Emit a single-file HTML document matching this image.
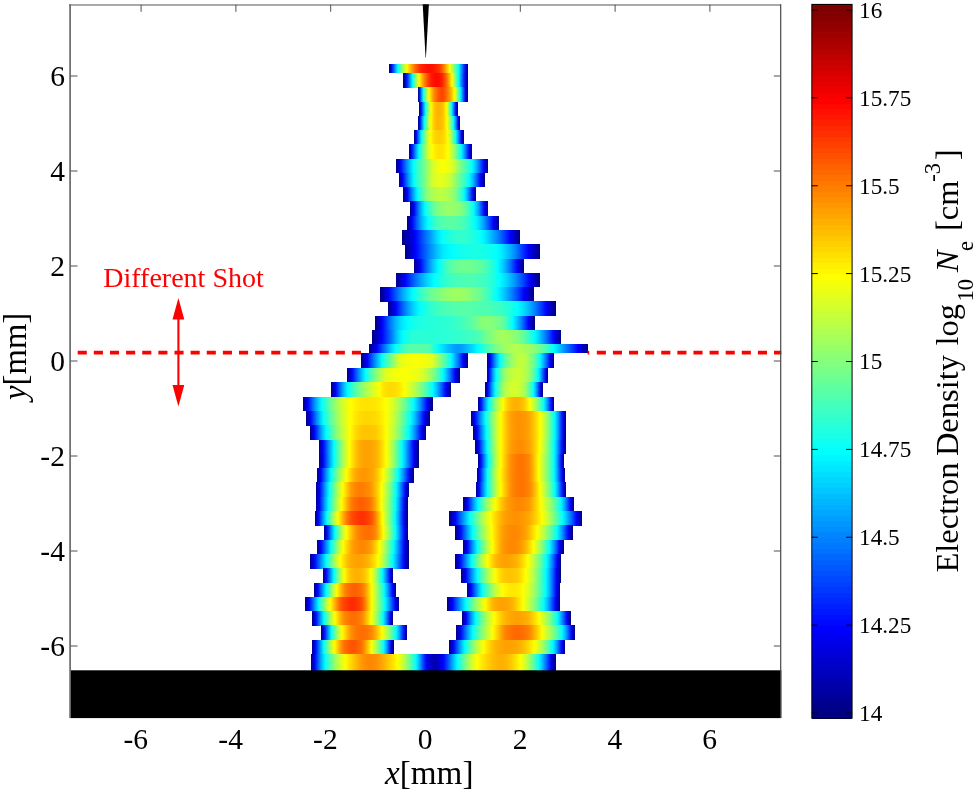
<!DOCTYPE html><html><head><meta charset="utf-8"><title>Electron Density</title><style>html,body{margin:0;padding:0;background:#fff}svg{display:block}text{font-family:"Liberation Serif","Times New Roman",serif;fill:#000}</style></head><body>
<svg width="976" height="792" viewBox="0 0 976 792">
<defs><linearGradient id="g1"><stop offset="0.0000" stop-color="#000080"/><stop offset="0.0256" stop-color="#0000e6"/><stop offset="0.0513" stop-color="#0047ff"/><stop offset="0.0769" stop-color="#009eff"/><stop offset="0.1026" stop-color="#00ecff"/><stop offset="0.1093" stop-color="#00ffff"/><stop offset="0.1282" stop-color="#32ffcd"/><stop offset="0.1538" stop-color="#71ff8e"/><stop offset="0.1795" stop-color="#aaff55"/><stop offset="0.2051" stop-color="#ddff22"/><stop offset="0.2236" stop-color="#ffff00"/><stop offset="0.2308" stop-color="#fff400"/><stop offset="0.2564" stop-color="#ffcd00"/><stop offset="0.2821" stop-color="#ffa800"/><stop offset="0.3077" stop-color="#ff8500"/><stop offset="0.3278" stop-color="#ff6e00"/><stop offset="0.3333" stop-color="#ff6800"/><stop offset="0.3590" stop-color="#ff4c00"/><stop offset="0.3846" stop-color="#ff3400"/><stop offset="0.4103" stop-color="#ff2400"/><stop offset="0.4168" stop-color="#ff2100"/><stop offset="0.4359" stop-color="#ff1b00"/><stop offset="0.4615" stop-color="#ff1400"/><stop offset="0.4872" stop-color="#ff0f00"/><stop offset="0.5128" stop-color="#ff0d00"/><stop offset="0.5184" stop-color="#ff0d00"/><stop offset="0.5385" stop-color="#ff0e00"/><stop offset="0.5641" stop-color="#ff1400"/><stop offset="0.5897" stop-color="#ff1e00"/><stop offset="0.6154" stop-color="#ff2900"/><stop offset="0.6201" stop-color="#ff2b00"/><stop offset="0.6410" stop-color="#ff3b00"/><stop offset="0.6667" stop-color="#ff5800"/><stop offset="0.6836" stop-color="#ff6e00"/><stop offset="0.6923" stop-color="#ff7a00"/><stop offset="0.7179" stop-color="#ffa600"/><stop offset="0.7436" stop-color="#ffd500"/><stop offset="0.7662" stop-color="#ffff00"/><stop offset="0.7692" stop-color="#f9ff06"/><stop offset="0.7949" stop-color="#c5ff3a"/><stop offset="0.8205" stop-color="#8eff71"/><stop offset="0.8462" stop-color="#55ffaa"/><stop offset="0.8718" stop-color="#17ffe8"/><stop offset="0.8806" stop-color="#00ffff"/><stop offset="0.8974" stop-color="#00d1ff"/><stop offset="0.9231" stop-color="#0086ff"/><stop offset="0.9487" stop-color="#0034ff"/><stop offset="0.9744" stop-color="#0000dc"/><stop offset="1.0000" stop-color="#000080"/></linearGradient><linearGradient id="g2"><stop offset="0.0000" stop-color="#000080"/><stop offset="0.0313" stop-color="#0000d6"/><stop offset="0.0625" stop-color="#002bff"/><stop offset="0.0937" stop-color="#007fff"/><stop offset="0.1250" stop-color="#00d1ff"/><stop offset="0.1424" stop-color="#00ffff"/><stop offset="0.1563" stop-color="#25ffda"/><stop offset="0.1875" stop-color="#7bff84"/><stop offset="0.2187" stop-color="#cbff34"/><stop offset="0.2430" stop-color="#ffff00"/><stop offset="0.2500" stop-color="#fff400"/><stop offset="0.2812" stop-color="#ffc300"/><stop offset="0.3125" stop-color="#ff9500"/><stop offset="0.3438" stop-color="#ff6d00"/><stop offset="0.3669" stop-color="#ff5400"/><stop offset="0.3750" stop-color="#ff4c00"/><stop offset="0.4062" stop-color="#ff2e00"/><stop offset="0.4375" stop-color="#ff1a00"/><stop offset="0.4443" stop-color="#ff1700"/><stop offset="0.4688" stop-color="#ff1000"/><stop offset="0.5000" stop-color="#ff0900"/><stop offset="0.5217" stop-color="#ff0800"/><stop offset="0.5312" stop-color="#ff0800"/><stop offset="0.5625" stop-color="#ff1000"/><stop offset="0.5938" stop-color="#ff1e00"/><stop offset="0.5991" stop-color="#ff2100"/><stop offset="0.6250" stop-color="#ff3600"/><stop offset="0.6562" stop-color="#ff5d00"/><stop offset="0.6687" stop-color="#ff6e00"/><stop offset="0.6875" stop-color="#ff8900"/><stop offset="0.7188" stop-color="#ffc000"/><stop offset="0.7500" stop-color="#fff800"/><stop offset="0.7539" stop-color="#ffff00"/><stop offset="0.7812" stop-color="#c0ff3f"/><stop offset="0.8125" stop-color="#70ff8f"/><stop offset="0.8437" stop-color="#1cffe3"/><stop offset="0.8545" stop-color="#00ffff"/><stop offset="0.8750" stop-color="#00caff"/><stop offset="0.9063" stop-color="#0079ff"/><stop offset="0.9375" stop-color="#0027ff"/><stop offset="0.9687" stop-color="#0000d3"/><stop offset="1.0000" stop-color="#000080"/></linearGradient><linearGradient id="g3"><stop offset="0.0000" stop-color="#000080"/><stop offset="0.0400" stop-color="#001fff"/><stop offset="0.0800" stop-color="#00aaff"/><stop offset="0.1087" stop-color="#00ffff"/><stop offset="0.1200" stop-color="#1effe1"/><stop offset="0.1600" stop-color="#81ff7e"/><stop offset="0.2000" stop-color="#d4ff2b"/><stop offset="0.2254" stop-color="#ffff00"/><stop offset="0.2400" stop-color="#ffec00"/><stop offset="0.2800" stop-color="#ffbb00"/><stop offset="0.3200" stop-color="#ff9000"/><stop offset="0.3461" stop-color="#ff7d00"/><stop offset="0.3600" stop-color="#ff7500"/><stop offset="0.4000" stop-color="#ff5e00"/><stop offset="0.4400" stop-color="#ff4d00"/><stop offset="0.4800" stop-color="#ff4500"/><stop offset="0.4869" stop-color="#ff4500"/><stop offset="0.5200" stop-color="#ff4b00"/><stop offset="0.5600" stop-color="#ff6000"/><stop offset="0.6000" stop-color="#ff7c00"/><stop offset="0.6278" stop-color="#ff9100"/><stop offset="0.6400" stop-color="#ff9b00"/><stop offset="0.6800" stop-color="#ffc000"/><stop offset="0.7200" stop-color="#ffeb00"/><stop offset="0.7364" stop-color="#ffff00"/><stop offset="0.7600" stop-color="#d7ff28"/><stop offset="0.8000" stop-color="#81ff7e"/><stop offset="0.8400" stop-color="#20ffdf"/><stop offset="0.8531" stop-color="#00ffff"/><stop offset="0.8800" stop-color="#00beff"/><stop offset="0.9200" stop-color="#0059ff"/><stop offset="0.9600" stop-color="#0000ee"/><stop offset="1.0000" stop-color="#000080"/></linearGradient><linearGradient id="g4"><stop offset="0.0000" stop-color="#000080"/><stop offset="0.0526" stop-color="#000bff"/><stop offset="0.1053" stop-color="#0089ff"/><stop offset="0.1579" stop-color="#00f9ff"/><stop offset="0.1610" stop-color="#00ffff"/><stop offset="0.2105" stop-color="#62ff9d"/><stop offset="0.2632" stop-color="#c1ff3e"/><stop offset="0.3117" stop-color="#ffff00"/><stop offset="0.3158" stop-color="#fffc00"/><stop offset="0.3684" stop-color="#ffd400"/><stop offset="0.4211" stop-color="#ffbc00"/><stop offset="0.4262" stop-color="#ffbb00"/><stop offset="0.4737" stop-color="#ffb200"/><stop offset="0.5091" stop-color="#ffb000"/><stop offset="0.5263" stop-color="#ffb100"/><stop offset="0.5789" stop-color="#ffb900"/><stop offset="0.5909" stop-color="#ffbb00"/><stop offset="0.6316" stop-color="#ffca00"/><stop offset="0.6842" stop-color="#ffee00"/><stop offset="0.7039" stop-color="#ffff00"/><stop offset="0.7368" stop-color="#d3ff2c"/><stop offset="0.7895" stop-color="#6cff93"/><stop offset="0.8390" stop-color="#00ffff"/><stop offset="0.8421" stop-color="#00f8ff"/><stop offset="0.8947" stop-color="#0085ff"/><stop offset="0.9474" stop-color="#0007ff"/><stop offset="1.0000" stop-color="#000080"/></linearGradient><linearGradient id="g5"><stop offset="0.0000" stop-color="#000080"/><stop offset="0.0476" stop-color="#000aff"/><stop offset="0.0952" stop-color="#0086ff"/><stop offset="0.1429" stop-color="#00f1ff"/><stop offset="0.1500" stop-color="#00ffff"/><stop offset="0.1905" stop-color="#4effb1"/><stop offset="0.2381" stop-color="#a2ff5d"/><stop offset="0.2857" stop-color="#e6ff19"/><stop offset="0.3095" stop-color="#ffff00"/><stop offset="0.3333" stop-color="#ffeb00"/><stop offset="0.3810" stop-color="#ffcb00"/><stop offset="0.4131" stop-color="#ffbf00"/><stop offset="0.4286" stop-color="#ffbc00"/><stop offset="0.4762" stop-color="#ffb500"/><stop offset="0.4881" stop-color="#ffb500"/><stop offset="0.5238" stop-color="#ffb800"/><stop offset="0.5701" stop-color="#ffbf00"/><stop offset="0.5714" stop-color="#ffbf00"/><stop offset="0.6190" stop-color="#ffd200"/><stop offset="0.6667" stop-color="#fff200"/><stop offset="0.6833" stop-color="#ffff00"/><stop offset="0.7143" stop-color="#deff21"/><stop offset="0.7619" stop-color="#99ff66"/><stop offset="0.8095" stop-color="#44ffbb"/><stop offset="0.8452" stop-color="#00ffff"/><stop offset="0.8571" stop-color="#00e7ff"/><stop offset="0.9048" stop-color="#007eff"/><stop offset="0.9524" stop-color="#0006ff"/><stop offset="1.0000" stop-color="#000080"/></linearGradient><linearGradient id="g6"><stop offset="0.0000" stop-color="#000080"/><stop offset="0.0400" stop-color="#0000f8"/><stop offset="0.0800" stop-color="#0067ff"/><stop offset="0.1200" stop-color="#00c7ff"/><stop offset="0.1478" stop-color="#00ffff"/><stop offset="0.1600" stop-color="#16ffe9"/><stop offset="0.2000" stop-color="#5cffa3"/><stop offset="0.2400" stop-color="#9bff64"/><stop offset="0.2800" stop-color="#d0ff2f"/><stop offset="0.3200" stop-color="#f8ff07"/><stop offset="0.3300" stop-color="#ffff00"/><stop offset="0.3600" stop-color="#ffee00"/><stop offset="0.4000" stop-color="#ffdb00"/><stop offset="0.4321" stop-color="#ffd300"/><stop offset="0.4400" stop-color="#ffd200"/><stop offset="0.4800" stop-color="#ffce00"/><stop offset="0.5061" stop-color="#ffcd00"/><stop offset="0.5200" stop-color="#ffcd00"/><stop offset="0.5600" stop-color="#ffd100"/><stop offset="0.5775" stop-color="#ffd300"/><stop offset="0.6000" stop-color="#ffd800"/><stop offset="0.6400" stop-color="#ffe900"/><stop offset="0.6761" stop-color="#ffff00"/><stop offset="0.6800" stop-color="#fcff03"/><stop offset="0.7200" stop-color="#d1ff2e"/><stop offset="0.7600" stop-color="#94ff6b"/><stop offset="0.8000" stop-color="#4cffb3"/><stop offset="0.8400" stop-color="#00ffff"/><stop offset="0.8401" stop-color="#00ffff"/><stop offset="0.8800" stop-color="#00aeff"/><stop offset="0.9200" stop-color="#0052ff"/><stop offset="0.9600" stop-color="#0000ec"/><stop offset="1.0000" stop-color="#000080"/></linearGradient><linearGradient id="g7"><stop offset="0.0000" stop-color="#000080"/><stop offset="0.0312" stop-color="#0000d7"/><stop offset="0.0625" stop-color="#002bff"/><stop offset="0.0937" stop-color="#0078ff"/><stop offset="0.1250" stop-color="#00bcff"/><stop offset="0.1562" stop-color="#00f7ff"/><stop offset="0.1611" stop-color="#00ffff"/><stop offset="0.1875" stop-color="#2bffd4"/><stop offset="0.2188" stop-color="#5cffa3"/><stop offset="0.2500" stop-color="#8aff75"/><stop offset="0.2813" stop-color="#b3ff4c"/><stop offset="0.3125" stop-color="#d5ff2a"/><stop offset="0.3438" stop-color="#f1ff0e"/><stop offset="0.3665" stop-color="#ffff00"/><stop offset="0.3750" stop-color="#fffb00"/><stop offset="0.4062" stop-color="#ffef00"/><stop offset="0.4375" stop-color="#ffe700"/><stop offset="0.4398" stop-color="#ffe700"/><stop offset="0.4687" stop-color="#ffe400"/><stop offset="0.4929" stop-color="#ffe300"/><stop offset="0.5000" stop-color="#ffe400"/><stop offset="0.5313" stop-color="#ffe600"/><stop offset="0.5413" stop-color="#ffe700"/><stop offset="0.5625" stop-color="#ffec00"/><stop offset="0.5938" stop-color="#fff800"/><stop offset="0.6082" stop-color="#ffff00"/><stop offset="0.6250" stop-color="#f5ff0a"/><stop offset="0.6563" stop-color="#dcff23"/><stop offset="0.6875" stop-color="#bcff43"/><stop offset="0.7187" stop-color="#98ff67"/><stop offset="0.7500" stop-color="#6eff91"/><stop offset="0.7812" stop-color="#42ffbd"/><stop offset="0.8125" stop-color="#13ffec"/><stop offset="0.8246" stop-color="#00ffff"/><stop offset="0.8438" stop-color="#00e0ff"/><stop offset="0.8750" stop-color="#00a6ff"/><stop offset="0.9063" stop-color="#0065ff"/><stop offset="0.9375" stop-color="#001eff"/><stop offset="0.9688" stop-color="#0000d0"/><stop offset="1.0000" stop-color="#000080"/></linearGradient><linearGradient id="g8"><stop offset="0.0000" stop-color="#000080"/><stop offset="0.0217" stop-color="#0000b7"/><stop offset="0.0435" stop-color="#0000ec"/><stop offset="0.0652" stop-color="#0020ff"/><stop offset="0.0870" stop-color="#004fff"/><stop offset="0.1087" stop-color="#007bff"/><stop offset="0.1304" stop-color="#00a3ff"/><stop offset="0.1522" stop-color="#00c8ff"/><stop offset="0.1739" stop-color="#00e9ff"/><stop offset="0.1902" stop-color="#00ffff"/><stop offset="0.1957" stop-color="#07fff8"/><stop offset="0.2174" stop-color="#20ffdf"/><stop offset="0.2391" stop-color="#36ffc9"/><stop offset="0.2609" stop-color="#4affb5"/><stop offset="0.2826" stop-color="#5dffa2"/><stop offset="0.3043" stop-color="#70ff8f"/><stop offset="0.3207" stop-color="#80ff80"/><stop offset="0.3261" stop-color="#85ff7a"/><stop offset="0.3478" stop-color="#9dff62"/><stop offset="0.3696" stop-color="#b6ff49"/><stop offset="0.3913" stop-color="#ccff33"/><stop offset="0.4130" stop-color="#dbff24"/><stop offset="0.4348" stop-color="#e5ff1a"/><stop offset="0.4565" stop-color="#eeff11"/><stop offset="0.4783" stop-color="#f5ff0a"/><stop offset="0.5000" stop-color="#f9ff06"/><stop offset="0.5109" stop-color="#faff05"/><stop offset="0.5217" stop-color="#f9ff06"/><stop offset="0.5435" stop-color="#f6ff09"/><stop offset="0.5652" stop-color="#efff10"/><stop offset="0.5870" stop-color="#e6ff19"/><stop offset="0.6087" stop-color="#dbff24"/><stop offset="0.6304" stop-color="#cbff34"/><stop offset="0.6522" stop-color="#b3ff4c"/><stop offset="0.6739" stop-color="#98ff67"/><stop offset="0.6957" stop-color="#80ff80"/><stop offset="0.7174" stop-color="#6bff94"/><stop offset="0.7391" stop-color="#58ffa7"/><stop offset="0.7609" stop-color="#45ffba"/><stop offset="0.7826" stop-color="#31ffce"/><stop offset="0.8043" stop-color="#1affe5"/><stop offset="0.8261" stop-color="#00ffff"/><stop offset="0.8478" stop-color="#00dfff"/><stop offset="0.8696" stop-color="#00baff"/><stop offset="0.8913" stop-color="#0090ff"/><stop offset="0.9130" stop-color="#0062ff"/><stop offset="0.9348" stop-color="#002fff"/><stop offset="0.9565" stop-color="#0000f7"/><stop offset="0.9783" stop-color="#0000bd"/><stop offset="1.0000" stop-color="#000080"/></linearGradient><linearGradient id="g9"><stop offset="0.0000" stop-color="#000080"/><stop offset="0.0233" stop-color="#0000bf"/><stop offset="0.0465" stop-color="#0000fb"/><stop offset="0.0698" stop-color="#0034ff"/><stop offset="0.0930" stop-color="#0068ff"/><stop offset="0.1163" stop-color="#0097ff"/><stop offset="0.1395" stop-color="#00c2ff"/><stop offset="0.1628" stop-color="#00e7ff"/><stop offset="0.1802" stop-color="#00ffff"/><stop offset="0.1860" stop-color="#07fff8"/><stop offset="0.2093" stop-color="#22ffdd"/><stop offset="0.2326" stop-color="#38ffc7"/><stop offset="0.2558" stop-color="#4cffb3"/><stop offset="0.2791" stop-color="#60ff9f"/><stop offset="0.3023" stop-color="#74ff8b"/><stop offset="0.3140" stop-color="#80ff80"/><stop offset="0.3256" stop-color="#8cff73"/><stop offset="0.3488" stop-color="#a7ff58"/><stop offset="0.3721" stop-color="#c0ff3f"/><stop offset="0.3895" stop-color="#ccff33"/><stop offset="0.3953" stop-color="#cfff30"/><stop offset="0.4186" stop-color="#d8ff27"/><stop offset="0.4419" stop-color="#e0ff1f"/><stop offset="0.4651" stop-color="#e4ff1b"/><stop offset="0.4826" stop-color="#e5ff1a"/><stop offset="0.4884" stop-color="#e5ff1a"/><stop offset="0.5116" stop-color="#e3ff1c"/><stop offset="0.5349" stop-color="#deff21"/><stop offset="0.5581" stop-color="#d7ff28"/><stop offset="0.5814" stop-color="#ceff31"/><stop offset="0.5872" stop-color="#ccff33"/><stop offset="0.6047" stop-color="#c3ff3c"/><stop offset="0.6279" stop-color="#b1ff4e"/><stop offset="0.6512" stop-color="#9bff64"/><stop offset="0.6744" stop-color="#85ff7a"/><stop offset="0.6802" stop-color="#80ff80"/><stop offset="0.6977" stop-color="#71ff8e"/><stop offset="0.7209" stop-color="#5effa1"/><stop offset="0.7442" stop-color="#4bffb4"/><stop offset="0.7674" stop-color="#37ffc8"/><stop offset="0.7907" stop-color="#21ffde"/><stop offset="0.8140" stop-color="#07fff8"/><stop offset="0.8198" stop-color="#00ffff"/><stop offset="0.8372" stop-color="#00e7ff"/><stop offset="0.8605" stop-color="#00c3ff"/><stop offset="0.8837" stop-color="#0098ff"/><stop offset="0.9070" stop-color="#0069ff"/><stop offset="0.9302" stop-color="#0035ff"/><stop offset="0.9535" stop-color="#0000fb"/><stop offset="0.9767" stop-color="#0000bf"/><stop offset="1.0000" stop-color="#000080"/></linearGradient><linearGradient id="g10"><stop offset="0.0000" stop-color="#000080"/><stop offset="0.0278" stop-color="#0000c3"/><stop offset="0.0556" stop-color="#0003ff"/><stop offset="0.0833" stop-color="#003fff"/><stop offset="0.1111" stop-color="#0076ff"/><stop offset="0.1389" stop-color="#00a8ff"/><stop offset="0.1667" stop-color="#00d5ff"/><stop offset="0.1944" stop-color="#00fbff"/><stop offset="0.1975" stop-color="#00ffff"/><stop offset="0.2222" stop-color="#1effe1"/><stop offset="0.2500" stop-color="#3fffc0"/><stop offset="0.2778" stop-color="#5dffa2"/><stop offset="0.3056" stop-color="#78ff87"/><stop offset="0.3333" stop-color="#8dff72"/><stop offset="0.3611" stop-color="#9dff62"/><stop offset="0.3715" stop-color="#a0ff5f"/><stop offset="0.3889" stop-color="#a6ff59"/><stop offset="0.4167" stop-color="#aeff51"/><stop offset="0.4444" stop-color="#b5ff4a"/><stop offset="0.4722" stop-color="#baff45"/><stop offset="0.5000" stop-color="#bcff43"/><stop offset="0.5138" stop-color="#bdff42"/><stop offset="0.5278" stop-color="#bcff43"/><stop offset="0.5556" stop-color="#baff45"/><stop offset="0.5833" stop-color="#b5ff4a"/><stop offset="0.6111" stop-color="#aeff51"/><stop offset="0.6389" stop-color="#a7ff58"/><stop offset="0.6593" stop-color="#a0ff5f"/><stop offset="0.6667" stop-color="#9eff61"/><stop offset="0.6944" stop-color="#90ff6f"/><stop offset="0.7222" stop-color="#7dff82"/><stop offset="0.7500" stop-color="#65ff9a"/><stop offset="0.7778" stop-color="#48ffb7"/><stop offset="0.8056" stop-color="#28ffd7"/><stop offset="0.8333" stop-color="#05fffa"/><stop offset="0.8370" stop-color="#00ffff"/><stop offset="0.8611" stop-color="#00dbff"/><stop offset="0.8889" stop-color="#00a6ff"/><stop offset="0.9167" stop-color="#0067ff"/><stop offset="0.9444" stop-color="#0020ff"/><stop offset="0.9722" stop-color="#0000d2"/><stop offset="1.0000" stop-color="#000080"/></linearGradient><linearGradient id="g11"><stop offset="0.0000" stop-color="#000080"/><stop offset="0.0256" stop-color="#0000c0"/><stop offset="0.0513" stop-color="#0000fe"/><stop offset="0.0769" stop-color="#0039ff"/><stop offset="0.1026" stop-color="#006eff"/><stop offset="0.1282" stop-color="#009eff"/><stop offset="0.1538" stop-color="#00c8ff"/><stop offset="0.1795" stop-color="#00ecff"/><stop offset="0.1962" stop-color="#00ffff"/><stop offset="0.2051" stop-color="#0afff5"/><stop offset="0.2308" stop-color="#24ffdb"/><stop offset="0.2564" stop-color="#3cffc3"/><stop offset="0.2821" stop-color="#52ffad"/><stop offset="0.3077" stop-color="#64ff9b"/><stop offset="0.3333" stop-color="#74ff8b"/><stop offset="0.3590" stop-color="#7fff80"/><stop offset="0.3703" stop-color="#82ff7d"/><stop offset="0.3846" stop-color="#86ff79"/><stop offset="0.4103" stop-color="#8cff73"/><stop offset="0.4359" stop-color="#91ff6e"/><stop offset="0.4615" stop-color="#95ff6a"/><stop offset="0.4872" stop-color="#98ff67"/><stop offset="0.5128" stop-color="#99ff66"/><stop offset="0.5385" stop-color="#98ff67"/><stop offset="0.5641" stop-color="#95ff6a"/><stop offset="0.5897" stop-color="#90ff6f"/><stop offset="0.6154" stop-color="#8bff74"/><stop offset="0.6410" stop-color="#84ff7b"/><stop offset="0.6478" stop-color="#82ff7d"/><stop offset="0.6667" stop-color="#7bff84"/><stop offset="0.6923" stop-color="#6eff91"/><stop offset="0.7179" stop-color="#5dffa2"/><stop offset="0.7436" stop-color="#47ffb8"/><stop offset="0.7692" stop-color="#2fffd0"/><stop offset="0.7949" stop-color="#14ffeb"/><stop offset="0.8128" stop-color="#00ffff"/><stop offset="0.8205" stop-color="#00f6ff"/><stop offset="0.8462" stop-color="#00d3ff"/><stop offset="0.8718" stop-color="#00a8ff"/><stop offset="0.8974" stop-color="#0077ff"/><stop offset="0.9231" stop-color="#0041ff"/><stop offset="0.9487" stop-color="#0005ff"/><stop offset="0.9744" stop-color="#0000c3"/><stop offset="1.0000" stop-color="#000080"/></linearGradient><linearGradient id="g12"><stop offset="0.0000" stop-color="#000080"/><stop offset="0.0217" stop-color="#0000b2"/><stop offset="0.0435" stop-color="#0000e2"/><stop offset="0.0652" stop-color="#0010ff"/><stop offset="0.0870" stop-color="#003bff"/><stop offset="0.1087" stop-color="#0063ff"/><stop offset="0.1304" stop-color="#0087ff"/><stop offset="0.1522" stop-color="#00a8ff"/><stop offset="0.1739" stop-color="#00c6ff"/><stop offset="0.1957" stop-color="#00e0ff"/><stop offset="0.2174" stop-color="#00f6ff"/><stop offset="0.2273" stop-color="#00ffff"/><stop offset="0.2391" stop-color="#0afff5"/><stop offset="0.2609" stop-color="#1bffe4"/><stop offset="0.2826" stop-color="#2bffd4"/><stop offset="0.3043" stop-color="#38ffc7"/><stop offset="0.3261" stop-color="#43ffbc"/><stop offset="0.3478" stop-color="#4bffb4"/><stop offset="0.3582" stop-color="#4effb1"/><stop offset="0.3696" stop-color="#50ffaf"/><stop offset="0.3913" stop-color="#54ffab"/><stop offset="0.4130" stop-color="#58ffa7"/><stop offset="0.4348" stop-color="#5affa5"/><stop offset="0.4565" stop-color="#5cffa3"/><stop offset="0.4654" stop-color="#5cffa3"/><stop offset="0.4783" stop-color="#5cffa3"/><stop offset="0.5000" stop-color="#5affa5"/><stop offset="0.5217" stop-color="#58ffa7"/><stop offset="0.5435" stop-color="#55ffaa"/><stop offset="0.5652" stop-color="#52ffad"/><stop offset="0.5870" stop-color="#4effb1"/><stop offset="0.5871" stop-color="#4effb1"/><stop offset="0.6087" stop-color="#49ffb6"/><stop offset="0.6304" stop-color="#41ffbe"/><stop offset="0.6522" stop-color="#36ffc9"/><stop offset="0.6739" stop-color="#2affd5"/><stop offset="0.6957" stop-color="#1cffe3"/><stop offset="0.7174" stop-color="#0dfff2"/><stop offset="0.7359" stop-color="#00ffff"/><stop offset="0.7391" stop-color="#00fdff"/><stop offset="0.7609" stop-color="#00ebff"/><stop offset="0.7826" stop-color="#00d6ff"/><stop offset="0.8043" stop-color="#00beff"/><stop offset="0.8261" stop-color="#00a4ff"/><stop offset="0.8478" stop-color="#0087ff"/><stop offset="0.8696" stop-color="#0068ff"/><stop offset="0.8913" stop-color="#0047ff"/><stop offset="0.9130" stop-color="#0023ff"/><stop offset="0.9348" stop-color="#0000fc"/><stop offset="0.9565" stop-color="#0000d5"/><stop offset="0.9783" stop-color="#0000ab"/><stop offset="1.0000" stop-color="#000080"/></linearGradient><linearGradient id="g13"><stop offset="0.0000" stop-color="#000080"/><stop offset="0.0169" stop-color="#000092"/><stop offset="0.0339" stop-color="#0000a5"/><stop offset="0.0508" stop-color="#0000b8"/><stop offset="0.0678" stop-color="#0000cb"/><stop offset="0.0847" stop-color="#0000df"/><stop offset="0.1017" stop-color="#0000f2"/><stop offset="0.1124" stop-color="#0000ff"/><stop offset="0.1186" stop-color="#0007ff"/><stop offset="0.1356" stop-color="#001cff"/><stop offset="0.1525" stop-color="#0031ff"/><stop offset="0.1695" stop-color="#0047ff"/><stop offset="0.1864" stop-color="#005cff"/><stop offset="0.2034" stop-color="#0070ff"/><stop offset="0.2172" stop-color="#0080ff"/><stop offset="0.2203" stop-color="#0083ff"/><stop offset="0.2373" stop-color="#0096ff"/><stop offset="0.2542" stop-color="#00a9ff"/><stop offset="0.2712" stop-color="#00bdff"/><stop offset="0.2881" stop-color="#00d0ff"/><stop offset="0.3051" stop-color="#00e1ff"/><stop offset="0.3220" stop-color="#00f1ff"/><stop offset="0.3390" stop-color="#00ffff"/><stop offset="0.3559" stop-color="#0bfff4"/><stop offset="0.3660" stop-color="#0ffff0"/><stop offset="0.3729" stop-color="#12ffed"/><stop offset="0.3898" stop-color="#19ffe6"/><stop offset="0.4068" stop-color="#1fffe0"/><stop offset="0.4237" stop-color="#25ffda"/><stop offset="0.4407" stop-color="#2affd5"/><stop offset="0.4576" stop-color="#2effd1"/><stop offset="0.4746" stop-color="#31ffce"/><stop offset="0.4915" stop-color="#33ffcc"/><stop offset="0.5013" stop-color="#33ffcc"/><stop offset="0.5085" stop-color="#33ffcc"/><stop offset="0.5254" stop-color="#32ffcd"/><stop offset="0.5424" stop-color="#2fffd0"/><stop offset="0.5593" stop-color="#2cffd3"/><stop offset="0.5763" stop-color="#27ffd8"/><stop offset="0.5932" stop-color="#22ffdd"/><stop offset="0.6102" stop-color="#1cffe3"/><stop offset="0.6271" stop-color="#16ffe9"/><stop offset="0.6441" stop-color="#10ffef"/><stop offset="0.6450" stop-color="#0ffff0"/><stop offset="0.6610" stop-color="#08fff7"/><stop offset="0.6780" stop-color="#00fdff"/><stop offset="0.6949" stop-color="#00f2ff"/><stop offset="0.7119" stop-color="#00e4ff"/><stop offset="0.7288" stop-color="#00d5ff"/><stop offset="0.7458" stop-color="#00c5ff"/><stop offset="0.7627" stop-color="#00b4ff"/><stop offset="0.7797" stop-color="#00a3ff"/><stop offset="0.7966" stop-color="#0092ff"/><stop offset="0.8136" stop-color="#0080ff"/><stop offset="0.8140" stop-color="#0080ff"/><stop offset="0.8305" stop-color="#006eff"/><stop offset="0.8475" stop-color="#005aff"/><stop offset="0.8644" stop-color="#0045ff"/><stop offset="0.8814" stop-color="#002eff"/><stop offset="0.8983" stop-color="#0018ff"/><stop offset="0.9153" stop-color="#0000ff"/><stop offset="0.9155" stop-color="#0000ff"/><stop offset="0.9322" stop-color="#0000e7"/><stop offset="0.9492" stop-color="#0000cf"/><stop offset="0.9661" stop-color="#0000b5"/><stop offset="0.9831" stop-color="#00009b"/><stop offset="1.0000" stop-color="#000080"/></linearGradient><linearGradient id="g14"><stop offset="0.0000" stop-color="#000080"/><stop offset="0.0147" stop-color="#000098"/><stop offset="0.0294" stop-color="#0000b0"/><stop offset="0.0441" stop-color="#0000c8"/><stop offset="0.0588" stop-color="#0000de"/><stop offset="0.0735" stop-color="#0000f4"/><stop offset="0.0882" stop-color="#000bff"/><stop offset="0.0990" stop-color="#001aff"/><stop offset="0.1029" stop-color="#001fff"/><stop offset="0.1176" stop-color="#0033ff"/><stop offset="0.1324" stop-color="#0046ff"/><stop offset="0.1471" stop-color="#0059ff"/><stop offset="0.1618" stop-color="#006bff"/><stop offset="0.1765" stop-color="#007dff"/><stop offset="0.1912" stop-color="#008dff"/><stop offset="0.2024" stop-color="#0099ff"/><stop offset="0.2059" stop-color="#009dff"/><stop offset="0.2206" stop-color="#00adff"/><stop offset="0.2353" stop-color="#00bdff"/><stop offset="0.2500" stop-color="#00ccff"/><stop offset="0.2647" stop-color="#00daff"/><stop offset="0.2794" stop-color="#00e6ff"/><stop offset="0.2941" stop-color="#00eeff"/><stop offset="0.2984" stop-color="#00f0ff"/><stop offset="0.3088" stop-color="#00f3ff"/><stop offset="0.3235" stop-color="#00f8ff"/><stop offset="0.3382" stop-color="#00fcff"/><stop offset="0.3529" stop-color="#01fffe"/><stop offset="0.3676" stop-color="#05fffa"/><stop offset="0.3824" stop-color="#09fff6"/><stop offset="0.3971" stop-color="#0cfff3"/><stop offset="0.4118" stop-color="#0ffff0"/><stop offset="0.4265" stop-color="#12ffed"/><stop offset="0.4412" stop-color="#14ffeb"/><stop offset="0.4559" stop-color="#16ffe9"/><stop offset="0.4706" stop-color="#17ffe8"/><stop offset="0.4853" stop-color="#18ffe7"/><stop offset="0.5000" stop-color="#19ffe6"/><stop offset="0.5147" stop-color="#19ffe6"/><stop offset="0.5177" stop-color="#1affe5"/><stop offset="0.5294" stop-color="#19ffe6"/><stop offset="0.5441" stop-color="#19ffe6"/><stop offset="0.5588" stop-color="#18ffe7"/><stop offset="0.5735" stop-color="#16ffe9"/><stop offset="0.5882" stop-color="#14ffeb"/><stop offset="0.6029" stop-color="#12ffed"/><stop offset="0.6176" stop-color="#10ffef"/><stop offset="0.6324" stop-color="#0dfff2"/><stop offset="0.6471" stop-color="#0afff5"/><stop offset="0.6618" stop-color="#06fff9"/><stop offset="0.6677" stop-color="#05fffa"/><stop offset="0.6765" stop-color="#02fffd"/><stop offset="0.6912" stop-color="#00fbff"/><stop offset="0.7059" stop-color="#00f2ff"/><stop offset="0.7206" stop-color="#00e7ff"/><stop offset="0.7353" stop-color="#00dbff"/><stop offset="0.7500" stop-color="#00cdff"/><stop offset="0.7647" stop-color="#00c0ff"/><stop offset="0.7784" stop-color="#00b2ff"/><stop offset="0.7794" stop-color="#00b2ff"/><stop offset="0.7941" stop-color="#00a2ff"/><stop offset="0.8088" stop-color="#0091ff"/><stop offset="0.8235" stop-color="#007dff"/><stop offset="0.8382" stop-color="#0069ff"/><stop offset="0.8529" stop-color="#0053ff"/><stop offset="0.8676" stop-color="#003eff"/><stop offset="0.8824" stop-color="#0028ff"/><stop offset="0.8929" stop-color="#001aff"/><stop offset="0.8971" stop-color="#0014ff"/><stop offset="0.9118" stop-color="#0000fe"/><stop offset="0.9265" stop-color="#0000ea"/><stop offset="0.9412" stop-color="#0000d5"/><stop offset="0.9559" stop-color="#0000c0"/><stop offset="0.9706" stop-color="#0000aa"/><stop offset="0.9853" stop-color="#000095"/><stop offset="1.0000" stop-color="#000080"/></linearGradient><linearGradient id="g15"><stop offset="0.0000" stop-color="#000080"/><stop offset="0.0182" stop-color="#0000a8"/><stop offset="0.0364" stop-color="#0000cf"/><stop offset="0.0545" stop-color="#0000f5"/><stop offset="0.0727" stop-color="#001aff"/><stop offset="0.0909" stop-color="#003cff"/><stop offset="0.1091" stop-color="#005dff"/><stop offset="0.1273" stop-color="#007bff"/><stop offset="0.1455" stop-color="#0098ff"/><stop offset="0.1636" stop-color="#00b2ff"/><stop offset="0.1818" stop-color="#00cbff"/><stop offset="0.2000" stop-color="#00e1ff"/><stop offset="0.2182" stop-color="#00f5ff"/><stop offset="0.2281" stop-color="#00ffff"/><stop offset="0.2364" stop-color="#08fff7"/><stop offset="0.2545" stop-color="#19ffe6"/><stop offset="0.2727" stop-color="#2affd5"/><stop offset="0.2909" stop-color="#39ffc6"/><stop offset="0.3091" stop-color="#47ffb8"/><stop offset="0.3273" stop-color="#52ffad"/><stop offset="0.3455" stop-color="#5affa5"/><stop offset="0.3605" stop-color="#5fffa0"/><stop offset="0.3636" stop-color="#60ff9f"/><stop offset="0.3818" stop-color="#65ff9a"/><stop offset="0.4000" stop-color="#68ff97"/><stop offset="0.4182" stop-color="#6cff93"/><stop offset="0.4364" stop-color="#6eff91"/><stop offset="0.4545" stop-color="#70ff8f"/><stop offset="0.4688" stop-color="#70ff8f"/><stop offset="0.4727" stop-color="#70ff8f"/><stop offset="0.4909" stop-color="#70ff8f"/><stop offset="0.5091" stop-color="#6eff91"/><stop offset="0.5273" stop-color="#6cff93"/><stop offset="0.5455" stop-color="#6aff95"/><stop offset="0.5636" stop-color="#66ff99"/><stop offset="0.5818" stop-color="#63ff9c"/><stop offset="0.5999" stop-color="#5fffa0"/><stop offset="0.6000" stop-color="#5fffa0"/><stop offset="0.6182" stop-color="#5bffa4"/><stop offset="0.6364" stop-color="#54ffab"/><stop offset="0.6545" stop-color="#4bffb4"/><stop offset="0.6727" stop-color="#41ffbe"/><stop offset="0.6909" stop-color="#35ffca"/><stop offset="0.7091" stop-color="#29ffd6"/><stop offset="0.7273" stop-color="#1bffe4"/><stop offset="0.7455" stop-color="#0cfff3"/><stop offset="0.7602" stop-color="#00ffff"/><stop offset="0.7636" stop-color="#00fcff"/><stop offset="0.7818" stop-color="#00ebff"/><stop offset="0.8000" stop-color="#00d8ff"/><stop offset="0.8182" stop-color="#00c2ff"/><stop offset="0.8364" stop-color="#00aaff"/><stop offset="0.8545" stop-color="#0090ff"/><stop offset="0.8727" stop-color="#0074ff"/><stop offset="0.8909" stop-color="#0056ff"/><stop offset="0.9091" stop-color="#0037ff"/><stop offset="0.9273" stop-color="#0015ff"/><stop offset="0.9455" stop-color="#0000f1"/><stop offset="0.9636" stop-color="#0000cd"/><stop offset="0.9818" stop-color="#0000a7"/><stop offset="1.0000" stop-color="#000080"/></linearGradient><linearGradient id="g16"><stop offset="0.0000" stop-color="#000080"/><stop offset="0.0139" stop-color="#00009b"/><stop offset="0.0278" stop-color="#0000b6"/><stop offset="0.0417" stop-color="#0000d1"/><stop offset="0.0556" stop-color="#0000ea"/><stop offset="0.0694" stop-color="#0004ff"/><stop offset="0.0833" stop-color="#001cff"/><stop offset="0.0972" stop-color="#0033ff"/><stop offset="0.1111" stop-color="#0049ff"/><stop offset="0.1250" stop-color="#005eff"/><stop offset="0.1389" stop-color="#0072ff"/><stop offset="0.1528" stop-color="#0085ff"/><stop offset="0.1667" stop-color="#0098ff"/><stop offset="0.1806" stop-color="#00a9ff"/><stop offset="0.1944" stop-color="#00b9ff"/><stop offset="0.2083" stop-color="#00c8ff"/><stop offset="0.2222" stop-color="#00d7ff"/><stop offset="0.2361" stop-color="#00e4ff"/><stop offset="0.2500" stop-color="#00f0ff"/><stop offset="0.2639" stop-color="#00faff"/><stop offset="0.2703" stop-color="#00ffff"/><stop offset="0.2778" stop-color="#05fffa"/><stop offset="0.2917" stop-color="#0ffff0"/><stop offset="0.3056" stop-color="#18ffe7"/><stop offset="0.3194" stop-color="#20ffdf"/><stop offset="0.3333" stop-color="#28ffd7"/><stop offset="0.3472" stop-color="#2fffd0"/><stop offset="0.3611" stop-color="#35ffca"/><stop offset="0.3750" stop-color="#3bffc4"/><stop offset="0.3889" stop-color="#3fffc0"/><stop offset="0.4003" stop-color="#41ffbe"/><stop offset="0.4028" stop-color="#41ffbe"/><stop offset="0.4167" stop-color="#44ffbb"/><stop offset="0.4306" stop-color="#46ffb9"/><stop offset="0.4444" stop-color="#48ffb7"/><stop offset="0.4583" stop-color="#4affb5"/><stop offset="0.4722" stop-color="#4bffb4"/><stop offset="0.4861" stop-color="#4cffb3"/><stop offset="0.5000" stop-color="#4cffb3"/><stop offset="0.5066" stop-color="#4dffb2"/><stop offset="0.5139" stop-color="#4cffb3"/><stop offset="0.5278" stop-color="#4cffb3"/><stop offset="0.5417" stop-color="#4bffb4"/><stop offset="0.5556" stop-color="#49ffb6"/><stop offset="0.5694" stop-color="#47ffb8"/><stop offset="0.5833" stop-color="#45ffba"/><stop offset="0.5972" stop-color="#42ffbd"/><stop offset="0.6035" stop-color="#41ffbe"/><stop offset="0.6111" stop-color="#3fffc0"/><stop offset="0.6250" stop-color="#3bffc4"/><stop offset="0.6389" stop-color="#35ffca"/><stop offset="0.6528" stop-color="#2effd1"/><stop offset="0.6667" stop-color="#26ffd9"/><stop offset="0.6806" stop-color="#1effe1"/><stop offset="0.6944" stop-color="#14ffeb"/><stop offset="0.7083" stop-color="#0afff5"/><stop offset="0.7220" stop-color="#00ffff"/><stop offset="0.7222" stop-color="#00ffff"/><stop offset="0.7361" stop-color="#00f4ff"/><stop offset="0.7500" stop-color="#00e8ff"/><stop offset="0.7639" stop-color="#00dcff"/><stop offset="0.7778" stop-color="#00ceff"/><stop offset="0.7917" stop-color="#00c0ff"/><stop offset="0.8056" stop-color="#00b0ff"/><stop offset="0.8194" stop-color="#00a0ff"/><stop offset="0.8333" stop-color="#008fff"/><stop offset="0.8472" stop-color="#007dff"/><stop offset="0.8611" stop-color="#006aff"/><stop offset="0.8750" stop-color="#0056ff"/><stop offset="0.8889" stop-color="#0042ff"/><stop offset="0.9028" stop-color="#002cff"/><stop offset="0.9167" stop-color="#0016ff"/><stop offset="0.9306" stop-color="#0000fe"/><stop offset="0.9444" stop-color="#0000e6"/><stop offset="0.9583" stop-color="#0000ce"/><stop offset="0.9722" stop-color="#0000b4"/><stop offset="0.9861" stop-color="#00009a"/><stop offset="1.0000" stop-color="#000080"/></linearGradient><linearGradient id="g17"><stop offset="0.0000" stop-color="#000080"/><stop offset="0.0130" stop-color="#00009e"/><stop offset="0.0260" stop-color="#0000bc"/><stop offset="0.0390" stop-color="#0000d9"/><stop offset="0.0519" stop-color="#0000f5"/><stop offset="0.0649" stop-color="#0011ff"/><stop offset="0.0779" stop-color="#002cff"/><stop offset="0.0909" stop-color="#0045ff"/><stop offset="0.1039" stop-color="#005dff"/><stop offset="0.1169" stop-color="#0075ff"/><stop offset="0.1299" stop-color="#008bff"/><stop offset="0.1429" stop-color="#00a0ff"/><stop offset="0.1558" stop-color="#00b4ff"/><stop offset="0.1688" stop-color="#00c7ff"/><stop offset="0.1818" stop-color="#00d9ff"/><stop offset="0.1948" stop-color="#00eaff"/><stop offset="0.2078" stop-color="#00f9ff"/><stop offset="0.2130" stop-color="#00ffff"/><stop offset="0.2208" stop-color="#08fff7"/><stop offset="0.2338" stop-color="#16ffe9"/><stop offset="0.2468" stop-color="#23ffdc"/><stop offset="0.2597" stop-color="#30ffcf"/><stop offset="0.2727" stop-color="#3cffc3"/><stop offset="0.2857" stop-color="#47ffb8"/><stop offset="0.2987" stop-color="#51ffae"/><stop offset="0.3117" stop-color="#5bffa4"/><stop offset="0.3247" stop-color="#63ff9c"/><stop offset="0.3377" stop-color="#6aff95"/><stop offset="0.3494" stop-color="#70ff8f"/><stop offset="0.3506" stop-color="#71ff8e"/><stop offset="0.3636" stop-color="#77ff88"/><stop offset="0.3766" stop-color="#7cff83"/><stop offset="0.3896" stop-color="#82ff7d"/><stop offset="0.4026" stop-color="#87ff78"/><stop offset="0.4156" stop-color="#8dff72"/><stop offset="0.4286" stop-color="#91ff6e"/><stop offset="0.4416" stop-color="#95ff6a"/><stop offset="0.4545" stop-color="#99ff66"/><stop offset="0.4675" stop-color="#9bff64"/><stop offset="0.4805" stop-color="#9dff62"/><stop offset="0.4935" stop-color="#9eff61"/><stop offset="0.4987" stop-color="#9eff61"/><stop offset="0.5065" stop-color="#9eff61"/><stop offset="0.5195" stop-color="#9dff62"/><stop offset="0.5325" stop-color="#9aff65"/><stop offset="0.5455" stop-color="#97ff68"/><stop offset="0.5584" stop-color="#93ff6c"/><stop offset="0.5714" stop-color="#8eff71"/><stop offset="0.5844" stop-color="#88ff77"/><stop offset="0.5974" stop-color="#83ff7c"/><stop offset="0.6104" stop-color="#7cff83"/><stop offset="0.6234" stop-color="#76ff89"/><stop offset="0.6351" stop-color="#70ff8f"/><stop offset="0.6364" stop-color="#70ff8f"/><stop offset="0.6494" stop-color="#68ff97"/><stop offset="0.6623" stop-color="#5fffa0"/><stop offset="0.6753" stop-color="#55ffaa"/><stop offset="0.6883" stop-color="#4affb5"/><stop offset="0.7013" stop-color="#3dffc2"/><stop offset="0.7143" stop-color="#30ffcf"/><stop offset="0.7273" stop-color="#22ffdd"/><stop offset="0.7403" stop-color="#14ffeb"/><stop offset="0.7532" stop-color="#06fff9"/><stop offset="0.7584" stop-color="#00ffff"/><stop offset="0.7662" stop-color="#00f6ff"/><stop offset="0.7792" stop-color="#00e7ff"/><stop offset="0.7922" stop-color="#00d7ff"/><stop offset="0.8052" stop-color="#00c6ff"/><stop offset="0.8182" stop-color="#00b5ff"/><stop offset="0.8312" stop-color="#00a3ff"/><stop offset="0.8442" stop-color="#0090ff"/><stop offset="0.8571" stop-color="#007dff"/><stop offset="0.8701" stop-color="#0069ff"/><stop offset="0.8831" stop-color="#0055ff"/><stop offset="0.8961" stop-color="#0040ff"/><stop offset="0.9091" stop-color="#002aff"/><stop offset="0.9221" stop-color="#0014ff"/><stop offset="0.9351" stop-color="#0000fc"/><stop offset="0.9481" stop-color="#0000e4"/><stop offset="0.9610" stop-color="#0000cc"/><stop offset="0.9740" stop-color="#0000b3"/><stop offset="0.9870" stop-color="#00009a"/><stop offset="1.0000" stop-color="#000080"/></linearGradient><linearGradient id="g18"><stop offset="0.0000" stop-color="#000080"/><stop offset="0.0119" stop-color="#0000a1"/><stop offset="0.0238" stop-color="#0000c2"/><stop offset="0.0357" stop-color="#0000e2"/><stop offset="0.0476" stop-color="#0002ff"/><stop offset="0.0595" stop-color="#0020ff"/><stop offset="0.0714" stop-color="#003cff"/><stop offset="0.0833" stop-color="#0057ff"/><stop offset="0.0952" stop-color="#0070ff"/><stop offset="0.1071" stop-color="#0088ff"/><stop offset="0.1190" stop-color="#009fff"/><stop offset="0.1310" stop-color="#00b3ff"/><stop offset="0.1429" stop-color="#00c6ff"/><stop offset="0.1548" stop-color="#00d7ff"/><stop offset="0.1667" stop-color="#00e6ff"/><stop offset="0.1786" stop-color="#00f4ff"/><stop offset="0.1905" stop-color="#00ffff"/><stop offset="0.1909" stop-color="#00ffff"/><stop offset="0.2024" stop-color="#09fff6"/><stop offset="0.2143" stop-color="#12ffed"/><stop offset="0.2262" stop-color="#1bffe4"/><stop offset="0.2381" stop-color="#23ffdc"/><stop offset="0.2500" stop-color="#2affd5"/><stop offset="0.2619" stop-color="#30ffcf"/><stop offset="0.2738" stop-color="#36ffc9"/><stop offset="0.2857" stop-color="#3bffc4"/><stop offset="0.2976" stop-color="#3fffc0"/><stop offset="0.3095" stop-color="#42ffbd"/><stop offset="0.3103" stop-color="#42ffbd"/><stop offset="0.3214" stop-color="#45ffba"/><stop offset="0.3333" stop-color="#48ffb7"/><stop offset="0.3452" stop-color="#4affb5"/><stop offset="0.3571" stop-color="#4dffb2"/><stop offset="0.3690" stop-color="#4fffb0"/><stop offset="0.3810" stop-color="#51ffae"/><stop offset="0.3929" stop-color="#53ffac"/><stop offset="0.4048" stop-color="#54ffab"/><stop offset="0.4167" stop-color="#55ffaa"/><stop offset="0.4286" stop-color="#56ffa9"/><stop offset="0.4405" stop-color="#57ffa8"/><stop offset="0.4475" stop-color="#57ffa8"/><stop offset="0.4524" stop-color="#57ffa8"/><stop offset="0.4643" stop-color="#57ffa8"/><stop offset="0.4762" stop-color="#56ffa9"/><stop offset="0.4881" stop-color="#56ffa9"/><stop offset="0.5000" stop-color="#55ffaa"/><stop offset="0.5119" stop-color="#54ffab"/><stop offset="0.5238" stop-color="#53ffac"/><stop offset="0.5357" stop-color="#52ffad"/><stop offset="0.5476" stop-color="#50ffaf"/><stop offset="0.5595" stop-color="#4fffb0"/><stop offset="0.5714" stop-color="#4dffb2"/><stop offset="0.5833" stop-color="#4cffb3"/><stop offset="0.5952" stop-color="#4affb5"/><stop offset="0.6071" stop-color="#48ffb7"/><stop offset="0.6190" stop-color="#46ffb9"/><stop offset="0.6310" stop-color="#44ffbb"/><stop offset="0.6384" stop-color="#42ffbd"/><stop offset="0.6429" stop-color="#41ffbe"/><stop offset="0.6548" stop-color="#3fffc0"/><stop offset="0.6667" stop-color="#3bffc4"/><stop offset="0.6786" stop-color="#37ffc8"/><stop offset="0.6905" stop-color="#31ffce"/><stop offset="0.7024" stop-color="#2cffd3"/><stop offset="0.7143" stop-color="#25ffda"/><stop offset="0.7262" stop-color="#1fffe0"/><stop offset="0.7381" stop-color="#17ffe8"/><stop offset="0.7500" stop-color="#10ffef"/><stop offset="0.7619" stop-color="#07fff8"/><stop offset="0.7721" stop-color="#00ffff"/><stop offset="0.7738" stop-color="#00feff"/><stop offset="0.7857" stop-color="#00f4ff"/><stop offset="0.7976" stop-color="#00e9ff"/><stop offset="0.8095" stop-color="#00ddff"/><stop offset="0.8214" stop-color="#00cfff"/><stop offset="0.8333" stop-color="#00c0ff"/><stop offset="0.8452" stop-color="#00b0ff"/><stop offset="0.8571" stop-color="#009fff"/><stop offset="0.8690" stop-color="#008cff"/><stop offset="0.8810" stop-color="#0079ff"/><stop offset="0.8929" stop-color="#0064ff"/><stop offset="0.9048" stop-color="#004eff"/><stop offset="0.9167" stop-color="#0038ff"/><stop offset="0.9286" stop-color="#0020ff"/><stop offset="0.9405" stop-color="#0007ff"/><stop offset="0.9524" stop-color="#0000ed"/><stop offset="0.9643" stop-color="#0000d3"/><stop offset="0.9762" stop-color="#0000b8"/><stop offset="0.9881" stop-color="#00009c"/><stop offset="1.0000" stop-color="#000080"/></linearGradient><linearGradient id="g19"><stop offset="0.0000" stop-color="#000080"/><stop offset="0.0125" stop-color="#0000a6"/><stop offset="0.0250" stop-color="#0000ca"/><stop offset="0.0375" stop-color="#0000ed"/><stop offset="0.0500" stop-color="#0010ff"/><stop offset="0.0625" stop-color="#002fff"/><stop offset="0.0750" stop-color="#004dff"/><stop offset="0.0875" stop-color="#0069ff"/><stop offset="0.1000" stop-color="#0083ff"/><stop offset="0.1125" stop-color="#009aff"/><stop offset="0.1250" stop-color="#00b0ff"/><stop offset="0.1375" stop-color="#00c3ff"/><stop offset="0.1500" stop-color="#00d3ff"/><stop offset="0.1625" stop-color="#00e1ff"/><stop offset="0.1750" stop-color="#00ecff"/><stop offset="0.1798" stop-color="#00f0ff"/><stop offset="0.1875" stop-color="#00f5ff"/><stop offset="0.2000" stop-color="#00fdff"/><stop offset="0.2125" stop-color="#05fffa"/><stop offset="0.2250" stop-color="#0bfff4"/><stop offset="0.2375" stop-color="#11ffee"/><stop offset="0.2500" stop-color="#15ffea"/><stop offset="0.2625" stop-color="#18ffe7"/><stop offset="0.2678" stop-color="#1affe5"/><stop offset="0.2750" stop-color="#1bffe4"/><stop offset="0.2875" stop-color="#1dffe2"/><stop offset="0.3000" stop-color="#1fffe0"/><stop offset="0.3125" stop-color="#21ffde"/><stop offset="0.3250" stop-color="#22ffdd"/><stop offset="0.3375" stop-color="#23ffdc"/><stop offset="0.3500" stop-color="#25ffda"/><stop offset="0.3625" stop-color="#26ffd9"/><stop offset="0.3750" stop-color="#27ffd8"/><stop offset="0.3875" stop-color="#28ffd7"/><stop offset="0.4000" stop-color="#29ffd6"/><stop offset="0.4125" stop-color="#2affd5"/><stop offset="0.4250" stop-color="#2bffd4"/><stop offset="0.4375" stop-color="#2cffd3"/><stop offset="0.4500" stop-color="#2dffd2"/><stop offset="0.4625" stop-color="#2fffd0"/><stop offset="0.4750" stop-color="#31ffce"/><stop offset="0.4875" stop-color="#33ffcc"/><stop offset="0.4877" stop-color="#33ffcc"/><stop offset="0.5000" stop-color="#36ffc9"/><stop offset="0.5125" stop-color="#39ffc6"/><stop offset="0.5250" stop-color="#3cffc3"/><stop offset="0.5375" stop-color="#40ffbf"/><stop offset="0.5500" stop-color="#45ffba"/><stop offset="0.5625" stop-color="#4affb5"/><stop offset="0.5750" stop-color="#4fffb0"/><stop offset="0.5875" stop-color="#54ffab"/><stop offset="0.5946" stop-color="#57ffa8"/><stop offset="0.6000" stop-color="#59ffa6"/><stop offset="0.6125" stop-color="#60ff9f"/><stop offset="0.6250" stop-color="#69ff96"/><stop offset="0.6375" stop-color="#72ff8d"/><stop offset="0.6500" stop-color="#7bff84"/><stop offset="0.6625" stop-color="#82ff7d"/><stop offset="0.6750" stop-color="#87ff78"/><stop offset="0.6875" stop-color="#8aff75"/><stop offset="0.6889" stop-color="#8aff75"/><stop offset="0.7000" stop-color="#89ff76"/><stop offset="0.7125" stop-color="#88ff77"/><stop offset="0.7250" stop-color="#85ff7a"/><stop offset="0.7375" stop-color="#82ff7d"/><stop offset="0.7500" stop-color="#7eff81"/><stop offset="0.7625" stop-color="#79ff86"/><stop offset="0.7750" stop-color="#74ff8b"/><stop offset="0.7832" stop-color="#70ff8f"/><stop offset="0.7875" stop-color="#6eff91"/><stop offset="0.8000" stop-color="#63ff9c"/><stop offset="0.8125" stop-color="#54ffab"/><stop offset="0.8250" stop-color="#41ffbe"/><stop offset="0.8375" stop-color="#2bffd4"/><stop offset="0.8500" stop-color="#15ffea"/><stop offset="0.8611" stop-color="#00ffff"/><stop offset="0.8625" stop-color="#00fcff"/><stop offset="0.8750" stop-color="#00e4ff"/><stop offset="0.8875" stop-color="#00caff"/><stop offset="0.9000" stop-color="#00adff"/><stop offset="0.9125" stop-color="#008eff"/><stop offset="0.9250" stop-color="#006dff"/><stop offset="0.9375" stop-color="#004bff"/><stop offset="0.9500" stop-color="#0026ff"/><stop offset="0.9625" stop-color="#0000fe"/><stop offset="0.9750" stop-color="#0000d6"/><stop offset="0.9875" stop-color="#0000ac"/><stop offset="1.0000" stop-color="#000080"/></linearGradient><linearGradient id="g20"><stop offset="0.0000" stop-color="#000080"/><stop offset="0.0106" stop-color="#00009a"/><stop offset="0.0213" stop-color="#0000b5"/><stop offset="0.0319" stop-color="#0000cf"/><stop offset="0.0426" stop-color="#0000e9"/><stop offset="0.0532" stop-color="#0004ff"/><stop offset="0.0638" stop-color="#001eff"/><stop offset="0.0745" stop-color="#0037ff"/><stop offset="0.0837" stop-color="#004dff"/><stop offset="0.0851" stop-color="#0050ff"/><stop offset="0.0957" stop-color="#006aff"/><stop offset="0.1064" stop-color="#0086ff"/><stop offset="0.1170" stop-color="#00a3ff"/><stop offset="0.1277" stop-color="#00beff"/><stop offset="0.1383" stop-color="#00d7ff"/><stop offset="0.1489" stop-color="#00ebff"/><stop offset="0.1596" stop-color="#00fbff"/><stop offset="0.1631" stop-color="#00ffff"/><stop offset="0.1702" stop-color="#07fff8"/><stop offset="0.1809" stop-color="#11ffee"/><stop offset="0.1915" stop-color="#1affe5"/><stop offset="0.2021" stop-color="#21ffde"/><stop offset="0.2128" stop-color="#26ffd9"/><stop offset="0.2234" stop-color="#29ffd6"/><stop offset="0.2267" stop-color="#29ffd6"/><stop offset="0.2340" stop-color="#29ffd6"/><stop offset="0.2447" stop-color="#29ffd6"/><stop offset="0.2553" stop-color="#29ffd6"/><stop offset="0.2660" stop-color="#29ffd6"/><stop offset="0.2766" stop-color="#29ffd6"/><stop offset="0.2872" stop-color="#29ffd6"/><stop offset="0.2979" stop-color="#29ffd6"/><stop offset="0.3085" stop-color="#29ffd6"/><stop offset="0.3191" stop-color="#29ffd6"/><stop offset="0.3298" stop-color="#29ffd6"/><stop offset="0.3404" stop-color="#29ffd6"/><stop offset="0.3511" stop-color="#29ffd6"/><stop offset="0.3591" stop-color="#29ffd6"/><stop offset="0.3617" stop-color="#29ffd6"/><stop offset="0.3723" stop-color="#29ffd6"/><stop offset="0.3830" stop-color="#29ffd6"/><stop offset="0.3936" stop-color="#2affd5"/><stop offset="0.4043" stop-color="#2bffd4"/><stop offset="0.4149" stop-color="#2cffd3"/><stop offset="0.4255" stop-color="#2effd1"/><stop offset="0.4362" stop-color="#2fffd0"/><stop offset="0.4468" stop-color="#31ffce"/><stop offset="0.4574" stop-color="#32ffcd"/><stop offset="0.4681" stop-color="#34ffcb"/><stop offset="0.4787" stop-color="#36ffc9"/><stop offset="0.4894" stop-color="#38ffc7"/><stop offset="0.4915" stop-color="#38ffc7"/><stop offset="0.5000" stop-color="#3affc5"/><stop offset="0.5106" stop-color="#3cffc3"/><stop offset="0.5213" stop-color="#3fffc0"/><stop offset="0.5319" stop-color="#42ffbd"/><stop offset="0.5426" stop-color="#45ffba"/><stop offset="0.5532" stop-color="#49ffb6"/><stop offset="0.5604" stop-color="#4dffb2"/><stop offset="0.5638" stop-color="#4effb1"/><stop offset="0.5745" stop-color="#55ffaa"/><stop offset="0.5851" stop-color="#5effa1"/><stop offset="0.5957" stop-color="#68ff97"/><stop offset="0.6064" stop-color="#72ff8d"/><stop offset="0.6170" stop-color="#7bff84"/><stop offset="0.6239" stop-color="#80ff80"/><stop offset="0.6277" stop-color="#82ff7d"/><stop offset="0.6383" stop-color="#89ff76"/><stop offset="0.6489" stop-color="#91ff6e"/><stop offset="0.6596" stop-color="#98ff67"/><stop offset="0.6702" stop-color="#9dff62"/><stop offset="0.6809" stop-color="#a1ff5e"/><stop offset="0.6915" stop-color="#a3ff5c"/><stop offset="0.6928" stop-color="#a3ff5c"/><stop offset="0.7021" stop-color="#a2ff5d"/><stop offset="0.7128" stop-color="#a0ff5f"/><stop offset="0.7234" stop-color="#9cff63"/><stop offset="0.7340" stop-color="#97ff68"/><stop offset="0.7447" stop-color="#91ff6e"/><stop offset="0.7553" stop-color="#8bff74"/><stop offset="0.7660" stop-color="#84ff7b"/><stop offset="0.7722" stop-color="#80ff80"/><stop offset="0.7766" stop-color="#7cff83"/><stop offset="0.7872" stop-color="#72ff8d"/><stop offset="0.7979" stop-color="#66ff99"/><stop offset="0.8085" stop-color="#58ffa7"/><stop offset="0.8191" stop-color="#47ffb8"/><stop offset="0.8298" stop-color="#36ffc9"/><stop offset="0.8404" stop-color="#23ffdc"/><stop offset="0.8511" stop-color="#10ffef"/><stop offset="0.8570" stop-color="#05fffa"/><stop offset="0.8617" stop-color="#00fbff"/><stop offset="0.8723" stop-color="#00e6ff"/><stop offset="0.8830" stop-color="#00d0ff"/><stop offset="0.8936" stop-color="#00b8ff"/><stop offset="0.9043" stop-color="#009fff"/><stop offset="0.9149" stop-color="#0084ff"/><stop offset="0.9255" stop-color="#0068ff"/><stop offset="0.9362" stop-color="#004bff"/><stop offset="0.9468" stop-color="#002cff"/><stop offset="0.9574" stop-color="#000cff"/><stop offset="0.9681" stop-color="#0000ea"/><stop offset="0.9787" stop-color="#0000c8"/><stop offset="0.9894" stop-color="#0000a4"/><stop offset="1.0000" stop-color="#000080"/></linearGradient><linearGradient id="g21"><stop offset="0.0000" stop-color="#000080"/><stop offset="0.0092" stop-color="#0000a2"/><stop offset="0.0183" stop-color="#0000c3"/><stop offset="0.0275" stop-color="#0000e3"/><stop offset="0.0367" stop-color="#0004ff"/><stop offset="0.0459" stop-color="#0022ff"/><stop offset="0.0550" stop-color="#0040ff"/><stop offset="0.0589" stop-color="#004dff"/><stop offset="0.0642" stop-color="#005dff"/><stop offset="0.0734" stop-color="#007bff"/><stop offset="0.0826" stop-color="#0099ff"/><stop offset="0.0917" stop-color="#00b5ff"/><stop offset="0.1009" stop-color="#00d0ff"/><stop offset="0.1101" stop-color="#00e8ff"/><stop offset="0.1193" stop-color="#00fcff"/><stop offset="0.1211" stop-color="#00ffff"/><stop offset="0.1284" stop-color="#0efff1"/><stop offset="0.1376" stop-color="#1fffe0"/><stop offset="0.1468" stop-color="#2fffd0"/><stop offset="0.1560" stop-color="#3dffc2"/><stop offset="0.1651" stop-color="#49ffb6"/><stop offset="0.1743" stop-color="#52ffad"/><stop offset="0.1835" stop-color="#56ffa9"/><stop offset="0.1868" stop-color="#57ffa8"/><stop offset="0.1927" stop-color="#57ffa8"/><stop offset="0.2018" stop-color="#57ffa8"/><stop offset="0.2110" stop-color="#57ffa8"/><stop offset="0.2202" stop-color="#57ffa8"/><stop offset="0.2294" stop-color="#57ffa8"/><stop offset="0.2385" stop-color="#57ffa8"/><stop offset="0.2477" stop-color="#57ffa8"/><stop offset="0.2569" stop-color="#57ffa8"/><stop offset="0.2661" stop-color="#57ffa8"/><stop offset="0.2691" stop-color="#57ffa8"/><stop offset="0.2752" stop-color="#53ffac"/><stop offset="0.2844" stop-color="#42ffbd"/><stop offset="0.2936" stop-color="#2bffd4"/><stop offset="0.3028" stop-color="#15ffea"/><stop offset="0.3056" stop-color="#0ffff0"/><stop offset="0.3119" stop-color="#05fffa"/><stop offset="0.3211" stop-color="#00f5ff"/><stop offset="0.3303" stop-color="#00e7ff"/><stop offset="0.3394" stop-color="#00daff"/><stop offset="0.3467" stop-color="#00d1ff"/><stop offset="0.3486" stop-color="#00cfff"/><stop offset="0.3578" stop-color="#00c3ff"/><stop offset="0.3670" stop-color="#00b8ff"/><stop offset="0.3761" stop-color="#00adff"/><stop offset="0.3853" stop-color="#00a3ff"/><stop offset="0.3945" stop-color="#009cff"/><stop offset="0.4037" stop-color="#0099ff"/><stop offset="0.4061" stop-color="#0099ff"/><stop offset="0.4128" stop-color="#009aff"/><stop offset="0.4220" stop-color="#009fff"/><stop offset="0.4312" stop-color="#00a7ff"/><stop offset="0.4404" stop-color="#00b2ff"/><stop offset="0.4495" stop-color="#00bdff"/><stop offset="0.4587" stop-color="#00c9ff"/><stop offset="0.4655" stop-color="#00d1ff"/><stop offset="0.4679" stop-color="#00d4ff"/><stop offset="0.4771" stop-color="#00e1ff"/><stop offset="0.4862" stop-color="#00efff"/><stop offset="0.4954" stop-color="#00fdff"/><stop offset="0.5046" stop-color="#0cfff3"/><stop offset="0.5066" stop-color="#0ffff0"/><stop offset="0.5138" stop-color="#1affe5"/><stop offset="0.5229" stop-color="#28ffd7"/><stop offset="0.5321" stop-color="#36ffc9"/><stop offset="0.5413" stop-color="#44ffbb"/><stop offset="0.5505" stop-color="#51ffae"/><stop offset="0.5596" stop-color="#5effa1"/><stop offset="0.5688" stop-color="#6aff95"/><stop offset="0.5780" stop-color="#75ff8a"/><stop offset="0.5872" stop-color="#7eff81"/><stop offset="0.5889" stop-color="#80ff80"/><stop offset="0.5963" stop-color="#86ff79"/><stop offset="0.6055" stop-color="#8eff71"/><stop offset="0.6147" stop-color="#96ff69"/><stop offset="0.6239" stop-color="#9dff62"/><stop offset="0.6330" stop-color="#a4ff5b"/><stop offset="0.6422" stop-color="#aaff55"/><stop offset="0.6514" stop-color="#aeff51"/><stop offset="0.6606" stop-color="#b1ff4e"/><stop offset="0.6697" stop-color="#b2ff4d"/><stop offset="0.6711" stop-color="#b2ff4d"/><stop offset="0.6789" stop-color="#b2ff4d"/><stop offset="0.6881" stop-color="#b0ff4f"/><stop offset="0.6972" stop-color="#adff52"/><stop offset="0.7064" stop-color="#a9ff56"/><stop offset="0.7156" stop-color="#a4ff5b"/><stop offset="0.7248" stop-color="#9fff60"/><stop offset="0.7339" stop-color="#9aff65"/><stop offset="0.7350" stop-color="#99ff66"/><stop offset="0.7431" stop-color="#94ff6b"/><stop offset="0.7523" stop-color="#8cff73"/><stop offset="0.7615" stop-color="#84ff7b"/><stop offset="0.7706" stop-color="#7aff85"/><stop offset="0.7798" stop-color="#70ff8f"/><stop offset="0.7876" stop-color="#66ff99"/><stop offset="0.7890" stop-color="#64ff9b"/><stop offset="0.7982" stop-color="#57ffa8"/><stop offset="0.8073" stop-color="#48ffb7"/><stop offset="0.8165" stop-color="#37ffc8"/><stop offset="0.8257" stop-color="#25ffda"/><stop offset="0.8349" stop-color="#12ffed"/><stop offset="0.8438" stop-color="#00ffff"/><stop offset="0.8440" stop-color="#00feff"/><stop offset="0.8532" stop-color="#00ebff"/><stop offset="0.8624" stop-color="#00d7ff"/><stop offset="0.8716" stop-color="#00c1ff"/><stop offset="0.8807" stop-color="#00acff"/><stop offset="0.8899" stop-color="#0096ff"/><stop offset="0.8991" stop-color="#0080ff"/><stop offset="0.8995" stop-color="#0080ff"/><stop offset="0.9083" stop-color="#006cff"/><stop offset="0.9174" stop-color="#0057ff"/><stop offset="0.9266" stop-color="#0042ff"/><stop offset="0.9358" stop-color="#002dff"/><stop offset="0.9450" stop-color="#0017ff"/><stop offset="0.9541" stop-color="#0000ff"/><stop offset="0.9543" stop-color="#0000ff"/><stop offset="0.9633" stop-color="#0000e8"/><stop offset="0.9725" stop-color="#0000cf"/><stop offset="0.9817" stop-color="#0000b5"/><stop offset="0.9908" stop-color="#00009b"/><stop offset="1.0000" stop-color="#000080"/></linearGradient><linearGradient id="g22"><stop offset="0.0000" stop-color="#000080"/><stop offset="0.0189" stop-color="#0000ac"/><stop offset="0.0377" stop-color="#0000d6"/><stop offset="0.0566" stop-color="#0000ff"/><stop offset="0.0755" stop-color="#0028ff"/><stop offset="0.0943" stop-color="#004eff"/><stop offset="0.1132" stop-color="#0073ff"/><stop offset="0.1321" stop-color="#0096ff"/><stop offset="0.1509" stop-color="#00b7ff"/><stop offset="0.1698" stop-color="#00d8ff"/><stop offset="0.1887" stop-color="#00f7ff"/><stop offset="0.1940" stop-color="#00ffff"/><stop offset="0.2075" stop-color="#15ffea"/><stop offset="0.2264" stop-color="#30ffcf"/><stop offset="0.2453" stop-color="#49ffb6"/><stop offset="0.2642" stop-color="#61ff9e"/><stop offset="0.2830" stop-color="#79ff86"/><stop offset="0.2877" stop-color="#80ff80"/><stop offset="0.3019" stop-color="#93ff6c"/><stop offset="0.3208" stop-color="#b0ff4f"/><stop offset="0.3396" stop-color="#caff35"/><stop offset="0.3585" stop-color="#deff21"/><stop offset="0.3721" stop-color="#e5ff1a"/><stop offset="0.3774" stop-color="#e7ff18"/><stop offset="0.3962" stop-color="#ecff13"/><stop offset="0.4151" stop-color="#f0ff0f"/><stop offset="0.4340" stop-color="#f3ff0c"/><stop offset="0.4528" stop-color="#f6ff09"/><stop offset="0.4717" stop-color="#f8ff07"/><stop offset="0.4906" stop-color="#f9ff06"/><stop offset="0.5094" stop-color="#faff05"/><stop offset="0.5127" stop-color="#faff05"/><stop offset="0.5283" stop-color="#faff05"/><stop offset="0.5472" stop-color="#f9ff06"/><stop offset="0.5660" stop-color="#f7ff08"/><stop offset="0.5849" stop-color="#f4ff0b"/><stop offset="0.6038" stop-color="#f1ff0e"/><stop offset="0.6226" stop-color="#edff12"/><stop offset="0.6415" stop-color="#e9ff16"/><stop offset="0.6532" stop-color="#e5ff1a"/><stop offset="0.6604" stop-color="#e3ff1c"/><stop offset="0.6792" stop-color="#d4ff2b"/><stop offset="0.6981" stop-color="#beff41"/><stop offset="0.7170" stop-color="#a5ff5a"/><stop offset="0.7358" stop-color="#8cff73"/><stop offset="0.7376" stop-color="#8aff75"/><stop offset="0.7547" stop-color="#75ff8a"/><stop offset="0.7736" stop-color="#5effa1"/><stop offset="0.7925" stop-color="#45ffba"/><stop offset="0.8113" stop-color="#2bffd4"/><stop offset="0.8302" stop-color="#0efff1"/><stop offset="0.8388" stop-color="#00ffff"/><stop offset="0.8491" stop-color="#00edff"/><stop offset="0.8679" stop-color="#00caff"/><stop offset="0.8868" stop-color="#00a3ff"/><stop offset="0.9057" stop-color="#007aff"/><stop offset="0.9245" stop-color="#004eff"/><stop offset="0.9434" stop-color="#001eff"/><stop offset="0.9623" stop-color="#0000eb"/><stop offset="0.9811" stop-color="#0000b7"/><stop offset="1.0000" stop-color="#000080"/></linearGradient><linearGradient id="g23"><stop offset="0.0000" stop-color="#000080"/><stop offset="0.0294" stop-color="#0000c8"/><stop offset="0.0588" stop-color="#000dff"/><stop offset="0.0882" stop-color="#004bff"/><stop offset="0.1176" stop-color="#0085ff"/><stop offset="0.1471" stop-color="#00b8ff"/><stop offset="0.1765" stop-color="#00e5ff"/><stop offset="0.1964" stop-color="#00ffff"/><stop offset="0.2059" stop-color="#0cfff3"/><stop offset="0.2353" stop-color="#2effd1"/><stop offset="0.2647" stop-color="#4dffb2"/><stop offset="0.2941" stop-color="#68ff97"/><stop offset="0.3235" stop-color="#7dff82"/><stop offset="0.3452" stop-color="#8aff75"/><stop offset="0.3529" stop-color="#8dff72"/><stop offset="0.3824" stop-color="#9cff63"/><stop offset="0.4118" stop-color="#a9ff56"/><stop offset="0.4412" stop-color="#b4ff4b"/><stop offset="0.4706" stop-color="#bcff43"/><stop offset="0.5000" stop-color="#c1ff3e"/><stop offset="0.5164" stop-color="#c2ff3d"/><stop offset="0.5294" stop-color="#c1ff3e"/><stop offset="0.5588" stop-color="#bbff44"/><stop offset="0.5882" stop-color="#afff50"/><stop offset="0.6176" stop-color="#a1ff5e"/><stop offset="0.6471" stop-color="#90ff6f"/><stop offset="0.6577" stop-color="#8aff75"/><stop offset="0.6765" stop-color="#7dff82"/><stop offset="0.7059" stop-color="#64ff9b"/><stop offset="0.7353" stop-color="#45ffba"/><stop offset="0.7647" stop-color="#22ffdd"/><stop offset="0.7917" stop-color="#00ffff"/><stop offset="0.7941" stop-color="#00fcff"/><stop offset="0.8235" stop-color="#00d3ff"/><stop offset="0.8529" stop-color="#00a5ff"/><stop offset="0.8824" stop-color="#0073ff"/><stop offset="0.9118" stop-color="#003dff"/><stop offset="0.9412" stop-color="#0002ff"/><stop offset="0.9706" stop-color="#0000c2"/><stop offset="1.0000" stop-color="#000080"/></linearGradient><linearGradient id="g24"><stop offset="0.0000" stop-color="#000080"/><stop offset="0.0179" stop-color="#0000b2"/><stop offset="0.0357" stop-color="#0000e2"/><stop offset="0.0536" stop-color="#0011ff"/><stop offset="0.0714" stop-color="#003eff"/><stop offset="0.0893" stop-color="#0067ff"/><stop offset="0.1071" stop-color="#008fff"/><stop offset="0.1250" stop-color="#00b4ff"/><stop offset="0.1429" stop-color="#00d7ff"/><stop offset="0.1607" stop-color="#00f7ff"/><stop offset="0.1652" stop-color="#00ffff"/><stop offset="0.1786" stop-color="#16ffe9"/><stop offset="0.1964" stop-color="#32ffcd"/><stop offset="0.2143" stop-color="#4dffb2"/><stop offset="0.2321" stop-color="#65ff9a"/><stop offset="0.2500" stop-color="#7bff84"/><stop offset="0.2679" stop-color="#90ff6f"/><stop offset="0.2762" stop-color="#99ff66"/><stop offset="0.2857" stop-color="#a3ff5c"/><stop offset="0.3036" stop-color="#b7ff48"/><stop offset="0.3214" stop-color="#c9ff36"/><stop offset="0.3393" stop-color="#d8ff27"/><stop offset="0.3571" stop-color="#e3ff1c"/><stop offset="0.3650" stop-color="#e5ff1a"/><stop offset="0.3750" stop-color="#e8ff17"/><stop offset="0.3929" stop-color="#edff12"/><stop offset="0.4107" stop-color="#f0ff0f"/><stop offset="0.4286" stop-color="#f4ff0b"/><stop offset="0.4464" stop-color="#f6ff09"/><stop offset="0.4643" stop-color="#f8ff07"/><stop offset="0.4821" stop-color="#faff05"/><stop offset="0.4982" stop-color="#faff05"/><stop offset="0.5000" stop-color="#faff05"/><stop offset="0.5179" stop-color="#f9ff06"/><stop offset="0.5357" stop-color="#f8ff07"/><stop offset="0.5536" stop-color="#f6ff09"/><stop offset="0.5714" stop-color="#f4ff0b"/><stop offset="0.5893" stop-color="#f1ff0e"/><stop offset="0.6071" stop-color="#edff12"/><stop offset="0.6250" stop-color="#e9ff16"/><stop offset="0.6403" stop-color="#e5ff1a"/><stop offset="0.6429" stop-color="#e5ff1a"/><stop offset="0.6607" stop-color="#deff21"/><stop offset="0.6786" stop-color="#d4ff2b"/><stop offset="0.6964" stop-color="#c6ff39"/><stop offset="0.7143" stop-color="#b7ff48"/><stop offset="0.7321" stop-color="#a7ff58"/><stop offset="0.7469" stop-color="#99ff66"/><stop offset="0.7500" stop-color="#96ff69"/><stop offset="0.7679" stop-color="#83ff7c"/><stop offset="0.7857" stop-color="#6cff93"/><stop offset="0.8036" stop-color="#53ffac"/><stop offset="0.8214" stop-color="#37ffc8"/><stop offset="0.8393" stop-color="#19ffe6"/><stop offset="0.8535" stop-color="#00ffff"/><stop offset="0.8571" stop-color="#00f8ff"/><stop offset="0.8750" stop-color="#00d5ff"/><stop offset="0.8929" stop-color="#00aeff"/><stop offset="0.9107" stop-color="#0084ff"/><stop offset="0.9286" stop-color="#0056ff"/><stop offset="0.9464" stop-color="#0025ff"/><stop offset="0.9643" stop-color="#0000f0"/><stop offset="0.9821" stop-color="#0000b9"/><stop offset="1.0000" stop-color="#000080"/></linearGradient><linearGradient id="g25"><stop offset="0.0000" stop-color="#000080"/><stop offset="0.0323" stop-color="#0000e0"/><stop offset="0.0645" stop-color="#003bff"/><stop offset="0.0968" stop-color="#008bff"/><stop offset="0.1290" stop-color="#00ceff"/><stop offset="0.1596" stop-color="#00ffff"/><stop offset="0.1613" stop-color="#02fffd"/><stop offset="0.1935" stop-color="#2cffd3"/><stop offset="0.2258" stop-color="#52ffad"/><stop offset="0.2581" stop-color="#73ff8c"/><stop offset="0.2903" stop-color="#8fff70"/><stop offset="0.3226" stop-color="#a3ff5c"/><stop offset="0.3468" stop-color="#adff52"/><stop offset="0.3548" stop-color="#b0ff4f"/><stop offset="0.3871" stop-color="#baff45"/><stop offset="0.4194" stop-color="#c2ff3d"/><stop offset="0.4516" stop-color="#c8ff37"/><stop offset="0.4839" stop-color="#ccff33"/><stop offset="0.5000" stop-color="#ccff33"/><stop offset="0.5161" stop-color="#ccff33"/><stop offset="0.5484" stop-color="#c8ff37"/><stop offset="0.5806" stop-color="#c2ff3d"/><stop offset="0.6129" stop-color="#baff45"/><stop offset="0.6452" stop-color="#b0ff4f"/><stop offset="0.6524" stop-color="#adff52"/><stop offset="0.6774" stop-color="#a3ff5c"/><stop offset="0.7097" stop-color="#8eff71"/><stop offset="0.7419" stop-color="#72ff8d"/><stop offset="0.7742" stop-color="#51ffae"/><stop offset="0.8065" stop-color="#2affd5"/><stop offset="0.8387" stop-color="#00ffff"/><stop offset="0.8388" stop-color="#00ffff"/><stop offset="0.8710" stop-color="#00cbff"/><stop offset="0.9032" stop-color="#0088ff"/><stop offset="0.9355" stop-color="#0039ff"/><stop offset="0.9677" stop-color="#0000df"/><stop offset="1.0000" stop-color="#000080"/></linearGradient><linearGradient id="g26"><stop offset="0.0000" stop-color="#000080"/><stop offset="0.0167" stop-color="#0000b7"/><stop offset="0.0333" stop-color="#0000ee"/><stop offset="0.0500" stop-color="#0024ff"/><stop offset="0.0667" stop-color="#0056ff"/><stop offset="0.0833" stop-color="#0085ff"/><stop offset="0.1000" stop-color="#00afff"/><stop offset="0.1167" stop-color="#00d5ff"/><stop offset="0.1333" stop-color="#00f4ff"/><stop offset="0.1402" stop-color="#00ffff"/><stop offset="0.1500" stop-color="#0efff1"/><stop offset="0.1667" stop-color="#26ffd9"/><stop offset="0.1833" stop-color="#3bffc4"/><stop offset="0.2000" stop-color="#50ffaf"/><stop offset="0.2167" stop-color="#62ff9d"/><stop offset="0.2333" stop-color="#74ff8b"/><stop offset="0.2500" stop-color="#85ff7a"/><stop offset="0.2667" stop-color="#94ff6b"/><stop offset="0.2833" stop-color="#a3ff5c"/><stop offset="0.3000" stop-color="#b1ff4e"/><stop offset="0.3167" stop-color="#bfff40"/><stop offset="0.3333" stop-color="#ccff33"/><stop offset="0.3500" stop-color="#d8ff27"/><stop offset="0.3667" stop-color="#e5ff1a"/><stop offset="0.3833" stop-color="#f1ff0e"/><stop offset="0.4000" stop-color="#fdff02"/><stop offset="0.4023" stop-color="#ffff00"/><stop offset="0.4167" stop-color="#fff500"/><stop offset="0.4333" stop-color="#ffe900"/><stop offset="0.4500" stop-color="#ffe100"/><stop offset="0.4570" stop-color="#ffdf00"/><stop offset="0.4667" stop-color="#ffdd00"/><stop offset="0.4833" stop-color="#ffdb00"/><stop offset="0.4967" stop-color="#ffda00"/><stop offset="0.5000" stop-color="#ffda00"/><stop offset="0.5167" stop-color="#ffdb00"/><stop offset="0.5333" stop-color="#ffdd00"/><stop offset="0.5433" stop-color="#ffdf00"/><stop offset="0.5500" stop-color="#ffe100"/><stop offset="0.5667" stop-color="#ffe700"/><stop offset="0.5833" stop-color="#fff000"/><stop offset="0.6000" stop-color="#fffa00"/><stop offset="0.6077" stop-color="#ffff00"/><stop offset="0.6167" stop-color="#f9ff06"/><stop offset="0.6333" stop-color="#ecff13"/><stop offset="0.6500" stop-color="#dfff20"/><stop offset="0.6667" stop-color="#d2ff2d"/><stop offset="0.6833" stop-color="#c3ff3c"/><stop offset="0.7000" stop-color="#b3ff4c"/><stop offset="0.7167" stop-color="#a3ff5c"/><stop offset="0.7333" stop-color="#91ff6e"/><stop offset="0.7500" stop-color="#7fff80"/><stop offset="0.7667" stop-color="#6bff94"/><stop offset="0.7833" stop-color="#56ffa9"/><stop offset="0.8000" stop-color="#40ffbf"/><stop offset="0.8167" stop-color="#29ffd6"/><stop offset="0.8333" stop-color="#11ffee"/><stop offset="0.8447" stop-color="#00ffff"/><stop offset="0.8500" stop-color="#00f7ff"/><stop offset="0.8667" stop-color="#00d9ff"/><stop offset="0.8833" stop-color="#00b8ff"/><stop offset="0.9000" stop-color="#0093ff"/><stop offset="0.9167" stop-color="#006bff"/><stop offset="0.9333" stop-color="#0040ff"/><stop offset="0.9500" stop-color="#0012ff"/><stop offset="0.9667" stop-color="#0000e2"/><stop offset="0.9833" stop-color="#0000b1"/><stop offset="1.0000" stop-color="#000080"/></linearGradient><linearGradient id="g27"><stop offset="0.0000" stop-color="#000080"/><stop offset="0.0345" stop-color="#0000dc"/><stop offset="0.0690" stop-color="#0032ff"/><stop offset="0.1034" stop-color="#007fff"/><stop offset="0.1379" stop-color="#00c3ff"/><stop offset="0.1724" stop-color="#00faff"/><stop offset="0.1760" stop-color="#00ffff"/><stop offset="0.2069" stop-color="#2affd5"/><stop offset="0.2414" stop-color="#56ffa9"/><stop offset="0.2759" stop-color="#7cff83"/><stop offset="0.3103" stop-color="#9bff64"/><stop offset="0.3448" stop-color="#b1ff4e"/><stop offset="0.3571" stop-color="#b6ff49"/><stop offset="0.3793" stop-color="#beff41"/><stop offset="0.4138" stop-color="#c8ff37"/><stop offset="0.4483" stop-color="#d0ff2f"/><stop offset="0.4828" stop-color="#d5ff2a"/><stop offset="0.5052" stop-color="#d6ff29"/><stop offset="0.5172" stop-color="#d6ff29"/><stop offset="0.5517" stop-color="#d2ff2d"/><stop offset="0.5862" stop-color="#cbff34"/><stop offset="0.6207" stop-color="#c1ff3e"/><stop offset="0.6542" stop-color="#b6ff49"/><stop offset="0.6552" stop-color="#b6ff49"/><stop offset="0.6897" stop-color="#a4ff5b"/><stop offset="0.7241" stop-color="#88ff77"/><stop offset="0.7586" stop-color="#64ff9b"/><stop offset="0.7931" stop-color="#3bffc4"/><stop offset="0.8276" stop-color="#0cfff3"/><stop offset="0.8362" stop-color="#00ffff"/><stop offset="0.8621" stop-color="#00d6ff"/><stop offset="0.8966" stop-color="#0091ff"/><stop offset="0.9310" stop-color="#0040ff"/><stop offset="0.9655" stop-color="#0000e3"/><stop offset="1.0000" stop-color="#000080"/></linearGradient><linearGradient id="g28"><stop offset="0.0000" stop-color="#000080"/><stop offset="0.0154" stop-color="#0000b0"/><stop offset="0.0308" stop-color="#0000e0"/><stop offset="0.0462" stop-color="#0010ff"/><stop offset="0.0615" stop-color="#003dff"/><stop offset="0.0769" stop-color="#0067ff"/><stop offset="0.0923" stop-color="#008fff"/><stop offset="0.1077" stop-color="#00b3ff"/><stop offset="0.1231" stop-color="#00d5ff"/><stop offset="0.1385" stop-color="#00f2ff"/><stop offset="0.1462" stop-color="#00ffff"/><stop offset="0.1538" stop-color="#0cfff3"/><stop offset="0.1692" stop-color="#25ffda"/><stop offset="0.1846" stop-color="#3cffc3"/><stop offset="0.2000" stop-color="#52ffad"/><stop offset="0.2154" stop-color="#68ff97"/><stop offset="0.2308" stop-color="#7cff83"/><stop offset="0.2462" stop-color="#90ff6f"/><stop offset="0.2615" stop-color="#a2ff5d"/><stop offset="0.2769" stop-color="#b3ff4c"/><stop offset="0.2923" stop-color="#c3ff3c"/><stop offset="0.3077" stop-color="#d1ff2e"/><stop offset="0.3231" stop-color="#deff21"/><stop offset="0.3385" stop-color="#eaff15"/><stop offset="0.3538" stop-color="#f5ff0a"/><stop offset="0.3692" stop-color="#fdff02"/><stop offset="0.3723" stop-color="#ffff00"/><stop offset="0.3846" stop-color="#fffa00"/><stop offset="0.4000" stop-color="#fff300"/><stop offset="0.4154" stop-color="#ffee00"/><stop offset="0.4308" stop-color="#ffea00"/><stop offset="0.4459" stop-color="#ffe700"/><stop offset="0.4462" stop-color="#ffe700"/><stop offset="0.4615" stop-color="#ffe500"/><stop offset="0.4769" stop-color="#ffe400"/><stop offset="0.4923" stop-color="#ffe400"/><stop offset="0.4992" stop-color="#ffe300"/><stop offset="0.5077" stop-color="#ffe400"/><stop offset="0.5231" stop-color="#ffe400"/><stop offset="0.5385" stop-color="#ffe500"/><stop offset="0.5538" stop-color="#ffe700"/><stop offset="0.5574" stop-color="#ffe700"/><stop offset="0.5692" stop-color="#ffe900"/><stop offset="0.5846" stop-color="#ffec00"/><stop offset="0.6000" stop-color="#fff000"/><stop offset="0.6154" stop-color="#fff600"/><stop offset="0.6308" stop-color="#fffc00"/><stop offset="0.6377" stop-color="#ffff00"/><stop offset="0.6462" stop-color="#fbff04"/><stop offset="0.6615" stop-color="#f1ff0e"/><stop offset="0.6769" stop-color="#e6ff19"/><stop offset="0.6923" stop-color="#d9ff26"/><stop offset="0.7077" stop-color="#caff35"/><stop offset="0.7231" stop-color="#baff45"/><stop offset="0.7385" stop-color="#a8ff57"/><stop offset="0.7538" stop-color="#95ff6a"/><stop offset="0.7692" stop-color="#80ff7f"/><stop offset="0.7846" stop-color="#6bff94"/><stop offset="0.8000" stop-color="#54ffab"/><stop offset="0.8154" stop-color="#3dffc2"/><stop offset="0.8308" stop-color="#25ffda"/><stop offset="0.8462" stop-color="#0bfff4"/><stop offset="0.8531" stop-color="#00ffff"/><stop offset="0.8615" stop-color="#00f0ff"/><stop offset="0.8769" stop-color="#00d2ff"/><stop offset="0.8923" stop-color="#00b1ff"/><stop offset="0.9077" stop-color="#008cff"/><stop offset="0.9231" stop-color="#0065ff"/><stop offset="0.9385" stop-color="#003bff"/><stop offset="0.9538" stop-color="#000eff"/><stop offset="0.9692" stop-color="#0000df"/><stop offset="0.9846" stop-color="#0000b0"/><stop offset="1.0000" stop-color="#000080"/></linearGradient><linearGradient id="g29"><stop offset="0.0000" stop-color="#000080"/><stop offset="0.0263" stop-color="#0000d1"/><stop offset="0.0526" stop-color="#0020ff"/><stop offset="0.0789" stop-color="#0069ff"/><stop offset="0.1053" stop-color="#00aaff"/><stop offset="0.1316" stop-color="#00e4ff"/><stop offset="0.1456" stop-color="#00ffff"/><stop offset="0.1579" stop-color="#16ffe9"/><stop offset="0.1842" stop-color="#43ffbc"/><stop offset="0.2105" stop-color="#6cff93"/><stop offset="0.2368" stop-color="#91ff6e"/><stop offset="0.2632" stop-color="#b4ff4b"/><stop offset="0.2895" stop-color="#d3ff2c"/><stop offset="0.3158" stop-color="#efff10"/><stop offset="0.3316" stop-color="#ffff00"/><stop offset="0.3421" stop-color="#fff600"/><stop offset="0.3684" stop-color="#ffdf00"/><stop offset="0.3947" stop-color="#ffcc00"/><stop offset="0.4211" stop-color="#ffbe00"/><stop offset="0.4312" stop-color="#ffbb00"/><stop offset="0.4474" stop-color="#ffb700"/><stop offset="0.4737" stop-color="#ffb200"/><stop offset="0.5000" stop-color="#ffb000"/><stop offset="0.5033" stop-color="#ffb000"/><stop offset="0.5263" stop-color="#ffb100"/><stop offset="0.5526" stop-color="#ffb600"/><stop offset="0.5759" stop-color="#ffbb00"/><stop offset="0.5789" stop-color="#ffbc00"/><stop offset="0.6053" stop-color="#ffc700"/><stop offset="0.6316" stop-color="#ffd900"/><stop offset="0.6579" stop-color="#ffef00"/><stop offset="0.6762" stop-color="#ffff00"/><stop offset="0.6842" stop-color="#f7ff08"/><stop offset="0.7105" stop-color="#dcff23"/><stop offset="0.7368" stop-color="#beff41"/><stop offset="0.7632" stop-color="#9cff63"/><stop offset="0.7895" stop-color="#77ff88"/><stop offset="0.8158" stop-color="#4effb1"/><stop offset="0.8421" stop-color="#22ffdd"/><stop offset="0.8609" stop-color="#00ffff"/><stop offset="0.8684" stop-color="#00f0ff"/><stop offset="0.8947" stop-color="#00b7ff"/><stop offset="0.9211" stop-color="#0073ff"/><stop offset="0.9474" stop-color="#0028ff"/><stop offset="0.9737" stop-color="#0000d6"/><stop offset="1.0000" stop-color="#000080"/></linearGradient><linearGradient id="g30"><stop offset="0.0000" stop-color="#000080"/><stop offset="0.0161" stop-color="#0000b4"/><stop offset="0.0323" stop-color="#0000e7"/><stop offset="0.0484" stop-color="#0019ff"/><stop offset="0.0645" stop-color="#0049ff"/><stop offset="0.0806" stop-color="#0075ff"/><stop offset="0.0968" stop-color="#009eff"/><stop offset="0.1129" stop-color="#00c4ff"/><stop offset="0.1290" stop-color="#00e6ff"/><stop offset="0.1431" stop-color="#00ffff"/><stop offset="0.1452" stop-color="#03fffc"/><stop offset="0.1613" stop-color="#1effe1"/><stop offset="0.1774" stop-color="#37ffc8"/><stop offset="0.1935" stop-color="#4fffb0"/><stop offset="0.2097" stop-color="#65ff9a"/><stop offset="0.2258" stop-color="#7bff84"/><stop offset="0.2419" stop-color="#8fff70"/><stop offset="0.2581" stop-color="#a2ff5d"/><stop offset="0.2742" stop-color="#b4ff4b"/><stop offset="0.2903" stop-color="#c4ff3b"/><stop offset="0.3065" stop-color="#d4ff2b"/><stop offset="0.3226" stop-color="#e2ff1d"/><stop offset="0.3387" stop-color="#efff10"/><stop offset="0.3548" stop-color="#fbff04"/><stop offset="0.3614" stop-color="#ffff00"/><stop offset="0.3710" stop-color="#fff900"/><stop offset="0.3871" stop-color="#fff000"/><stop offset="0.4032" stop-color="#ffe800"/><stop offset="0.4194" stop-color="#ffe100"/><stop offset="0.4355" stop-color="#ffdc00"/><stop offset="0.4411" stop-color="#ffdb00"/><stop offset="0.4516" stop-color="#ffda00"/><stop offset="0.4677" stop-color="#ffd800"/><stop offset="0.4839" stop-color="#ffd600"/><stop offset="0.4988" stop-color="#ffd600"/><stop offset="0.5000" stop-color="#ffd600"/><stop offset="0.5161" stop-color="#ffd600"/><stop offset="0.5323" stop-color="#ffd800"/><stop offset="0.5484" stop-color="#ffd900"/><stop offset="0.5609" stop-color="#ffdb00"/><stop offset="0.5645" stop-color="#ffdc00"/><stop offset="0.5806" stop-color="#ffdf00"/><stop offset="0.5968" stop-color="#ffe500"/><stop offset="0.6129" stop-color="#ffed00"/><stop offset="0.6290" stop-color="#fff500"/><stop offset="0.6452" stop-color="#fffe00"/><stop offset="0.6467" stop-color="#ffff00"/><stop offset="0.6613" stop-color="#f5ff0a"/><stop offset="0.6774" stop-color="#e8ff17"/><stop offset="0.6935" stop-color="#d8ff27"/><stop offset="0.7097" stop-color="#c8ff37"/><stop offset="0.7258" stop-color="#b5ff4a"/><stop offset="0.7419" stop-color="#a1ff5e"/><stop offset="0.7581" stop-color="#8bff74"/><stop offset="0.7742" stop-color="#75ff8a"/><stop offset="0.7903" stop-color="#5cffa3"/><stop offset="0.8065" stop-color="#43ffbc"/><stop offset="0.8226" stop-color="#29ffd6"/><stop offset="0.8387" stop-color="#0efff1"/><stop offset="0.8472" stop-color="#00ffff"/><stop offset="0.8548" stop-color="#00f2ff"/><stop offset="0.8710" stop-color="#00d3ff"/><stop offset="0.8871" stop-color="#00b0ff"/><stop offset="0.9032" stop-color="#008bff"/><stop offset="0.9194" stop-color="#0064ff"/><stop offset="0.9355" stop-color="#003aff"/><stop offset="0.9516" stop-color="#000eff"/><stop offset="0.9677" stop-color="#0000df"/><stop offset="0.9839" stop-color="#0000b0"/><stop offset="1.0000" stop-color="#000080"/></linearGradient><linearGradient id="g31"><stop offset="0.0000" stop-color="#000080"/><stop offset="0.0208" stop-color="#0000ba"/><stop offset="0.0417" stop-color="#0000f2"/><stop offset="0.0625" stop-color="#002aff"/><stop offset="0.0833" stop-color="#005dff"/><stop offset="0.1042" stop-color="#008fff"/><stop offset="0.1250" stop-color="#00bdff"/><stop offset="0.1458" stop-color="#00e9ff"/><stop offset="0.1571" stop-color="#00ffff"/><stop offset="0.1667" stop-color="#12ffed"/><stop offset="0.1875" stop-color="#39ffc6"/><stop offset="0.2083" stop-color="#5fffa0"/><stop offset="0.2292" stop-color="#82ff7d"/><stop offset="0.2500" stop-color="#a4ff5b"/><stop offset="0.2708" stop-color="#c3ff3c"/><stop offset="0.2917" stop-color="#e0ff1f"/><stop offset="0.3125" stop-color="#fbff04"/><stop offset="0.3162" stop-color="#ffff00"/><stop offset="0.3333" stop-color="#ffed00"/><stop offset="0.3542" stop-color="#ffd700"/><stop offset="0.3750" stop-color="#ffc200"/><stop offset="0.3958" stop-color="#ffb000"/><stop offset="0.4167" stop-color="#ffa400"/><stop offset="0.4243" stop-color="#ffa100"/><stop offset="0.4375" stop-color="#ff9d00"/><stop offset="0.4583" stop-color="#ff9700"/><stop offset="0.4792" stop-color="#ff9300"/><stop offset="0.5000" stop-color="#ff9100"/><stop offset="0.5026" stop-color="#ff9100"/><stop offset="0.5208" stop-color="#ff9200"/><stop offset="0.5417" stop-color="#ff9500"/><stop offset="0.5625" stop-color="#ff9800"/><stop offset="0.5833" stop-color="#ff9d00"/><stop offset="0.5972" stop-color="#ffa100"/><stop offset="0.6042" stop-color="#ffa300"/><stop offset="0.6250" stop-color="#ffac00"/><stop offset="0.6458" stop-color="#ffb900"/><stop offset="0.6667" stop-color="#ffc900"/><stop offset="0.6875" stop-color="#ffda00"/><stop offset="0.7083" stop-color="#ffed00"/><stop offset="0.7277" stop-color="#ffff00"/><stop offset="0.7292" stop-color="#fdff02"/><stop offset="0.7500" stop-color="#e5ff1a"/><stop offset="0.7708" stop-color="#c9ff36"/><stop offset="0.7917" stop-color="#a9ff56"/><stop offset="0.8125" stop-color="#86ff79"/><stop offset="0.8333" stop-color="#60ff9f"/><stop offset="0.8542" stop-color="#36ffc9"/><stop offset="0.8750" stop-color="#0afff5"/><stop offset="0.8796" stop-color="#00ffff"/><stop offset="0.8958" stop-color="#00d8ff"/><stop offset="0.9167" stop-color="#009fff"/><stop offset="0.9375" stop-color="#005fff"/><stop offset="0.9583" stop-color="#001aff"/><stop offset="0.9792" stop-color="#0000ce"/><stop offset="1.0000" stop-color="#000080"/></linearGradient><linearGradient id="g32"><stop offset="0.0000" stop-color="#000080"/><stop offset="0.0172" stop-color="#0000b8"/><stop offset="0.0345" stop-color="#0000f0"/><stop offset="0.0517" stop-color="#0026ff"/><stop offset="0.0690" stop-color="#0058ff"/><stop offset="0.0862" stop-color="#0088ff"/><stop offset="0.1034" stop-color="#00b3ff"/><stop offset="0.1207" stop-color="#00daff"/><stop offset="0.1379" stop-color="#00fbff"/><stop offset="0.1400" stop-color="#00ffff"/><stop offset="0.1552" stop-color="#1affe5"/><stop offset="0.1724" stop-color="#36ffc9"/><stop offset="0.1897" stop-color="#50ffaf"/><stop offset="0.2069" stop-color="#69ff96"/><stop offset="0.2241" stop-color="#81ff7e"/><stop offset="0.2414" stop-color="#97ff68"/><stop offset="0.2586" stop-color="#abff54"/><stop offset="0.2759" stop-color="#beff41"/><stop offset="0.2931" stop-color="#d0ff2f"/><stop offset="0.3103" stop-color="#e1ff1e"/><stop offset="0.3276" stop-color="#f1ff0e"/><stop offset="0.3436" stop-color="#ffff00"/><stop offset="0.3448" stop-color="#fffe00"/><stop offset="0.3621" stop-color="#fff100"/><stop offset="0.3793" stop-color="#ffe400"/><stop offset="0.3966" stop-color="#ffd900"/><stop offset="0.4138" stop-color="#ffd000"/><stop offset="0.4308" stop-color="#ffcb00"/><stop offset="0.4310" stop-color="#ffcb00"/><stop offset="0.4483" stop-color="#ffc800"/><stop offset="0.4655" stop-color="#ffc500"/><stop offset="0.4828" stop-color="#ffc400"/><stop offset="0.4940" stop-color="#ffc300"/><stop offset="0.5000" stop-color="#ffc300"/><stop offset="0.5172" stop-color="#ffc500"/><stop offset="0.5345" stop-color="#ffc700"/><stop offset="0.5517" stop-color="#ffc900"/><stop offset="0.5607" stop-color="#ffcb00"/><stop offset="0.5690" stop-color="#ffcd00"/><stop offset="0.5862" stop-color="#ffd400"/><stop offset="0.6034" stop-color="#ffdd00"/><stop offset="0.6207" stop-color="#ffe800"/><stop offset="0.6379" stop-color="#fff400"/><stop offset="0.6529" stop-color="#ffff00"/><stop offset="0.6552" stop-color="#fdff02"/><stop offset="0.6724" stop-color="#eeff11"/><stop offset="0.6897" stop-color="#ddff22"/><stop offset="0.7069" stop-color="#cbff34"/><stop offset="0.7241" stop-color="#b7ff48"/><stop offset="0.7414" stop-color="#a2ff5d"/><stop offset="0.7586" stop-color="#8bff74"/><stop offset="0.7759" stop-color="#73ff8c"/><stop offset="0.7931" stop-color="#5affa5"/><stop offset="0.8103" stop-color="#3fffc0"/><stop offset="0.8276" stop-color="#23ffdc"/><stop offset="0.8448" stop-color="#05fffa"/><stop offset="0.8479" stop-color="#00ffff"/><stop offset="0.8621" stop-color="#00e5ff"/><stop offset="0.8793" stop-color="#00c2ff"/><stop offset="0.8966" stop-color="#009cff"/><stop offset="0.9138" stop-color="#0072ff"/><stop offset="0.9310" stop-color="#0046ff"/><stop offset="0.9483" stop-color="#0017ff"/><stop offset="0.9655" stop-color="#0000e6"/><stop offset="0.9828" stop-color="#0000b3"/><stop offset="1.0000" stop-color="#000080"/></linearGradient><linearGradient id="g33"><stop offset="0.0000" stop-color="#000080"/><stop offset="0.0217" stop-color="#0000c2"/><stop offset="0.0435" stop-color="#0002ff"/><stop offset="0.0652" stop-color="#003fff"/><stop offset="0.0870" stop-color="#0078ff"/><stop offset="0.1087" stop-color="#00aeff"/><stop offset="0.1304" stop-color="#00e0ff"/><stop offset="0.1452" stop-color="#00ffff"/><stop offset="0.1522" stop-color="#0efff1"/><stop offset="0.1739" stop-color="#39ffc6"/><stop offset="0.1957" stop-color="#63ff9c"/><stop offset="0.2174" stop-color="#8aff75"/><stop offset="0.2391" stop-color="#aeff51"/><stop offset="0.2609" stop-color="#cfff30"/><stop offset="0.2826" stop-color="#edff12"/><stop offset="0.2978" stop-color="#ffff00"/><stop offset="0.3043" stop-color="#fff800"/><stop offset="0.3261" stop-color="#ffe200"/><stop offset="0.3478" stop-color="#ffcd00"/><stop offset="0.3696" stop-color="#ffba00"/><stop offset="0.3913" stop-color="#ffaa00"/><stop offset="0.4120" stop-color="#ffa100"/><stop offset="0.4130" stop-color="#ffa000"/><stop offset="0.4348" stop-color="#ff9a00"/><stop offset="0.4565" stop-color="#ff9500"/><stop offset="0.4783" stop-color="#ff9200"/><stop offset="0.4946" stop-color="#ff9100"/><stop offset="0.5000" stop-color="#ff9100"/><stop offset="0.5217" stop-color="#ff9300"/><stop offset="0.5435" stop-color="#ff9600"/><stop offset="0.5652" stop-color="#ff9b00"/><stop offset="0.5870" stop-color="#ffa000"/><stop offset="0.5895" stop-color="#ffa100"/><stop offset="0.6087" stop-color="#ffa800"/><stop offset="0.6304" stop-color="#ffb400"/><stop offset="0.6522" stop-color="#ffc300"/><stop offset="0.6739" stop-color="#ffd500"/><stop offset="0.6957" stop-color="#ffe800"/><stop offset="0.7174" stop-color="#fffc00"/><stop offset="0.7204" stop-color="#ffff00"/><stop offset="0.7391" stop-color="#eaff15"/><stop offset="0.7609" stop-color="#ceff31"/><stop offset="0.7826" stop-color="#aeff51"/><stop offset="0.8043" stop-color="#8bff74"/><stop offset="0.8261" stop-color="#65ff9a"/><stop offset="0.8478" stop-color="#3bffc4"/><stop offset="0.8696" stop-color="#0ffff0"/><stop offset="0.8763" stop-color="#00ffff"/><stop offset="0.8913" stop-color="#00dcff"/><stop offset="0.9130" stop-color="#00a3ff"/><stop offset="0.9348" stop-color="#0063ff"/><stop offset="0.9565" stop-color="#001cff"/><stop offset="0.9783" stop-color="#0000cf"/><stop offset="1.0000" stop-color="#000080"/></linearGradient><linearGradient id="g34"><stop offset="0.0000" stop-color="#000080"/><stop offset="0.0200" stop-color="#0000b9"/><stop offset="0.0400" stop-color="#0000f1"/><stop offset="0.0600" stop-color="#0027ff"/><stop offset="0.0800" stop-color="#005bff"/><stop offset="0.1000" stop-color="#008bff"/><stop offset="0.1200" stop-color="#00b9ff"/><stop offset="0.1400" stop-color="#00e4ff"/><stop offset="0.1532" stop-color="#00ffff"/><stop offset="0.1600" stop-color="#0dfff2"/><stop offset="0.1800" stop-color="#34ffcb"/><stop offset="0.2000" stop-color="#59ffa6"/><stop offset="0.2200" stop-color="#7dff82"/><stop offset="0.2400" stop-color="#9fff60"/><stop offset="0.2600" stop-color="#beff41"/><stop offset="0.2800" stop-color="#dbff24"/><stop offset="0.3000" stop-color="#f4ff0b"/><stop offset="0.3093" stop-color="#ffff00"/><stop offset="0.3200" stop-color="#fff400"/><stop offset="0.3400" stop-color="#ffe000"/><stop offset="0.3600" stop-color="#ffce00"/><stop offset="0.3800" stop-color="#ffbe00"/><stop offset="0.4000" stop-color="#ffb200"/><stop offset="0.4109" stop-color="#ffae00"/><stop offset="0.4200" stop-color="#ffab00"/><stop offset="0.4400" stop-color="#ffa600"/><stop offset="0.4600" stop-color="#ffa300"/><stop offset="0.4800" stop-color="#ffa100"/><stop offset="0.4845" stop-color="#ffa100"/><stop offset="0.5000" stop-color="#ffa100"/><stop offset="0.5200" stop-color="#ffa400"/><stop offset="0.5400" stop-color="#ffa800"/><stop offset="0.5600" stop-color="#ffad00"/><stop offset="0.5644" stop-color="#ffae00"/><stop offset="0.5800" stop-color="#ffb400"/><stop offset="0.6000" stop-color="#ffbf00"/><stop offset="0.6200" stop-color="#ffce00"/><stop offset="0.6400" stop-color="#ffdf00"/><stop offset="0.6600" stop-color="#fff100"/><stop offset="0.6747" stop-color="#ffff00"/><stop offset="0.6800" stop-color="#f9ff06"/><stop offset="0.7000" stop-color="#e1ff1e"/><stop offset="0.7200" stop-color="#c6ff39"/><stop offset="0.7400" stop-color="#a8ff57"/><stop offset="0.7600" stop-color="#88ff77"/><stop offset="0.7800" stop-color="#65ff9a"/><stop offset="0.8000" stop-color="#41ffbe"/><stop offset="0.8200" stop-color="#1cffe3"/><stop offset="0.8348" stop-color="#00ffff"/><stop offset="0.8400" stop-color="#00f5ff"/><stop offset="0.8600" stop-color="#00ceff"/><stop offset="0.8800" stop-color="#00a4ff"/><stop offset="0.9000" stop-color="#0078ff"/><stop offset="0.9200" stop-color="#004aff"/><stop offset="0.9400" stop-color="#001aff"/><stop offset="0.9600" stop-color="#0000e8"/><stop offset="0.9800" stop-color="#0000b4"/><stop offset="1.0000" stop-color="#000080"/></linearGradient><linearGradient id="g35"><stop offset="0.0000" stop-color="#000080"/><stop offset="0.0222" stop-color="#0000ca"/><stop offset="0.0444" stop-color="#0012ff"/><stop offset="0.0667" stop-color="#0056ff"/><stop offset="0.0889" stop-color="#0094ff"/><stop offset="0.1111" stop-color="#00cdff"/><stop offset="0.1327" stop-color="#00ffff"/><stop offset="0.1333" stop-color="#01fffe"/><stop offset="0.1556" stop-color="#30ffcf"/><stop offset="0.1778" stop-color="#5dffa2"/><stop offset="0.2000" stop-color="#86ff79"/><stop offset="0.2222" stop-color="#acff53"/><stop offset="0.2444" stop-color="#cfff30"/><stop offset="0.2667" stop-color="#eeff11"/><stop offset="0.2810" stop-color="#ffff00"/><stop offset="0.2889" stop-color="#fff700"/><stop offset="0.3111" stop-color="#ffe000"/><stop offset="0.3333" stop-color="#ffca00"/><stop offset="0.3556" stop-color="#ffb700"/><stop offset="0.3778" stop-color="#ffa700"/><stop offset="0.4000" stop-color="#ff9d00"/><stop offset="0.4016" stop-color="#ff9c00"/><stop offset="0.4222" stop-color="#ff9600"/><stop offset="0.4444" stop-color="#ff9100"/><stop offset="0.4667" stop-color="#ff8e00"/><stop offset="0.4889" stop-color="#ff8c00"/><stop offset="0.4889" stop-color="#ff8c00"/><stop offset="0.5111" stop-color="#ff8d00"/><stop offset="0.5333" stop-color="#ff9100"/><stop offset="0.5556" stop-color="#ff9500"/><stop offset="0.5778" stop-color="#ff9b00"/><stop offset="0.5819" stop-color="#ff9c00"/><stop offset="0.6000" stop-color="#ffa300"/><stop offset="0.6222" stop-color="#ffb100"/><stop offset="0.6444" stop-color="#ffc200"/><stop offset="0.6667" stop-color="#ffd500"/><stop offset="0.6889" stop-color="#ffea00"/><stop offset="0.7102" stop-color="#ffff00"/><stop offset="0.7111" stop-color="#feff01"/><stop offset="0.7333" stop-color="#e4ff1b"/><stop offset="0.7556" stop-color="#c7ff38"/><stop offset="0.7778" stop-color="#a7ff58"/><stop offset="0.8000" stop-color="#84ff7b"/><stop offset="0.8222" stop-color="#5effa1"/><stop offset="0.8444" stop-color="#35ffca"/><stop offset="0.8667" stop-color="#08fff7"/><stop offset="0.8706" stop-color="#00ffff"/><stop offset="0.8889" stop-color="#00d6ff"/><stop offset="0.9111" stop-color="#009dff"/><stop offset="0.9333" stop-color="#005dff"/><stop offset="0.9556" stop-color="#0018ff"/><stop offset="0.9778" stop-color="#0000cd"/><stop offset="1.0000" stop-color="#000080"/></linearGradient><linearGradient id="g36"><stop offset="0.0000" stop-color="#000080"/><stop offset="0.0200" stop-color="#0000bb"/><stop offset="0.0400" stop-color="#0000f4"/><stop offset="0.0600" stop-color="#002cff"/><stop offset="0.0800" stop-color="#0060ff"/><stop offset="0.1000" stop-color="#0091ff"/><stop offset="0.1200" stop-color="#00c0ff"/><stop offset="0.1400" stop-color="#00ebff"/><stop offset="0.1497" stop-color="#00ffff"/><stop offset="0.1600" stop-color="#14ffeb"/><stop offset="0.1800" stop-color="#3bffc4"/><stop offset="0.2000" stop-color="#60ff9f"/><stop offset="0.2200" stop-color="#83ff7c"/><stop offset="0.2400" stop-color="#a4ff5b"/><stop offset="0.2600" stop-color="#c3ff3c"/><stop offset="0.2800" stop-color="#dfff20"/><stop offset="0.3000" stop-color="#f8ff07"/><stop offset="0.3065" stop-color="#ffff00"/><stop offset="0.3200" stop-color="#fff100"/><stop offset="0.3400" stop-color="#ffde00"/><stop offset="0.3600" stop-color="#ffcc00"/><stop offset="0.3800" stop-color="#ffbc00"/><stop offset="0.4000" stop-color="#ffb100"/><stop offset="0.4085" stop-color="#ffae00"/><stop offset="0.4200" stop-color="#ffab00"/><stop offset="0.4400" stop-color="#ffa600"/><stop offset="0.4600" stop-color="#ffa200"/><stop offset="0.4800" stop-color="#ffa100"/><stop offset="0.4824" stop-color="#ffa100"/><stop offset="0.5000" stop-color="#ffa100"/><stop offset="0.5200" stop-color="#ffa400"/><stop offset="0.5400" stop-color="#ffa800"/><stop offset="0.5600" stop-color="#ffad00"/><stop offset="0.5626" stop-color="#ffae00"/><stop offset="0.5800" stop-color="#ffb500"/><stop offset="0.6000" stop-color="#ffc000"/><stop offset="0.6200" stop-color="#ffcf00"/><stop offset="0.6400" stop-color="#ffe000"/><stop offset="0.6600" stop-color="#fff200"/><stop offset="0.6734" stop-color="#ffff00"/><stop offset="0.6800" stop-color="#f8ff07"/><stop offset="0.7000" stop-color="#e0ff1f"/><stop offset="0.7200" stop-color="#c5ff3a"/><stop offset="0.7400" stop-color="#a6ff59"/><stop offset="0.7600" stop-color="#86ff79"/><stop offset="0.7800" stop-color="#63ff9c"/><stop offset="0.8000" stop-color="#3fffc0"/><stop offset="0.8200" stop-color="#1bffe4"/><stop offset="0.8342" stop-color="#00ffff"/><stop offset="0.8400" stop-color="#00f4ff"/><stop offset="0.8600" stop-color="#00cdff"/><stop offset="0.8800" stop-color="#00a3ff"/><stop offset="0.9000" stop-color="#0077ff"/><stop offset="0.9200" stop-color="#0049ff"/><stop offset="0.9400" stop-color="#001aff"/><stop offset="0.9600" stop-color="#0000e7"/><stop offset="0.9800" stop-color="#0000b4"/><stop offset="1.0000" stop-color="#000080"/></linearGradient><linearGradient id="g37"><stop offset="0.0000" stop-color="#000080"/><stop offset="0.0233" stop-color="#0000d5"/><stop offset="0.0465" stop-color="#0027ff"/><stop offset="0.0698" stop-color="#0072ff"/><stop offset="0.0930" stop-color="#00b7ff"/><stop offset="0.1163" stop-color="#00f2ff"/><stop offset="0.1217" stop-color="#00ffff"/><stop offset="0.1395" stop-color="#28ffd7"/><stop offset="0.1628" stop-color="#58ffa7"/><stop offset="0.1860" stop-color="#85ff7a"/><stop offset="0.2093" stop-color="#aeff51"/><stop offset="0.2326" stop-color="#d2ff2d"/><stop offset="0.2558" stop-color="#f3ff0c"/><stop offset="0.2654" stop-color="#ffff00"/><stop offset="0.2791" stop-color="#fff000"/><stop offset="0.3023" stop-color="#ffd600"/><stop offset="0.3256" stop-color="#ffbf00"/><stop offset="0.3488" stop-color="#ffa800"/><stop offset="0.3721" stop-color="#ff9500"/><stop offset="0.3953" stop-color="#ff8800"/><stop offset="0.4018" stop-color="#ff8600"/><stop offset="0.4186" stop-color="#ff8100"/><stop offset="0.4419" stop-color="#ff7b00"/><stop offset="0.4651" stop-color="#ff7600"/><stop offset="0.4884" stop-color="#ff7300"/><stop offset="0.5006" stop-color="#ff7300"/><stop offset="0.5116" stop-color="#ff7300"/><stop offset="0.5349" stop-color="#ff7700"/><stop offset="0.5581" stop-color="#ff7d00"/><stop offset="0.5814" stop-color="#ff8400"/><stop offset="0.5857" stop-color="#ff8600"/><stop offset="0.6047" stop-color="#ff9100"/><stop offset="0.6279" stop-color="#ffa600"/><stop offset="0.6512" stop-color="#ffc100"/><stop offset="0.6744" stop-color="#ffdd00"/><stop offset="0.6977" stop-color="#fff900"/><stop offset="0.7034" stop-color="#ffff00"/><stop offset="0.7209" stop-color="#eaff15"/><stop offset="0.7442" stop-color="#ceff31"/><stop offset="0.7674" stop-color="#b2ff4d"/><stop offset="0.7907" stop-color="#95ff6a"/><stop offset="0.8140" stop-color="#75ff8a"/><stop offset="0.8372" stop-color="#52ffad"/><stop offset="0.8605" stop-color="#2bffd4"/><stop offset="0.8830" stop-color="#00ffff"/><stop offset="0.8837" stop-color="#00fdff"/><stop offset="0.9070" stop-color="#00c6ff"/><stop offset="0.9302" stop-color="#0082ff"/><stop offset="0.9535" stop-color="#0033ff"/><stop offset="0.9767" stop-color="#0000db"/><stop offset="1.0000" stop-color="#000080"/></linearGradient><linearGradient id="g38"><stop offset="0.0000" stop-color="#000080"/><stop offset="0.0208" stop-color="#0000bf"/><stop offset="0.0417" stop-color="#0000fc"/><stop offset="0.0625" stop-color="#0037ff"/><stop offset="0.0833" stop-color="#006fff"/><stop offset="0.1042" stop-color="#00a2ff"/><stop offset="0.1250" stop-color="#00d2ff"/><stop offset="0.1458" stop-color="#00feff"/><stop offset="0.1464" stop-color="#00ffff"/><stop offset="0.1667" stop-color="#27ffd8"/><stop offset="0.1875" stop-color="#4effb1"/><stop offset="0.2083" stop-color="#72ff8d"/><stop offset="0.2292" stop-color="#95ff6a"/><stop offset="0.2500" stop-color="#b5ff4a"/><stop offset="0.2708" stop-color="#d2ff2d"/><stop offset="0.2917" stop-color="#edff12"/><stop offset="0.3062" stop-color="#ffff00"/><stop offset="0.3125" stop-color="#fff800"/><stop offset="0.3333" stop-color="#ffe200"/><stop offset="0.3542" stop-color="#ffcd00"/><stop offset="0.3750" stop-color="#ffba00"/><stop offset="0.3958" stop-color="#ffab00"/><stop offset="0.4096" stop-color="#ffa500"/><stop offset="0.4167" stop-color="#ffa300"/><stop offset="0.4375" stop-color="#ff9d00"/><stop offset="0.4583" stop-color="#ff9900"/><stop offset="0.4792" stop-color="#ff9700"/><stop offset="0.4845" stop-color="#ff9600"/><stop offset="0.5000" stop-color="#ff9700"/><stop offset="0.5208" stop-color="#ff9a00"/><stop offset="0.5417" stop-color="#ff9e00"/><stop offset="0.5625" stop-color="#ffa400"/><stop offset="0.5677" stop-color="#ffa500"/><stop offset="0.5833" stop-color="#ffab00"/><stop offset="0.6042" stop-color="#ffb800"/><stop offset="0.6250" stop-color="#ffc800"/><stop offset="0.6458" stop-color="#ffdb00"/><stop offset="0.6667" stop-color="#ffef00"/><stop offset="0.6825" stop-color="#ffff00"/><stop offset="0.6875" stop-color="#f9ff06"/><stop offset="0.7083" stop-color="#e0ff1f"/><stop offset="0.7292" stop-color="#c3ff3c"/><stop offset="0.7500" stop-color="#a2ff5d"/><stop offset="0.7708" stop-color="#80ff7f"/><stop offset="0.7917" stop-color="#5bffa4"/><stop offset="0.8125" stop-color="#35ffca"/><stop offset="0.8333" stop-color="#0dfff2"/><stop offset="0.8402" stop-color="#00ffff"/><stop offset="0.8542" stop-color="#00e3ff"/><stop offset="0.8750" stop-color="#00b8ff"/><stop offset="0.8958" stop-color="#008aff"/><stop offset="0.9167" stop-color="#0059ff"/><stop offset="0.9375" stop-color="#0026ff"/><stop offset="0.9583" stop-color="#0000f0"/><stop offset="0.9792" stop-color="#0000b9"/><stop offset="1.0000" stop-color="#000080"/></linearGradient><linearGradient id="g39"><stop offset="0.0000" stop-color="#000080"/><stop offset="0.0227" stop-color="#0000d1"/><stop offset="0.0455" stop-color="#001fff"/><stop offset="0.0682" stop-color="#0068ff"/><stop offset="0.0909" stop-color="#00aaff"/><stop offset="0.1136" stop-color="#00e5ff"/><stop offset="0.1244" stop-color="#00ffff"/><stop offset="0.1364" stop-color="#1bffe4"/><stop offset="0.1591" stop-color="#4cffb3"/><stop offset="0.1818" stop-color="#79ff86"/><stop offset="0.2045" stop-color="#a3ff5c"/><stop offset="0.2273" stop-color="#c9ff36"/><stop offset="0.2500" stop-color="#ebff14"/><stop offset="0.2658" stop-color="#ffff00"/><stop offset="0.2727" stop-color="#fff700"/><stop offset="0.2955" stop-color="#ffdf00"/><stop offset="0.3182" stop-color="#ffc800"/><stop offset="0.3409" stop-color="#ffb200"/><stop offset="0.3636" stop-color="#ff9e00"/><stop offset="0.3864" stop-color="#ff8f00"/><stop offset="0.4069" stop-color="#ff8600"/><stop offset="0.4091" stop-color="#ff8500"/><stop offset="0.4318" stop-color="#ff7f00"/><stop offset="0.4545" stop-color="#ff7900"/><stop offset="0.4773" stop-color="#ff7500"/><stop offset="0.5000" stop-color="#ff7300"/><stop offset="0.5090" stop-color="#ff7300"/><stop offset="0.5227" stop-color="#ff7300"/><stop offset="0.5455" stop-color="#ff7800"/><stop offset="0.5682" stop-color="#ff7e00"/><stop offset="0.5898" stop-color="#ff8600"/><stop offset="0.5909" stop-color="#ff8600"/><stop offset="0.6136" stop-color="#ff9600"/><stop offset="0.6364" stop-color="#ffae00"/><stop offset="0.6591" stop-color="#ffca00"/><stop offset="0.6818" stop-color="#ffe700"/><stop offset="0.7014" stop-color="#ffff00"/><stop offset="0.7045" stop-color="#fbff04"/><stop offset="0.7273" stop-color="#dfff20"/><stop offset="0.7500" stop-color="#c2ff3d"/><stop offset="0.7727" stop-color="#a5ff5a"/><stop offset="0.7955" stop-color="#87ff78"/><stop offset="0.8182" stop-color="#66ff99"/><stop offset="0.8409" stop-color="#42ffbd"/><stop offset="0.8636" stop-color="#1affe5"/><stop offset="0.8767" stop-color="#00ffff"/><stop offset="0.8864" stop-color="#00eaff"/><stop offset="0.9091" stop-color="#00b2ff"/><stop offset="0.9318" stop-color="#006fff"/><stop offset="0.9545" stop-color="#0025ff"/><stop offset="0.9773" stop-color="#0000d4"/><stop offset="1.0000" stop-color="#000080"/></linearGradient><linearGradient id="g40"><stop offset="0.0000" stop-color="#000080"/><stop offset="0.0213" stop-color="#0000c0"/><stop offset="0.0426" stop-color="#0000fe"/><stop offset="0.0638" stop-color="#003bff"/><stop offset="0.0851" stop-color="#0073ff"/><stop offset="0.1064" stop-color="#00a8ff"/><stop offset="0.1277" stop-color="#00daff"/><stop offset="0.1447" stop-color="#00ffff"/><stop offset="0.1489" stop-color="#09fff6"/><stop offset="0.1702" stop-color="#34ffcb"/><stop offset="0.1915" stop-color="#5effa1"/><stop offset="0.2128" stop-color="#85ff7a"/><stop offset="0.2340" stop-color="#aaff55"/><stop offset="0.2553" stop-color="#cdff32"/><stop offset="0.2766" stop-color="#ecff13"/><stop offset="0.2905" stop-color="#ffff00"/><stop offset="0.2979" stop-color="#fff600"/><stop offset="0.3191" stop-color="#ffdc00"/><stop offset="0.3404" stop-color="#ffc400"/><stop offset="0.3617" stop-color="#ffac00"/><stop offset="0.3830" stop-color="#ff9900"/><stop offset="0.4024" stop-color="#ff8f00"/><stop offset="0.4043" stop-color="#ff8e00"/><stop offset="0.4255" stop-color="#ff8700"/><stop offset="0.4468" stop-color="#ff8100"/><stop offset="0.4681" stop-color="#ff7e00"/><stop offset="0.4834" stop-color="#ff7d00"/><stop offset="0.4894" stop-color="#ff7d00"/><stop offset="0.5106" stop-color="#ff7f00"/><stop offset="0.5319" stop-color="#ff8300"/><stop offset="0.5532" stop-color="#ff8800"/><stop offset="0.5745" stop-color="#ff8e00"/><stop offset="0.5766" stop-color="#ff8f00"/><stop offset="0.5957" stop-color="#ff9700"/><stop offset="0.6170" stop-color="#ffa700"/><stop offset="0.6383" stop-color="#ffba00"/><stop offset="0.6596" stop-color="#ffcf00"/><stop offset="0.6809" stop-color="#ffe500"/><stop offset="0.7021" stop-color="#fffc00"/><stop offset="0.7053" stop-color="#ffff00"/><stop offset="0.7234" stop-color="#e9ff16"/><stop offset="0.7447" stop-color="#ccff33"/><stop offset="0.7660" stop-color="#acff53"/><stop offset="0.7872" stop-color="#8aff75"/><stop offset="0.8085" stop-color="#65ff9a"/><stop offset="0.8298" stop-color="#3dffc2"/><stop offset="0.8511" stop-color="#14ffeb"/><stop offset="0.8607" stop-color="#00ffff"/><stop offset="0.8723" stop-color="#00e6ff"/><stop offset="0.8936" stop-color="#00b5ff"/><stop offset="0.9149" stop-color="#007fff"/><stop offset="0.9362" stop-color="#0044ff"/><stop offset="0.9574" stop-color="#0006ff"/><stop offset="0.9787" stop-color="#0000c4"/><stop offset="1.0000" stop-color="#000080"/></linearGradient><linearGradient id="g41"><stop offset="0.0000" stop-color="#000080"/><stop offset="0.0222" stop-color="#0000cc"/><stop offset="0.0444" stop-color="#0015ff"/><stop offset="0.0667" stop-color="#0059ff"/><stop offset="0.0889" stop-color="#0098ff"/><stop offset="0.1111" stop-color="#00d2ff"/><stop offset="0.1304" stop-color="#00ffff"/><stop offset="0.1333" stop-color="#06fff9"/><stop offset="0.1556" stop-color="#36ffc9"/><stop offset="0.1778" stop-color="#62ff9d"/><stop offset="0.2000" stop-color="#8bff74"/><stop offset="0.2222" stop-color="#b1ff4e"/><stop offset="0.2444" stop-color="#d4ff2b"/><stop offset="0.2667" stop-color="#f3ff0c"/><stop offset="0.2762" stop-color="#ffff00"/><stop offset="0.2889" stop-color="#fff100"/><stop offset="0.3111" stop-color="#ffd800"/><stop offset="0.3333" stop-color="#ffc100"/><stop offset="0.3556" stop-color="#ffab00"/><stop offset="0.3778" stop-color="#ff9800"/><stop offset="0.4000" stop-color="#ff8a00"/><stop offset="0.4108" stop-color="#ff8600"/><stop offset="0.4222" stop-color="#ff8200"/><stop offset="0.4444" stop-color="#ff7c00"/><stop offset="0.4667" stop-color="#ff7700"/><stop offset="0.4889" stop-color="#ff7400"/><stop offset="0.5083" stop-color="#ff7300"/><stop offset="0.5111" stop-color="#ff7300"/><stop offset="0.5333" stop-color="#ff7500"/><stop offset="0.5556" stop-color="#ff7a00"/><stop offset="0.5778" stop-color="#ff8000"/><stop offset="0.5941" stop-color="#ff8600"/><stop offset="0.6000" stop-color="#ff8800"/><stop offset="0.6222" stop-color="#ff9800"/><stop offset="0.6444" stop-color="#ffae00"/><stop offset="0.6667" stop-color="#ffc800"/><stop offset="0.6889" stop-color="#ffe300"/><stop offset="0.7111" stop-color="#fffd00"/><stop offset="0.7127" stop-color="#ffff00"/><stop offset="0.7333" stop-color="#e5ff1a"/><stop offset="0.7556" stop-color="#c8ff37"/><stop offset="0.7778" stop-color="#a9ff56"/><stop offset="0.8000" stop-color="#88ff77"/><stop offset="0.8222" stop-color="#65ff9a"/><stop offset="0.8444" stop-color="#3effc1"/><stop offset="0.8667" stop-color="#14ffeb"/><stop offset="0.8762" stop-color="#00ffff"/><stop offset="0.8889" stop-color="#00e3ff"/><stop offset="0.9111" stop-color="#00aaff"/><stop offset="0.9333" stop-color="#0068ff"/><stop offset="0.9556" stop-color="#0020ff"/><stop offset="0.9778" stop-color="#0000d1"/><stop offset="1.0000" stop-color="#000080"/></linearGradient><linearGradient id="g42"><stop offset="0.0000" stop-color="#000080"/><stop offset="0.0217" stop-color="#0000c2"/><stop offset="0.0435" stop-color="#0003ff"/><stop offset="0.0652" stop-color="#0041ff"/><stop offset="0.0870" stop-color="#007bff"/><stop offset="0.1087" stop-color="#00b2ff"/><stop offset="0.1304" stop-color="#00e5ff"/><stop offset="0.1422" stop-color="#00ffff"/><stop offset="0.1522" stop-color="#15ffea"/><stop offset="0.1739" stop-color="#43ffbc"/><stop offset="0.1957" stop-color="#6dff92"/><stop offset="0.2174" stop-color="#96ff69"/><stop offset="0.2391" stop-color="#bcff43"/><stop offset="0.2609" stop-color="#dfff20"/><stop offset="0.2823" stop-color="#ffff00"/><stop offset="0.2826" stop-color="#ffff00"/><stop offset="0.3043" stop-color="#ffe200"/><stop offset="0.3261" stop-color="#ffc600"/><stop offset="0.3478" stop-color="#ffaa00"/><stop offset="0.3696" stop-color="#ff9000"/><stop offset="0.3913" stop-color="#ff7d00"/><stop offset="0.4076" stop-color="#ff7400"/><stop offset="0.4130" stop-color="#ff7200"/><stop offset="0.4348" stop-color="#ff6a00"/><stop offset="0.4565" stop-color="#ff6400"/><stop offset="0.4783" stop-color="#ff6000"/><stop offset="0.4984" stop-color="#ff5e00"/><stop offset="0.5000" stop-color="#ff5e00"/><stop offset="0.5217" stop-color="#ff6000"/><stop offset="0.5435" stop-color="#ff6500"/><stop offset="0.5652" stop-color="#ff6b00"/><stop offset="0.5870" stop-color="#ff7300"/><stop offset="0.5891" stop-color="#ff7400"/><stop offset="0.6087" stop-color="#ff8000"/><stop offset="0.6304" stop-color="#ff9400"/><stop offset="0.6522" stop-color="#ffaf00"/><stop offset="0.6739" stop-color="#ffcb00"/><stop offset="0.6957" stop-color="#ffe700"/><stop offset="0.7144" stop-color="#ffff00"/><stop offset="0.7174" stop-color="#fbff04"/><stop offset="0.7391" stop-color="#ddff22"/><stop offset="0.7609" stop-color="#bdff42"/><stop offset="0.7826" stop-color="#9cff63"/><stop offset="0.8043" stop-color="#79ff86"/><stop offset="0.8261" stop-color="#53ffac"/><stop offset="0.8478" stop-color="#2affd5"/><stop offset="0.8686" stop-color="#00ffff"/><stop offset="0.8696" stop-color="#00fdff"/><stop offset="0.8913" stop-color="#00cbff"/><stop offset="0.9130" stop-color="#0093ff"/><stop offset="0.9348" stop-color="#0055ff"/><stop offset="0.9565" stop-color="#0012ff"/><stop offset="0.9783" stop-color="#0000ca"/><stop offset="1.0000" stop-color="#000080"/></linearGradient><linearGradient id="g43"><stop offset="0.0000" stop-color="#000080"/><stop offset="0.0179" stop-color="#0000ba"/><stop offset="0.0357" stop-color="#0000f3"/><stop offset="0.0536" stop-color="#002bff"/><stop offset="0.0714" stop-color="#005fff"/><stop offset="0.0893" stop-color="#0090ff"/><stop offset="0.1071" stop-color="#00bdff"/><stop offset="0.1250" stop-color="#00e7ff"/><stop offset="0.1360" stop-color="#00ffff"/><stop offset="0.1429" stop-color="#0efff1"/><stop offset="0.1607" stop-color="#32ffcd"/><stop offset="0.1786" stop-color="#54ffab"/><stop offset="0.1964" stop-color="#75ff8a"/><stop offset="0.2143" stop-color="#94ff6b"/><stop offset="0.2321" stop-color="#b0ff4f"/><stop offset="0.2500" stop-color="#cbff34"/><stop offset="0.2679" stop-color="#e4ff1b"/><stop offset="0.2857" stop-color="#faff05"/><stop offset="0.2901" stop-color="#ffff00"/><stop offset="0.3036" stop-color="#fff100"/><stop offset="0.3214" stop-color="#ffde00"/><stop offset="0.3393" stop-color="#ffcd00"/><stop offset="0.3571" stop-color="#ffbd00"/><stop offset="0.3750" stop-color="#ffad00"/><stop offset="0.3929" stop-color="#ffa100"/><stop offset="0.4107" stop-color="#ff9900"/><stop offset="0.4134" stop-color="#ff9800"/><stop offset="0.4286" stop-color="#ff9300"/><stop offset="0.4464" stop-color="#ff8f00"/><stop offset="0.4643" stop-color="#ff8b00"/><stop offset="0.4821" stop-color="#ff8800"/><stop offset="0.5000" stop-color="#ff8700"/><stop offset="0.5027" stop-color="#ff8700"/><stop offset="0.5179" stop-color="#ff8800"/><stop offset="0.5357" stop-color="#ff8a00"/><stop offset="0.5536" stop-color="#ff8e00"/><stop offset="0.5714" stop-color="#ff9300"/><stop offset="0.5852" stop-color="#ff9800"/><stop offset="0.5893" stop-color="#ff9900"/><stop offset="0.6071" stop-color="#ffa300"/><stop offset="0.6250" stop-color="#ffb200"/><stop offset="0.6429" stop-color="#ffc300"/><stop offset="0.6607" stop-color="#ffd600"/><stop offset="0.6786" stop-color="#ffe900"/><stop offset="0.6964" stop-color="#fffc00"/><stop offset="0.6991" stop-color="#ffff00"/><stop offset="0.7143" stop-color="#eeff11"/><stop offset="0.7321" stop-color="#d9ff26"/><stop offset="0.7500" stop-color="#c4ff3b"/><stop offset="0.7679" stop-color="#aeff51"/><stop offset="0.7857" stop-color="#97ff68"/><stop offset="0.8036" stop-color="#7eff81"/><stop offset="0.8214" stop-color="#64ff9b"/><stop offset="0.8393" stop-color="#47ffb8"/><stop offset="0.8571" stop-color="#28ffd7"/><stop offset="0.8750" stop-color="#07fff8"/><stop offset="0.8784" stop-color="#00ffff"/><stop offset="0.8929" stop-color="#00dfff"/><stop offset="0.9107" stop-color="#00b2ff"/><stop offset="0.9286" stop-color="#007dff"/><stop offset="0.9464" stop-color="#0044ff"/><stop offset="0.9643" stop-color="#0006ff"/><stop offset="0.9821" stop-color="#0000c3"/><stop offset="1.0000" stop-color="#000080"/></linearGradient><linearGradient id="g44"><stop offset="0.0000" stop-color="#000080"/><stop offset="0.0217" stop-color="#0000c8"/><stop offset="0.0435" stop-color="#000eff"/><stop offset="0.0652" stop-color="#0051ff"/><stop offset="0.0870" stop-color="#008fff"/><stop offset="0.1087" stop-color="#00caff"/><stop offset="0.1293" stop-color="#00ffff"/><stop offset="0.1304" stop-color="#03fffc"/><stop offset="0.1522" stop-color="#37ffc8"/><stop offset="0.1739" stop-color="#6aff95"/><stop offset="0.1957" stop-color="#9aff65"/><stop offset="0.2174" stop-color="#c6ff39"/><stop offset="0.2391" stop-color="#edff12"/><stop offset="0.2500" stop-color="#ffff00"/><stop offset="0.2609" stop-color="#ffef00"/><stop offset="0.2826" stop-color="#ffd000"/><stop offset="0.3043" stop-color="#ffb100"/><stop offset="0.3261" stop-color="#ff9200"/><stop offset="0.3478" stop-color="#ff7700"/><stop offset="0.3696" stop-color="#ff6000"/><stop offset="0.3913" stop-color="#ff5100"/><stop offset="0.4000" stop-color="#ff4c00"/><stop offset="0.4130" stop-color="#ff4700"/><stop offset="0.4348" stop-color="#ff3f00"/><stop offset="0.4565" stop-color="#ff3800"/><stop offset="0.4783" stop-color="#ff3300"/><stop offset="0.5000" stop-color="#ff3100"/><stop offset="0.5086" stop-color="#ff3000"/><stop offset="0.5217" stop-color="#ff3100"/><stop offset="0.5435" stop-color="#ff3500"/><stop offset="0.5652" stop-color="#ff3c00"/><stop offset="0.5870" stop-color="#ff4600"/><stop offset="0.6014" stop-color="#ff4c00"/><stop offset="0.6087" stop-color="#ff5100"/><stop offset="0.6304" stop-color="#ff6500"/><stop offset="0.6522" stop-color="#ff8200"/><stop offset="0.6739" stop-color="#ffa500"/><stop offset="0.6957" stop-color="#ffca00"/><stop offset="0.7174" stop-color="#ffed00"/><stop offset="0.7295" stop-color="#ffff00"/><stop offset="0.7391" stop-color="#efff10"/><stop offset="0.7609" stop-color="#caff35"/><stop offset="0.7826" stop-color="#a4ff5b"/><stop offset="0.8043" stop-color="#7cff83"/><stop offset="0.8261" stop-color="#51ffae"/><stop offset="0.8478" stop-color="#24ffdb"/><stop offset="0.8642" stop-color="#00ffff"/><stop offset="0.8696" stop-color="#00f3ff"/><stop offset="0.8913" stop-color="#00beff"/><stop offset="0.9130" stop-color="#0086ff"/><stop offset="0.9348" stop-color="#0049ff"/><stop offset="0.9565" stop-color="#000aff"/><stop offset="0.9783" stop-color="#0000c5"/><stop offset="1.0000" stop-color="#000080"/></linearGradient><linearGradient id="g45"><stop offset="0.0000" stop-color="#000080"/><stop offset="0.0149" stop-color="#0000aa"/><stop offset="0.0299" stop-color="#0000d4"/><stop offset="0.0448" stop-color="#0000fc"/><stop offset="0.0597" stop-color="#0025ff"/><stop offset="0.0746" stop-color="#004bff"/><stop offset="0.0896" stop-color="#0070ff"/><stop offset="0.1045" stop-color="#0093ff"/><stop offset="0.1194" stop-color="#00b5ff"/><stop offset="0.1343" stop-color="#00d5ff"/><stop offset="0.1493" stop-color="#00f4ff"/><stop offset="0.1547" stop-color="#00ffff"/><stop offset="0.1642" stop-color="#13ffec"/><stop offset="0.1791" stop-color="#2fffd0"/><stop offset="0.1940" stop-color="#4bffb4"/><stop offset="0.2090" stop-color="#66ff99"/><stop offset="0.2239" stop-color="#80ff7f"/><stop offset="0.2388" stop-color="#99ff66"/><stop offset="0.2537" stop-color="#b1ff4e"/><stop offset="0.2687" stop-color="#c7ff38"/><stop offset="0.2836" stop-color="#dcff23"/><stop offset="0.2985" stop-color="#f0ff0f"/><stop offset="0.3108" stop-color="#ffff00"/><stop offset="0.3134" stop-color="#fffc00"/><stop offset="0.3284" stop-color="#ffec00"/><stop offset="0.3433" stop-color="#ffdc00"/><stop offset="0.3582" stop-color="#ffcd00"/><stop offset="0.3731" stop-color="#ffbf00"/><stop offset="0.3881" stop-color="#ffb200"/><stop offset="0.4030" stop-color="#ffa800"/><stop offset="0.4179" stop-color="#ffa100"/><stop offset="0.4184" stop-color="#ffa100"/><stop offset="0.4328" stop-color="#ff9c00"/><stop offset="0.4478" stop-color="#ff9800"/><stop offset="0.4627" stop-color="#ff9500"/><stop offset="0.4776" stop-color="#ff9200"/><stop offset="0.4925" stop-color="#ff9100"/><stop offset="0.4962" stop-color="#ff9100"/><stop offset="0.5075" stop-color="#ff9200"/><stop offset="0.5224" stop-color="#ff9300"/><stop offset="0.5373" stop-color="#ff9600"/><stop offset="0.5522" stop-color="#ff9900"/><stop offset="0.5672" stop-color="#ff9d00"/><stop offset="0.5798" stop-color="#ffa100"/><stop offset="0.5821" stop-color="#ffa100"/><stop offset="0.5970" stop-color="#ffa800"/><stop offset="0.6119" stop-color="#ffb200"/><stop offset="0.6269" stop-color="#ffbd00"/><stop offset="0.6418" stop-color="#ffca00"/><stop offset="0.6567" stop-color="#ffd800"/><stop offset="0.6716" stop-color="#ffe700"/><stop offset="0.6866" stop-color="#fff600"/><stop offset="0.6952" stop-color="#ffff00"/><stop offset="0.7015" stop-color="#f8ff07"/><stop offset="0.7164" stop-color="#e5ff1a"/><stop offset="0.7313" stop-color="#d1ff2e"/><stop offset="0.7463" stop-color="#bbff44"/><stop offset="0.7612" stop-color="#a4ff5b"/><stop offset="0.7761" stop-color="#8cff73"/><stop offset="0.7910" stop-color="#72ff8d"/><stop offset="0.8060" stop-color="#57ffa8"/><stop offset="0.8209" stop-color="#3bffc4"/><stop offset="0.8358" stop-color="#1fffe0"/><stop offset="0.8507" stop-color="#01fffe"/><stop offset="0.8514" stop-color="#00ffff"/><stop offset="0.8657" stop-color="#00e1ff"/><stop offset="0.8806" stop-color="#00c1ff"/><stop offset="0.8955" stop-color="#009eff"/><stop offset="0.9104" stop-color="#007aff"/><stop offset="0.9254" stop-color="#0054ff"/><stop offset="0.9403" stop-color="#002cff"/><stop offset="0.9552" stop-color="#0003ff"/><stop offset="0.9701" stop-color="#0000d8"/><stop offset="0.9851" stop-color="#0000ac"/><stop offset="1.0000" stop-color="#000080"/></linearGradient><linearGradient id="g46"><stop offset="0.0000" stop-color="#000080"/><stop offset="0.0238" stop-color="#0000cf"/><stop offset="0.0476" stop-color="#001bff"/><stop offset="0.0714" stop-color="#0062ff"/><stop offset="0.0952" stop-color="#00a5ff"/><stop offset="0.1190" stop-color="#00e1ff"/><stop offset="0.1317" stop-color="#00ffff"/><stop offset="0.1429" stop-color="#19ffe6"/><stop offset="0.1667" stop-color="#4effb1"/><stop offset="0.1905" stop-color="#80ff7f"/><stop offset="0.2143" stop-color="#aeff51"/><stop offset="0.2381" stop-color="#d7ff28"/><stop offset="0.2619" stop-color="#f9ff06"/><stop offset="0.2669" stop-color="#ffff00"/><stop offset="0.2857" stop-color="#ffeb00"/><stop offset="0.3095" stop-color="#ffd200"/><stop offset="0.3333" stop-color="#ffbb00"/><stop offset="0.3571" stop-color="#ffa500"/><stop offset="0.3810" stop-color="#ff9300"/><stop offset="0.4048" stop-color="#ff8600"/><stop offset="0.4169" stop-color="#ff8200"/><stop offset="0.4286" stop-color="#ff7e00"/><stop offset="0.4524" stop-color="#ff7800"/><stop offset="0.4762" stop-color="#ff7300"/><stop offset="0.5000" stop-color="#ff6f00"/><stop offset="0.5238" stop-color="#ff6e00"/><stop offset="0.5255" stop-color="#ff6e00"/><stop offset="0.5476" stop-color="#ff7000"/><stop offset="0.5714" stop-color="#ff7600"/><stop offset="0.5952" stop-color="#ff7f00"/><stop offset="0.6012" stop-color="#ff8200"/><stop offset="0.6190" stop-color="#ff8d00"/><stop offset="0.6429" stop-color="#ffa800"/><stop offset="0.6667" stop-color="#ffc900"/><stop offset="0.6905" stop-color="#ffea00"/><stop offset="0.7058" stop-color="#ffff00"/><stop offset="0.7143" stop-color="#f3ff0c"/><stop offset="0.7381" stop-color="#ceff31"/><stop offset="0.7619" stop-color="#a8ff57"/><stop offset="0.7857" stop-color="#7fff80"/><stop offset="0.8095" stop-color="#53ffac"/><stop offset="0.8333" stop-color="#25ffda"/><stop offset="0.8517" stop-color="#00ffff"/><stop offset="0.8571" stop-color="#00f4ff"/><stop offset="0.8810" stop-color="#00bfff"/><stop offset="0.9048" stop-color="#0086ff"/><stop offset="0.9286" stop-color="#004aff"/><stop offset="0.9524" stop-color="#000aff"/><stop offset="0.9762" stop-color="#0000c6"/><stop offset="1.0000" stop-color="#000080"/></linearGradient><linearGradient id="g47"><stop offset="0.0000" stop-color="#000080"/><stop offset="0.0169" stop-color="#0000b3"/><stop offset="0.0339" stop-color="#0000e6"/><stop offset="0.0508" stop-color="#0017ff"/><stop offset="0.0678" stop-color="#0046ff"/><stop offset="0.0847" stop-color="#0072ff"/><stop offset="0.1017" stop-color="#009cff"/><stop offset="0.1186" stop-color="#00c4ff"/><stop offset="0.1356" stop-color="#00e8ff"/><stop offset="0.1468" stop-color="#00ffff"/><stop offset="0.1525" stop-color="#0bfff4"/><stop offset="0.1695" stop-color="#2bffd4"/><stop offset="0.1864" stop-color="#4affb5"/><stop offset="0.2034" stop-color="#67ff98"/><stop offset="0.2203" stop-color="#83ff7c"/><stop offset="0.2373" stop-color="#9dff62"/><stop offset="0.2542" stop-color="#b6ff49"/><stop offset="0.2712" stop-color="#ceff31"/><stop offset="0.2881" stop-color="#e5ff1a"/><stop offset="0.3051" stop-color="#faff05"/><stop offset="0.3089" stop-color="#ffff00"/><stop offset="0.3220" stop-color="#fff000"/><stop offset="0.3390" stop-color="#ffdd00"/><stop offset="0.3559" stop-color="#ffca00"/><stop offset="0.3729" stop-color="#ffb800"/><stop offset="0.3898" stop-color="#ffa800"/><stop offset="0.4068" stop-color="#ff9c00"/><stop offset="0.4168" stop-color="#ff9800"/><stop offset="0.4237" stop-color="#ff9500"/><stop offset="0.4407" stop-color="#ff9000"/><stop offset="0.4576" stop-color="#ff8c00"/><stop offset="0.4746" stop-color="#ff8900"/><stop offset="0.4915" stop-color="#ff8700"/><stop offset="0.4949" stop-color="#ff8700"/><stop offset="0.5085" stop-color="#ff8800"/><stop offset="0.5254" stop-color="#ff8a00"/><stop offset="0.5424" stop-color="#ff8d00"/><stop offset="0.5593" stop-color="#ff9200"/><stop offset="0.5763" stop-color="#ff9700"/><stop offset="0.5795" stop-color="#ff9800"/><stop offset="0.5932" stop-color="#ff9e00"/><stop offset="0.6102" stop-color="#ffa900"/><stop offset="0.6271" stop-color="#ffb800"/><stop offset="0.6441" stop-color="#ffc800"/><stop offset="0.6610" stop-color="#ffda00"/><stop offset="0.6780" stop-color="#ffec00"/><stop offset="0.6949" stop-color="#fffe00"/><stop offset="0.6962" stop-color="#ffff00"/><stop offset="0.7119" stop-color="#edff12"/><stop offset="0.7288" stop-color="#d8ff27"/><stop offset="0.7458" stop-color="#c3ff3c"/><stop offset="0.7627" stop-color="#acff53"/><stop offset="0.7797" stop-color="#94ff6b"/><stop offset="0.7966" stop-color="#7bff84"/><stop offset="0.8136" stop-color="#60ff9f"/><stop offset="0.8305" stop-color="#44ffbb"/><stop offset="0.8475" stop-color="#25ffda"/><stop offset="0.8644" stop-color="#05fffa"/><stop offset="0.8669" stop-color="#00ffff"/><stop offset="0.8814" stop-color="#00e0ff"/><stop offset="0.8983" stop-color="#00b8ff"/><stop offset="0.9153" stop-color="#008cff"/><stop offset="0.9322" stop-color="#005cff"/><stop offset="0.9492" stop-color="#0029ff"/><stop offset="0.9661" stop-color="#0000f2"/><stop offset="0.9831" stop-color="#0000ba"/><stop offset="1.0000" stop-color="#000080"/></linearGradient><linearGradient id="g48"><stop offset="0.0000" stop-color="#000080"/><stop offset="0.0217" stop-color="#0000bb"/><stop offset="0.0435" stop-color="#0000f4"/><stop offset="0.0652" stop-color="#002dff"/><stop offset="0.0870" stop-color="#0062ff"/><stop offset="0.1087" stop-color="#0096ff"/><stop offset="0.1304" stop-color="#00c8ff"/><stop offset="0.1522" stop-color="#00f8ff"/><stop offset="0.1556" stop-color="#00ffff"/><stop offset="0.1739" stop-color="#27ffd8"/><stop offset="0.1957" stop-color="#56ffa9"/><stop offset="0.2174" stop-color="#83ff7c"/><stop offset="0.2391" stop-color="#aeff51"/><stop offset="0.2609" stop-color="#d4ff2b"/><stop offset="0.2826" stop-color="#f5ff0a"/><stop offset="0.2905" stop-color="#ffff00"/><stop offset="0.3043" stop-color="#fff000"/><stop offset="0.3261" stop-color="#ffd800"/><stop offset="0.3478" stop-color="#ffc300"/><stop offset="0.3696" stop-color="#ffaf00"/><stop offset="0.3913" stop-color="#ffa000"/><stop offset="0.4098" stop-color="#ff9800"/><stop offset="0.4130" stop-color="#ff9700"/><stop offset="0.4348" stop-color="#ff9000"/><stop offset="0.4565" stop-color="#ff8b00"/><stop offset="0.4783" stop-color="#ff8800"/><stop offset="0.4962" stop-color="#ff8700"/><stop offset="0.5000" stop-color="#ff8700"/><stop offset="0.5217" stop-color="#ff8900"/><stop offset="0.5435" stop-color="#ff8e00"/><stop offset="0.5652" stop-color="#ff9500"/><stop offset="0.5743" stop-color="#ff9800"/><stop offset="0.5870" stop-color="#ff9e00"/><stop offset="0.6087" stop-color="#ffae00"/><stop offset="0.6304" stop-color="#ffc400"/><stop offset="0.6522" stop-color="#ffdc00"/><stop offset="0.6739" stop-color="#fff500"/><stop offset="0.6823" stop-color="#ffff00"/><stop offset="0.6957" stop-color="#eeff11"/><stop offset="0.7174" stop-color="#cfff30"/><stop offset="0.7391" stop-color="#aeff51"/><stop offset="0.7609" stop-color="#8aff75"/><stop offset="0.7826" stop-color="#65ff9a"/><stop offset="0.8043" stop-color="#3dffc2"/><stop offset="0.8261" stop-color="#15ffea"/><stop offset="0.8368" stop-color="#00ffff"/><stop offset="0.8478" stop-color="#00e9ff"/><stop offset="0.8696" stop-color="#00bdff"/><stop offset="0.8913" stop-color="#008dff"/><stop offset="0.9130" stop-color="#005cff"/><stop offset="0.9348" stop-color="#0028ff"/><stop offset="0.9565" stop-color="#0000f1"/><stop offset="0.9783" stop-color="#0000b9"/><stop offset="1.0000" stop-color="#000080"/></linearGradient><linearGradient id="g49"><stop offset="0.0000" stop-color="#000080"/><stop offset="0.0200" stop-color="#0000bd"/><stop offset="0.0400" stop-color="#0000f9"/><stop offset="0.0600" stop-color="#0033ff"/><stop offset="0.0800" stop-color="#006aff"/><stop offset="0.1000" stop-color="#009dff"/><stop offset="0.1200" stop-color="#00cdff"/><stop offset="0.1400" stop-color="#00f9ff"/><stop offset="0.1430" stop-color="#00ffff"/><stop offset="0.1600" stop-color="#23ffdc"/><stop offset="0.1800" stop-color="#4affb5"/><stop offset="0.2000" stop-color="#6fff90"/><stop offset="0.2200" stop-color="#93ff6c"/><stop offset="0.2400" stop-color="#b3ff4c"/><stop offset="0.2600" stop-color="#d2ff2d"/><stop offset="0.2800" stop-color="#eeff11"/><stop offset="0.2929" stop-color="#ffff00"/><stop offset="0.3000" stop-color="#fff700"/><stop offset="0.3200" stop-color="#ffe000"/><stop offset="0.3400" stop-color="#ffca00"/><stop offset="0.3600" stop-color="#ffb500"/><stop offset="0.3800" stop-color="#ffa400"/><stop offset="0.4000" stop-color="#ff9900"/><stop offset="0.4024" stop-color="#ff9800"/><stop offset="0.4200" stop-color="#ff9200"/><stop offset="0.4400" stop-color="#ff8d00"/><stop offset="0.4600" stop-color="#ff8900"/><stop offset="0.4800" stop-color="#ff8700"/><stop offset="0.4816" stop-color="#ff8700"/><stop offset="0.5000" stop-color="#ff8800"/><stop offset="0.5200" stop-color="#ff8b00"/><stop offset="0.5400" stop-color="#ff8f00"/><stop offset="0.5600" stop-color="#ff9400"/><stop offset="0.5726" stop-color="#ff9800"/><stop offset="0.5800" stop-color="#ff9a00"/><stop offset="0.6000" stop-color="#ffa500"/><stop offset="0.6200" stop-color="#ffb400"/><stop offset="0.6400" stop-color="#ffc500"/><stop offset="0.6600" stop-color="#ffd800"/><stop offset="0.6800" stop-color="#ffed00"/><stop offset="0.6981" stop-color="#ffff00"/><stop offset="0.7000" stop-color="#fdff02"/><stop offset="0.7200" stop-color="#e5ff1a"/><stop offset="0.7400" stop-color="#caff35"/><stop offset="0.7600" stop-color="#adff52"/><stop offset="0.7800" stop-color="#8eff71"/><stop offset="0.8000" stop-color="#6dff92"/><stop offset="0.8200" stop-color="#49ffb6"/><stop offset="0.8400" stop-color="#23ffdc"/><stop offset="0.8580" stop-color="#00ffff"/><stop offset="0.8600" stop-color="#00fbff"/><stop offset="0.8800" stop-color="#00d0ff"/><stop offset="0.9000" stop-color="#00a1ff"/><stop offset="0.9200" stop-color="#006dff"/><stop offset="0.9400" stop-color="#0036ff"/><stop offset="0.9600" stop-color="#0000fb"/><stop offset="0.9800" stop-color="#0000bf"/><stop offset="1.0000" stop-color="#000080"/></linearGradient><linearGradient id="g50"><stop offset="0.0000" stop-color="#000080"/><stop offset="0.0200" stop-color="#0000b2"/><stop offset="0.0400" stop-color="#0000e3"/><stop offset="0.0600" stop-color="#0014ff"/><stop offset="0.0800" stop-color="#0042ff"/><stop offset="0.1000" stop-color="#006fff"/><stop offset="0.1200" stop-color="#009bff"/><stop offset="0.1400" stop-color="#00c5ff"/><stop offset="0.1600" stop-color="#00eeff"/><stop offset="0.1683" stop-color="#00ffff"/><stop offset="0.1800" stop-color="#17ffe8"/><stop offset="0.2000" stop-color="#3fffc0"/><stop offset="0.2200" stop-color="#67ff98"/><stop offset="0.2400" stop-color="#8eff71"/><stop offset="0.2600" stop-color="#b2ff4d"/><stop offset="0.2800" stop-color="#d3ff2c"/><stop offset="0.3000" stop-color="#f0ff0f"/><stop offset="0.3125" stop-color="#ffff00"/><stop offset="0.3200" stop-color="#fff700"/><stop offset="0.3400" stop-color="#ffe300"/><stop offset="0.3600" stop-color="#ffd000"/><stop offset="0.3800" stop-color="#ffc000"/><stop offset="0.4000" stop-color="#ffb400"/><stop offset="0.4142" stop-color="#ffae00"/><stop offset="0.4200" stop-color="#ffac00"/><stop offset="0.4400" stop-color="#ffa700"/><stop offset="0.4600" stop-color="#ffa300"/><stop offset="0.4800" stop-color="#ffa100"/><stop offset="0.4879" stop-color="#ffa100"/><stop offset="0.5000" stop-color="#ffa100"/><stop offset="0.5200" stop-color="#ffa300"/><stop offset="0.5400" stop-color="#ffa600"/><stop offset="0.5600" stop-color="#ffab00"/><stop offset="0.5726" stop-color="#ffae00"/><stop offset="0.5800" stop-color="#ffb000"/><stop offset="0.6000" stop-color="#ffb900"/><stop offset="0.6200" stop-color="#ffc500"/><stop offset="0.6400" stop-color="#ffd300"/><stop offset="0.6600" stop-color="#ffe400"/><stop offset="0.6800" stop-color="#fff600"/><stop offset="0.6895" stop-color="#ffff00"/><stop offset="0.7000" stop-color="#f3ff0c"/><stop offset="0.7200" stop-color="#d8ff27"/><stop offset="0.7400" stop-color="#b9ff46"/><stop offset="0.7600" stop-color="#96ff69"/><stop offset="0.7800" stop-color="#70ff8f"/><stop offset="0.8000" stop-color="#48ffb7"/><stop offset="0.8200" stop-color="#1fffe0"/><stop offset="0.8357" stop-color="#00ffff"/><stop offset="0.8400" stop-color="#00f6ff"/><stop offset="0.8600" stop-color="#00cdff"/><stop offset="0.8800" stop-color="#00a3ff"/><stop offset="0.9000" stop-color="#0076ff"/><stop offset="0.9200" stop-color="#0048ff"/><stop offset="0.9400" stop-color="#0018ff"/><stop offset="0.9600" stop-color="#0000e6"/><stop offset="0.9800" stop-color="#0000b4"/><stop offset="1.0000" stop-color="#000080"/></linearGradient><linearGradient id="g51"><stop offset="0.0000" stop-color="#000080"/><stop offset="0.0189" stop-color="#0000b4"/><stop offset="0.0377" stop-color="#0000e7"/><stop offset="0.0566" stop-color="#0019ff"/><stop offset="0.0755" stop-color="#0048ff"/><stop offset="0.0943" stop-color="#0076ff"/><stop offset="0.1132" stop-color="#00a2ff"/><stop offset="0.1321" stop-color="#00cbff"/><stop offset="0.1509" stop-color="#00f3ff"/><stop offset="0.1571" stop-color="#00ffff"/><stop offset="0.1698" stop-color="#19ffe6"/><stop offset="0.1887" stop-color="#3effc1"/><stop offset="0.2075" stop-color="#62ff9d"/><stop offset="0.2264" stop-color="#84ff7b"/><stop offset="0.2453" stop-color="#a5ff5a"/><stop offset="0.2642" stop-color="#c3ff3c"/><stop offset="0.2830" stop-color="#deff21"/><stop offset="0.3019" stop-color="#f7ff08"/><stop offset="0.3086" stop-color="#ffff00"/><stop offset="0.3208" stop-color="#fff200"/><stop offset="0.3396" stop-color="#ffdf00"/><stop offset="0.3585" stop-color="#ffcd00"/><stop offset="0.3774" stop-color="#ffbe00"/><stop offset="0.3962" stop-color="#ffb200"/><stop offset="0.4068" stop-color="#ffae00"/><stop offset="0.4151" stop-color="#ffab00"/><stop offset="0.4340" stop-color="#ffa600"/><stop offset="0.4528" stop-color="#ffa300"/><stop offset="0.4717" stop-color="#ffa100"/><stop offset="0.4779" stop-color="#ffa100"/><stop offset="0.4906" stop-color="#ffa100"/><stop offset="0.5094" stop-color="#ffa300"/><stop offset="0.5283" stop-color="#ffa600"/><stop offset="0.5472" stop-color="#ffaa00"/><stop offset="0.5640" stop-color="#ffae00"/><stop offset="0.5660" stop-color="#ffae00"/><stop offset="0.5849" stop-color="#ffb600"/><stop offset="0.6038" stop-color="#ffc000"/><stop offset="0.6226" stop-color="#ffcd00"/><stop offset="0.6415" stop-color="#ffdc00"/><stop offset="0.6604" stop-color="#ffeb00"/><stop offset="0.6792" stop-color="#fffc00"/><stop offset="0.6830" stop-color="#ffff00"/><stop offset="0.6981" stop-color="#f0ff0f"/><stop offset="0.7170" stop-color="#dbff24"/><stop offset="0.7358" stop-color="#c5ff3a"/><stop offset="0.7547" stop-color="#acff53"/><stop offset="0.7736" stop-color="#92ff6d"/><stop offset="0.7925" stop-color="#76ff89"/><stop offset="0.8113" stop-color="#58ffa7"/><stop offset="0.8302" stop-color="#38ffc7"/><stop offset="0.8491" stop-color="#16ffe9"/><stop offset="0.8608" stop-color="#00ffff"/><stop offset="0.8679" stop-color="#00f1ff"/><stop offset="0.8868" stop-color="#00c8ff"/><stop offset="0.9057" stop-color="#009bff"/><stop offset="0.9245" stop-color="#0069ff"/><stop offset="0.9434" stop-color="#0033ff"/><stop offset="0.9623" stop-color="#0000f9"/><stop offset="0.9811" stop-color="#0000bd"/><stop offset="1.0000" stop-color="#000080"/></linearGradient><linearGradient id="g52"><stop offset="0.0000" stop-color="#000080"/><stop offset="0.0286" stop-color="#0000ce"/><stop offset="0.0571" stop-color="#0019ff"/><stop offset="0.0857" stop-color="#0060ff"/><stop offset="0.1143" stop-color="#00a3ff"/><stop offset="0.1429" stop-color="#00e1ff"/><stop offset="0.1572" stop-color="#00ffff"/><stop offset="0.1714" stop-color="#1dffe2"/><stop offset="0.2000" stop-color="#57ffa8"/><stop offset="0.2286" stop-color="#8eff71"/><stop offset="0.2571" stop-color="#bfff40"/><stop offset="0.2857" stop-color="#e9ff16"/><stop offset="0.3045" stop-color="#ffff00"/><stop offset="0.3143" stop-color="#fff600"/><stop offset="0.3429" stop-color="#ffde00"/><stop offset="0.3714" stop-color="#ffc900"/><stop offset="0.4000" stop-color="#ffbd00"/><stop offset="0.4056" stop-color="#ffbb00"/><stop offset="0.4286" stop-color="#ffb600"/><stop offset="0.4571" stop-color="#ffb100"/><stop offset="0.4788" stop-color="#ffb000"/><stop offset="0.4857" stop-color="#ffb000"/><stop offset="0.5143" stop-color="#ffb200"/><stop offset="0.5429" stop-color="#ffb700"/><stop offset="0.5632" stop-color="#ffbb00"/><stop offset="0.5714" stop-color="#ffbd00"/><stop offset="0.6000" stop-color="#ffc800"/><stop offset="0.6286" stop-color="#ffd900"/><stop offset="0.6571" stop-color="#ffed00"/><stop offset="0.6799" stop-color="#ffff00"/><stop offset="0.6857" stop-color="#faff05"/><stop offset="0.7143" stop-color="#d9ff26"/><stop offset="0.7429" stop-color="#b0ff4f"/><stop offset="0.7714" stop-color="#82ff7d"/><stop offset="0.8000" stop-color="#4effb1"/><stop offset="0.8286" stop-color="#18ffe7"/><stop offset="0.8414" stop-color="#00ffff"/><stop offset="0.8571" stop-color="#00e0ff"/><stop offset="0.8857" stop-color="#00a3ff"/><stop offset="0.9143" stop-color="#0061ff"/><stop offset="0.9429" stop-color="#001bff"/><stop offset="0.9714" stop-color="#0000ce"/><stop offset="1.0000" stop-color="#000080"/></linearGradient><linearGradient id="g53"><stop offset="0.0000" stop-color="#000080"/><stop offset="0.0200" stop-color="#0000b7"/><stop offset="0.0400" stop-color="#0000ec"/><stop offset="0.0600" stop-color="#0020ff"/><stop offset="0.0800" stop-color="#0051ff"/><stop offset="0.1000" stop-color="#0080ff"/><stop offset="0.1200" stop-color="#00abff"/><stop offset="0.1400" stop-color="#00d4ff"/><stop offset="0.1600" stop-color="#00faff"/><stop offset="0.1630" stop-color="#00ffff"/><stop offset="0.1800" stop-color="#1effe1"/><stop offset="0.2000" stop-color="#40ffbf"/><stop offset="0.2200" stop-color="#60ff9f"/><stop offset="0.2400" stop-color="#7fff80"/><stop offset="0.2600" stop-color="#9dff62"/><stop offset="0.2800" stop-color="#b8ff47"/><stop offset="0.3000" stop-color="#d1ff2e"/><stop offset="0.3200" stop-color="#e7ff18"/><stop offset="0.3400" stop-color="#fbff04"/><stop offset="0.3441" stop-color="#ffff00"/><stop offset="0.3600" stop-color="#fff200"/><stop offset="0.3800" stop-color="#ffe300"/><stop offset="0.4000" stop-color="#ffd600"/><stop offset="0.4200" stop-color="#ffcd00"/><stop offset="0.4269" stop-color="#ffcb00"/><stop offset="0.4400" stop-color="#ffc800"/><stop offset="0.4600" stop-color="#ffc500"/><stop offset="0.4800" stop-color="#ffc300"/><stop offset="0.4869" stop-color="#ffc300"/><stop offset="0.5000" stop-color="#ffc400"/><stop offset="0.5200" stop-color="#ffc600"/><stop offset="0.5400" stop-color="#ffc800"/><stop offset="0.5549" stop-color="#ffcb00"/><stop offset="0.5600" stop-color="#ffcc00"/><stop offset="0.5800" stop-color="#ffd300"/><stop offset="0.6000" stop-color="#ffde00"/><stop offset="0.6200" stop-color="#ffea00"/><stop offset="0.6400" stop-color="#fff900"/><stop offset="0.6489" stop-color="#ffff00"/><stop offset="0.6600" stop-color="#f6ff09"/><stop offset="0.6800" stop-color="#e4ff1b"/><stop offset="0.7000" stop-color="#d0ff2f"/><stop offset="0.7200" stop-color="#baff45"/><stop offset="0.7400" stop-color="#a2ff5d"/><stop offset="0.7600" stop-color="#88ff77"/><stop offset="0.7800" stop-color="#6dff92"/><stop offset="0.8000" stop-color="#4fffb0"/><stop offset="0.8200" stop-color="#30ffcf"/><stop offset="0.8400" stop-color="#0ffff0"/><stop offset="0.8491" stop-color="#00ffff"/><stop offset="0.8600" stop-color="#00ebff"/><stop offset="0.8800" stop-color="#00c3ff"/><stop offset="0.9000" stop-color="#0096ff"/><stop offset="0.9200" stop-color="#0065ff"/><stop offset="0.9400" stop-color="#0030ff"/><stop offset="0.9600" stop-color="#0000f7"/><stop offset="0.9800" stop-color="#0000bc"/><stop offset="1.0000" stop-color="#000080"/></linearGradient><linearGradient id="g54"><stop offset="0.0000" stop-color="#000080"/><stop offset="0.0244" stop-color="#0000c3"/><stop offset="0.0488" stop-color="#0006ff"/><stop offset="0.0732" stop-color="#0046ff"/><stop offset="0.0976" stop-color="#0083ff"/><stop offset="0.1220" stop-color="#00beff"/><stop offset="0.1463" stop-color="#00f6ff"/><stop offset="0.1503" stop-color="#00ffff"/><stop offset="0.1707" stop-color="#2effd1"/><stop offset="0.1951" stop-color="#64ff9b"/><stop offset="0.2195" stop-color="#99ff66"/><stop offset="0.2439" stop-color="#c9ff36"/><stop offset="0.2683" stop-color="#f3ff0c"/><stop offset="0.2764" stop-color="#ffff00"/><stop offset="0.2927" stop-color="#ffe900"/><stop offset="0.3171" stop-color="#ffc900"/><stop offset="0.3415" stop-color="#ffaa00"/><stop offset="0.3659" stop-color="#ff8e00"/><stop offset="0.3902" stop-color="#ff7b00"/><stop offset="0.4029" stop-color="#ff7400"/><stop offset="0.4146" stop-color="#ff7000"/><stop offset="0.4390" stop-color="#ff6800"/><stop offset="0.4634" stop-color="#ff6200"/><stop offset="0.4878" stop-color="#ff5f00"/><stop offset="0.4945" stop-color="#ff5e00"/><stop offset="0.5122" stop-color="#ff6000"/><stop offset="0.5366" stop-color="#ff6500"/><stop offset="0.5610" stop-color="#ff6c00"/><stop offset="0.5816" stop-color="#ff7400"/><stop offset="0.5854" stop-color="#ff7600"/><stop offset="0.6098" stop-color="#ff8800"/><stop offset="0.6341" stop-color="#ffa400"/><stop offset="0.6585" stop-color="#ffc500"/><stop offset="0.6829" stop-color="#ffe600"/><stop offset="0.7018" stop-color="#ffff00"/><stop offset="0.7073" stop-color="#f7ff08"/><stop offset="0.7317" stop-color="#d3ff2c"/><stop offset="0.7561" stop-color="#adff52"/><stop offset="0.7805" stop-color="#84ff7b"/><stop offset="0.8049" stop-color="#59ffa6"/><stop offset="0.8293" stop-color="#2bffd4"/><stop offset="0.8509" stop-color="#00ffff"/><stop offset="0.8537" stop-color="#00f9ff"/><stop offset="0.8780" stop-color="#00c4ff"/><stop offset="0.9024" stop-color="#008bff"/><stop offset="0.9268" stop-color="#004eff"/><stop offset="0.9512" stop-color="#000dff"/><stop offset="0.9756" stop-color="#0000c7"/><stop offset="1.0000" stop-color="#000080"/></linearGradient><linearGradient id="g55"><stop offset="0.0000" stop-color="#000080"/><stop offset="0.0213" stop-color="#0000bb"/><stop offset="0.0426" stop-color="#0000f5"/><stop offset="0.0638" stop-color="#002dff"/><stop offset="0.0851" stop-color="#0062ff"/><stop offset="0.1064" stop-color="#0092ff"/><stop offset="0.1277" stop-color="#00bfff"/><stop offset="0.1489" stop-color="#00e6ff"/><stop offset="0.1638" stop-color="#00ffff"/><stop offset="0.1702" stop-color="#0afff5"/><stop offset="0.1915" stop-color="#2affd5"/><stop offset="0.2128" stop-color="#4affb5"/><stop offset="0.2340" stop-color="#68ff97"/><stop offset="0.2553" stop-color="#84ff7b"/><stop offset="0.2766" stop-color="#9fff60"/><stop offset="0.2979" stop-color="#b7ff48"/><stop offset="0.3191" stop-color="#cdff32"/><stop offset="0.3404" stop-color="#e0ff1f"/><stop offset="0.3617" stop-color="#f0ff0f"/><stop offset="0.3830" stop-color="#fdff02"/><stop offset="0.3876" stop-color="#ffff00"/><stop offset="0.4043" stop-color="#fff800"/><stop offset="0.4255" stop-color="#fff100"/><stop offset="0.4468" stop-color="#ffec00"/><stop offset="0.4522" stop-color="#ffeb00"/><stop offset="0.4681" stop-color="#ffea00"/><stop offset="0.4894" stop-color="#ffe800"/><stop offset="0.4989" stop-color="#ffe800"/><stop offset="0.5106" stop-color="#ffe800"/><stop offset="0.5319" stop-color="#ffea00"/><stop offset="0.5412" stop-color="#ffeb00"/><stop offset="0.5532" stop-color="#ffed00"/><stop offset="0.5745" stop-color="#fff400"/><stop offset="0.5957" stop-color="#fffd00"/><stop offset="0.5996" stop-color="#ffff00"/><stop offset="0.6170" stop-color="#f5ff0a"/><stop offset="0.6383" stop-color="#e8ff17"/><stop offset="0.6596" stop-color="#d8ff27"/><stop offset="0.6809" stop-color="#c6ff39"/><stop offset="0.7021" stop-color="#b2ff4d"/><stop offset="0.7234" stop-color="#9cff63"/><stop offset="0.7447" stop-color="#84ff7b"/><stop offset="0.7660" stop-color="#6bff94"/><stop offset="0.7872" stop-color="#50ffaf"/><stop offset="0.8085" stop-color="#33ffcc"/><stop offset="0.8298" stop-color="#15ffea"/><stop offset="0.8437" stop-color="#00ffff"/><stop offset="0.8511" stop-color="#00f3ff"/><stop offset="0.8723" stop-color="#00cdff"/><stop offset="0.8936" stop-color="#00a0ff"/><stop offset="0.9149" stop-color="#006eff"/><stop offset="0.9362" stop-color="#0037ff"/><stop offset="0.9574" stop-color="#0000fc"/><stop offset="0.9787" stop-color="#0000bf"/><stop offset="1.0000" stop-color="#000080"/></linearGradient><linearGradient id="g56"><stop offset="0.0000" stop-color="#000080"/><stop offset="0.0213" stop-color="#0000bd"/><stop offset="0.0426" stop-color="#0000f8"/><stop offset="0.0638" stop-color="#0033ff"/><stop offset="0.0851" stop-color="#006bff"/><stop offset="0.1064" stop-color="#00a1ff"/><stop offset="0.1277" stop-color="#00d6ff"/><stop offset="0.1451" stop-color="#00ffff"/><stop offset="0.1489" stop-color="#09fff6"/><stop offset="0.1702" stop-color="#3affc5"/><stop offset="0.1915" stop-color="#6bff94"/><stop offset="0.2128" stop-color="#99ff66"/><stop offset="0.2340" stop-color="#c5ff3a"/><stop offset="0.2553" stop-color="#edff12"/><stop offset="0.2659" stop-color="#ffff00"/><stop offset="0.2766" stop-color="#ffef00"/><stop offset="0.2979" stop-color="#ffce00"/><stop offset="0.3191" stop-color="#ffac00"/><stop offset="0.3404" stop-color="#ff8b00"/><stop offset="0.3617" stop-color="#ff6e00"/><stop offset="0.3830" stop-color="#ff5700"/><stop offset="0.4043" stop-color="#ff4800"/><stop offset="0.4054" stop-color="#ff4800"/><stop offset="0.4255" stop-color="#ff3f00"/><stop offset="0.4468" stop-color="#ff3700"/><stop offset="0.4681" stop-color="#ff3000"/><stop offset="0.4894" stop-color="#ff2c00"/><stop offset="0.5064" stop-color="#ff2b00"/><stop offset="0.5106" stop-color="#ff2b00"/><stop offset="0.5319" stop-color="#ff2f00"/><stop offset="0.5532" stop-color="#ff3600"/><stop offset="0.5745" stop-color="#ff3f00"/><stop offset="0.5909" stop-color="#ff4800"/><stop offset="0.5957" stop-color="#ff4b00"/><stop offset="0.6170" stop-color="#ff6100"/><stop offset="0.6383" stop-color="#ff8200"/><stop offset="0.6596" stop-color="#ffaa00"/><stop offset="0.6809" stop-color="#ffd200"/><stop offset="0.7021" stop-color="#fff600"/><stop offset="0.7076" stop-color="#ffff00"/><stop offset="0.7234" stop-color="#e4ff1b"/><stop offset="0.7447" stop-color="#c0ff3f"/><stop offset="0.7660" stop-color="#9bff64"/><stop offset="0.7872" stop-color="#75ff8a"/><stop offset="0.8085" stop-color="#4effb1"/><stop offset="0.8298" stop-color="#24ffdb"/><stop offset="0.8475" stop-color="#00ffff"/><stop offset="0.8511" stop-color="#00f7ff"/><stop offset="0.8723" stop-color="#00c9ff"/><stop offset="0.8936" stop-color="#0098ff"/><stop offset="0.9149" stop-color="#0064ff"/><stop offset="0.9362" stop-color="#002eff"/><stop offset="0.9574" stop-color="#0000f6"/><stop offset="0.9787" stop-color="#0000bb"/><stop offset="1.0000" stop-color="#000080"/></linearGradient><linearGradient id="g57"><stop offset="0.0000" stop-color="#000080"/><stop offset="0.0175" stop-color="#0000ac"/><stop offset="0.0351" stop-color="#0000d8"/><stop offset="0.0526" stop-color="#0003ff"/><stop offset="0.0702" stop-color="#002dff"/><stop offset="0.0877" stop-color="#0054ff"/><stop offset="0.1053" stop-color="#007bff"/><stop offset="0.1228" stop-color="#00a0ff"/><stop offset="0.1404" stop-color="#00c3ff"/><stop offset="0.1579" stop-color="#00e5ff"/><stop offset="0.1718" stop-color="#00ffff"/><stop offset="0.1754" stop-color="#07fff8"/><stop offset="0.1930" stop-color="#26ffd9"/><stop offset="0.2105" stop-color="#44ffbb"/><stop offset="0.2281" stop-color="#61ff9e"/><stop offset="0.2456" stop-color="#7dff82"/><stop offset="0.2632" stop-color="#98ff67"/><stop offset="0.2807" stop-color="#b2ff4d"/><stop offset="0.2982" stop-color="#caff35"/><stop offset="0.3158" stop-color="#e2ff1d"/><stop offset="0.3333" stop-color="#f8ff07"/><stop offset="0.3392" stop-color="#ffff00"/><stop offset="0.3509" stop-color="#fff200"/><stop offset="0.3684" stop-color="#ffde00"/><stop offset="0.3860" stop-color="#ffcb00"/><stop offset="0.4035" stop-color="#ffbc00"/><stop offset="0.4211" stop-color="#ffb000"/><stop offset="0.4261" stop-color="#ffae00"/><stop offset="0.4386" stop-color="#ffaa00"/><stop offset="0.4561" stop-color="#ffa500"/><stop offset="0.4737" stop-color="#ffa200"/><stop offset="0.4890" stop-color="#ffa100"/><stop offset="0.4912" stop-color="#ffa100"/><stop offset="0.5088" stop-color="#ffa200"/><stop offset="0.5263" stop-color="#ffa400"/><stop offset="0.5439" stop-color="#ffa800"/><stop offset="0.5614" stop-color="#ffad00"/><stop offset="0.5660" stop-color="#ffae00"/><stop offset="0.5789" stop-color="#ffb300"/><stop offset="0.5965" stop-color="#ffbd00"/><stop offset="0.6140" stop-color="#ffca00"/><stop offset="0.6316" stop-color="#ffd900"/><stop offset="0.6491" stop-color="#ffe900"/><stop offset="0.6667" stop-color="#fffa00"/><stop offset="0.6722" stop-color="#ffff00"/><stop offset="0.6842" stop-color="#f3ff0c"/><stop offset="0.7018" stop-color="#e0ff1f"/><stop offset="0.7193" stop-color="#ccff33"/><stop offset="0.7368" stop-color="#b6ff49"/><stop offset="0.7544" stop-color="#a0ff5f"/><stop offset="0.7719" stop-color="#88ff77"/><stop offset="0.7895" stop-color="#6fff90"/><stop offset="0.8070" stop-color="#54ffab"/><stop offset="0.8246" stop-color="#38ffc7"/><stop offset="0.8421" stop-color="#1affe5"/><stop offset="0.8564" stop-color="#00ffff"/><stop offset="0.8596" stop-color="#00f9ff"/><stop offset="0.8772" stop-color="#00d5ff"/><stop offset="0.8947" stop-color="#00aeff"/><stop offset="0.9123" stop-color="#0083ff"/><stop offset="0.9298" stop-color="#0054ff"/><stop offset="0.9474" stop-color="#0023ff"/><stop offset="0.9649" stop-color="#0000ed"/><stop offset="0.9825" stop-color="#0000b7"/><stop offset="1.0000" stop-color="#000080"/></linearGradient><linearGradient id="g58"><stop offset="0.0000" stop-color="#000080"/><stop offset="0.0250" stop-color="#0000c8"/><stop offset="0.0500" stop-color="#000fff"/><stop offset="0.0750" stop-color="#0052ff"/><stop offset="0.1000" stop-color="#0091ff"/><stop offset="0.1250" stop-color="#00cdff"/><stop offset="0.1475" stop-color="#00ffff"/><stop offset="0.1500" stop-color="#06fff9"/><stop offset="0.1750" stop-color="#3bffc4"/><stop offset="0.2000" stop-color="#6fff90"/><stop offset="0.2250" stop-color="#a0ff5f"/><stop offset="0.2500" stop-color="#cdff32"/><stop offset="0.2750" stop-color="#f3ff0c"/><stop offset="0.2838" stop-color="#ffff00"/><stop offset="0.3000" stop-color="#ffec00"/><stop offset="0.3250" stop-color="#ffcf00"/><stop offset="0.3500" stop-color="#ffb400"/><stop offset="0.3750" stop-color="#ff9b00"/><stop offset="0.4000" stop-color="#ff8900"/><stop offset="0.4167" stop-color="#ff8200"/><stop offset="0.4250" stop-color="#ff7f00"/><stop offset="0.4500" stop-color="#ff7700"/><stop offset="0.4750" stop-color="#ff7100"/><stop offset="0.5000" stop-color="#ff6e00"/><stop offset="0.5130" stop-color="#ff6e00"/><stop offset="0.5250" stop-color="#ff6e00"/><stop offset="0.5500" stop-color="#ff7200"/><stop offset="0.5750" stop-color="#ff7800"/><stop offset="0.6000" stop-color="#ff8000"/><stop offset="0.6041" stop-color="#ff8200"/><stop offset="0.6250" stop-color="#ff8d00"/><stop offset="0.6500" stop-color="#ffa200"/><stop offset="0.6750" stop-color="#ffbe00"/><stop offset="0.7000" stop-color="#ffdb00"/><stop offset="0.7250" stop-color="#fff900"/><stop offset="0.7299" stop-color="#ffff00"/><stop offset="0.7500" stop-color="#e4ff1b"/><stop offset="0.7750" stop-color="#c0ff3f"/><stop offset="0.8000" stop-color="#98ff67"/><stop offset="0.8250" stop-color="#6dff92"/><stop offset="0.8500" stop-color="#3dffc2"/><stop offset="0.8750" stop-color="#08fff7"/><stop offset="0.8786" stop-color="#00ffff"/><stop offset="0.9000" stop-color="#00cbff"/><stop offset="0.9250" stop-color="#0084ff"/><stop offset="0.9500" stop-color="#0034ff"/><stop offset="0.9750" stop-color="#0000dc"/><stop offset="1.0000" stop-color="#000080"/></linearGradient><linearGradient id="g59"><stop offset="0.0000" stop-color="#000080"/><stop offset="0.0185" stop-color="#0000c3"/><stop offset="0.0370" stop-color="#0005ff"/><stop offset="0.0556" stop-color="#0043ff"/><stop offset="0.0741" stop-color="#007dff"/><stop offset="0.0926" stop-color="#00b1ff"/><stop offset="0.1111" stop-color="#00e0ff"/><stop offset="0.1253" stop-color="#00ffff"/><stop offset="0.1296" stop-color="#09fff6"/><stop offset="0.1481" stop-color="#2dffd2"/><stop offset="0.1667" stop-color="#4fffb0"/><stop offset="0.1852" stop-color="#6fff90"/><stop offset="0.2037" stop-color="#8cff73"/><stop offset="0.2222" stop-color="#a8ff57"/><stop offset="0.2407" stop-color="#c1ff3e"/><stop offset="0.2593" stop-color="#d8ff27"/><stop offset="0.2778" stop-color="#edff12"/><stop offset="0.2959" stop-color="#ffff00"/><stop offset="0.2963" stop-color="#ffff00"/><stop offset="0.3148" stop-color="#ffef00"/><stop offset="0.3333" stop-color="#ffdf00"/><stop offset="0.3519" stop-color="#ffd100"/><stop offset="0.3704" stop-color="#ffc400"/><stop offset="0.3889" stop-color="#ffba00"/><stop offset="0.4074" stop-color="#ffb100"/><stop offset="0.4188" stop-color="#ffae00"/><stop offset="0.4259" stop-color="#ffac00"/><stop offset="0.4444" stop-color="#ffa800"/><stop offset="0.4630" stop-color="#ffa500"/><stop offset="0.4815" stop-color="#ffa200"/><stop offset="0.5000" stop-color="#ffa100"/><stop offset="0.5078" stop-color="#ffa100"/><stop offset="0.5185" stop-color="#ffa100"/><stop offset="0.5370" stop-color="#ffa300"/><stop offset="0.5556" stop-color="#ffa600"/><stop offset="0.5741" stop-color="#ffaa00"/><stop offset="0.5914" stop-color="#ffae00"/><stop offset="0.5926" stop-color="#ffae00"/><stop offset="0.6111" stop-color="#ffb500"/><stop offset="0.6296" stop-color="#ffc000"/><stop offset="0.6481" stop-color="#ffcd00"/><stop offset="0.6667" stop-color="#ffdb00"/><stop offset="0.6852" stop-color="#ffeb00"/><stop offset="0.7037" stop-color="#fffc00"/><stop offset="0.7069" stop-color="#ffff00"/><stop offset="0.7222" stop-color="#efff10"/><stop offset="0.7407" stop-color="#daff25"/><stop offset="0.7593" stop-color="#c3ff3c"/><stop offset="0.7778" stop-color="#aaff55"/><stop offset="0.7963" stop-color="#8fff70"/><stop offset="0.8148" stop-color="#72ff8d"/><stop offset="0.8333" stop-color="#52ffad"/><stop offset="0.8519" stop-color="#31ffce"/><stop offset="0.8704" stop-color="#0cfff3"/><stop offset="0.8765" stop-color="#00ffff"/><stop offset="0.8889" stop-color="#00e4ff"/><stop offset="0.9074" stop-color="#00b5ff"/><stop offset="0.9259" stop-color="#0080ff"/><stop offset="0.9444" stop-color="#0046ff"/><stop offset="0.9630" stop-color="#0007ff"/><stop offset="0.9815" stop-color="#0000c4"/><stop offset="1.0000" stop-color="#000080"/></linearGradient><linearGradient id="g60"><stop offset="0.0000" stop-color="#000080"/><stop offset="0.0233" stop-color="#0000d4"/><stop offset="0.0465" stop-color="#0025ff"/><stop offset="0.0698" stop-color="#0070ff"/><stop offset="0.0930" stop-color="#00b6ff"/><stop offset="0.1163" stop-color="#00f5ff"/><stop offset="0.1204" stop-color="#00ffff"/><stop offset="0.1395" stop-color="#2fffd0"/><stop offset="0.1628" stop-color="#66ff99"/><stop offset="0.1860" stop-color="#99ff66"/><stop offset="0.2093" stop-color="#c7ff38"/><stop offset="0.2326" stop-color="#eeff11"/><stop offset="0.2442" stop-color="#ffff00"/><stop offset="0.2558" stop-color="#fff100"/><stop offset="0.2791" stop-color="#ffd600"/><stop offset="0.3023" stop-color="#ffbc00"/><stop offset="0.3256" stop-color="#ffa400"/><stop offset="0.3488" stop-color="#ff9100"/><stop offset="0.3721" stop-color="#ff8400"/><stop offset="0.3778" stop-color="#ff8200"/><stop offset="0.3953" stop-color="#ff7c00"/><stop offset="0.4186" stop-color="#ff7500"/><stop offset="0.4419" stop-color="#ff7100"/><stop offset="0.4651" stop-color="#ff6e00"/><stop offset="0.4745" stop-color="#ff6e00"/><stop offset="0.4884" stop-color="#ff6e00"/><stop offset="0.5116" stop-color="#ff7100"/><stop offset="0.5349" stop-color="#ff7600"/><stop offset="0.5581" stop-color="#ff7d00"/><stop offset="0.5718" stop-color="#ff8200"/><stop offset="0.5814" stop-color="#ff8500"/><stop offset="0.6047" stop-color="#ff9400"/><stop offset="0.6279" stop-color="#ffaa00"/><stop offset="0.6512" stop-color="#ffc200"/><stop offset="0.6744" stop-color="#ffdc00"/><stop offset="0.6977" stop-color="#fff600"/><stop offset="0.7060" stop-color="#ffff00"/><stop offset="0.7209" stop-color="#edff12"/><stop offset="0.7442" stop-color="#ceff31"/><stop offset="0.7674" stop-color="#adff52"/><stop offset="0.7907" stop-color="#8aff75"/><stop offset="0.8140" stop-color="#64ff9b"/><stop offset="0.8372" stop-color="#3affc5"/><stop offset="0.8605" stop-color="#0dfff2"/><stop offset="0.8669" stop-color="#00ffff"/><stop offset="0.8837" stop-color="#00daff"/><stop offset="0.9070" stop-color="#00a1ff"/><stop offset="0.9302" stop-color="#0060ff"/><stop offset="0.9535" stop-color="#001aff"/><stop offset="0.9767" stop-color="#0000ce"/><stop offset="1.0000" stop-color="#000080"/></linearGradient><linearGradient id="g61"><stop offset="0.0000" stop-color="#000080"/><stop offset="0.0167" stop-color="#0000b4"/><stop offset="0.0333" stop-color="#0000e8"/><stop offset="0.0500" stop-color="#001aff"/><stop offset="0.0667" stop-color="#0049ff"/><stop offset="0.0833" stop-color="#0076ff"/><stop offset="0.1000" stop-color="#00a1ff"/><stop offset="0.1167" stop-color="#00c8ff"/><stop offset="0.1333" stop-color="#00ecff"/><stop offset="0.1425" stop-color="#00ffff"/><stop offset="0.1500" stop-color="#0ffff0"/><stop offset="0.1667" stop-color="#2dffd2"/><stop offset="0.1833" stop-color="#4affb5"/><stop offset="0.2000" stop-color="#66ff99"/><stop offset="0.2167" stop-color="#7fff80"/><stop offset="0.2333" stop-color="#98ff67"/><stop offset="0.2500" stop-color="#b0ff4f"/><stop offset="0.2667" stop-color="#c7ff38"/><stop offset="0.2833" stop-color="#ddff22"/><stop offset="0.3000" stop-color="#f3ff0c"/><stop offset="0.3093" stop-color="#ffff00"/><stop offset="0.3167" stop-color="#fff600"/><stop offset="0.3333" stop-color="#ffe100"/><stop offset="0.3500" stop-color="#ffcc00"/><stop offset="0.3667" stop-color="#ffb700"/><stop offset="0.3833" stop-color="#ffa200"/><stop offset="0.4000" stop-color="#ff9100"/><stop offset="0.4167" stop-color="#ff8300"/><stop offset="0.4289" stop-color="#ff7d00"/><stop offset="0.4333" stop-color="#ff7b00"/><stop offset="0.4500" stop-color="#ff7500"/><stop offset="0.4667" stop-color="#ff7000"/><stop offset="0.4833" stop-color="#ff6c00"/><stop offset="0.5000" stop-color="#ff6900"/><stop offset="0.5155" stop-color="#ff6900"/><stop offset="0.5167" stop-color="#ff6900"/><stop offset="0.5333" stop-color="#ff6a00"/><stop offset="0.5500" stop-color="#ff6d00"/><stop offset="0.5667" stop-color="#ff7100"/><stop offset="0.5833" stop-color="#ff7600"/><stop offset="0.6000" stop-color="#ff7c00"/><stop offset="0.6021" stop-color="#ff7d00"/><stop offset="0.6167" stop-color="#ff8500"/><stop offset="0.6333" stop-color="#ff9300"/><stop offset="0.6500" stop-color="#ffa500"/><stop offset="0.6667" stop-color="#ffba00"/><stop offset="0.6833" stop-color="#ffcf00"/><stop offset="0.7000" stop-color="#ffe400"/><stop offset="0.7167" stop-color="#fff900"/><stop offset="0.7217" stop-color="#ffff00"/><stop offset="0.7333" stop-color="#f0ff0f"/><stop offset="0.7500" stop-color="#dbff24"/><stop offset="0.7667" stop-color="#c6ff39"/><stop offset="0.7833" stop-color="#b0ff4f"/><stop offset="0.8000" stop-color="#99ff66"/><stop offset="0.8167" stop-color="#82ff7d"/><stop offset="0.8333" stop-color="#68ff97"/><stop offset="0.8500" stop-color="#4cffb3"/><stop offset="0.8667" stop-color="#2effd1"/><stop offset="0.8833" stop-color="#0dfff2"/><stop offset="0.8894" stop-color="#00ffff"/><stop offset="0.9000" stop-color="#00e6ff"/><stop offset="0.9167" stop-color="#00b8ff"/><stop offset="0.9333" stop-color="#0084ff"/><stop offset="0.9500" stop-color="#0049ff"/><stop offset="0.9667" stop-color="#0009ff"/><stop offset="0.9833" stop-color="#0000c5"/><stop offset="1.0000" stop-color="#000080"/></linearGradient><linearGradient id="g62"><stop offset="0.0000" stop-color="#000080"/><stop offset="0.0244" stop-color="#0000c7"/><stop offset="0.0488" stop-color="#000dff"/><stop offset="0.0732" stop-color="#004eff"/><stop offset="0.0976" stop-color="#008dff"/><stop offset="0.1220" stop-color="#00c8ff"/><stop offset="0.1457" stop-color="#00ffff"/><stop offset="0.1463" stop-color="#02fffd"/><stop offset="0.1707" stop-color="#37ffc8"/><stop offset="0.1951" stop-color="#6bff94"/><stop offset="0.2195" stop-color="#9cff63"/><stop offset="0.2439" stop-color="#caff35"/><stop offset="0.2683" stop-color="#f2ff0d"/><stop offset="0.2766" stop-color="#ffff00"/><stop offset="0.2927" stop-color="#ffe900"/><stop offset="0.3171" stop-color="#ffc900"/><stop offset="0.3415" stop-color="#ffa800"/><stop offset="0.3659" stop-color="#ff8b00"/><stop offset="0.3902" stop-color="#ff7500"/><stop offset="0.4080" stop-color="#ff6b00"/><stop offset="0.4146" stop-color="#ff6900"/><stop offset="0.4390" stop-color="#ff6000"/><stop offset="0.4634" stop-color="#ff5900"/><stop offset="0.4878" stop-color="#ff5500"/><stop offset="0.5031" stop-color="#ff5400"/><stop offset="0.5122" stop-color="#ff5400"/><stop offset="0.5366" stop-color="#ff5800"/><stop offset="0.5610" stop-color="#ff5e00"/><stop offset="0.5854" stop-color="#ff6700"/><stop offset="0.5976" stop-color="#ff6b00"/><stop offset="0.6098" stop-color="#ff7200"/><stop offset="0.6341" stop-color="#ff8600"/><stop offset="0.6585" stop-color="#ffa300"/><stop offset="0.6829" stop-color="#ffc400"/><stop offset="0.7073" stop-color="#ffe400"/><stop offset="0.7283" stop-color="#ffff00"/><stop offset="0.7317" stop-color="#faff05"/><stop offset="0.7561" stop-color="#d8ff27"/><stop offset="0.7805" stop-color="#b4ff4b"/><stop offset="0.8049" stop-color="#8dff72"/><stop offset="0.8293" stop-color="#63ff9c"/><stop offset="0.8537" stop-color="#35ffca"/><stop offset="0.8780" stop-color="#02fffd"/><stop offset="0.8788" stop-color="#00ffff"/><stop offset="0.9024" stop-color="#00c5ff"/><stop offset="0.9268" stop-color="#007fff"/><stop offset="0.9512" stop-color="#0031ff"/><stop offset="0.9756" stop-color="#0000da"/><stop offset="1.0000" stop-color="#000080"/></linearGradient><linearGradient id="g63"><stop offset="0.0000" stop-color="#000080"/><stop offset="0.0172" stop-color="#0000b8"/><stop offset="0.0345" stop-color="#0000ef"/><stop offset="0.0517" stop-color="#0024ff"/><stop offset="0.0690" stop-color="#0056ff"/><stop offset="0.0862" stop-color="#0086ff"/><stop offset="0.1034" stop-color="#00b2ff"/><stop offset="0.1207" stop-color="#00dbff"/><stop offset="0.1376" stop-color="#00ffff"/><stop offset="0.1379" stop-color="#01fffe"/><stop offset="0.1552" stop-color="#23ffdc"/><stop offset="0.1724" stop-color="#45ffba"/><stop offset="0.1897" stop-color="#65ff9a"/><stop offset="0.2069" stop-color="#83ff7c"/><stop offset="0.2241" stop-color="#a0ff5f"/><stop offset="0.2414" stop-color="#bbff44"/><stop offset="0.2586" stop-color="#d3ff2c"/><stop offset="0.2759" stop-color="#e8ff17"/><stop offset="0.2931" stop-color="#fbff04"/><stop offset="0.2966" stop-color="#ffff00"/><stop offset="0.3103" stop-color="#fff300"/><stop offset="0.3276" stop-color="#ffe400"/><stop offset="0.3448" stop-color="#ffd600"/><stop offset="0.3621" stop-color="#ffca00"/><stop offset="0.3793" stop-color="#ffbf00"/><stop offset="0.3966" stop-color="#ffb600"/><stop offset="0.4138" stop-color="#ffaf00"/><stop offset="0.4188" stop-color="#ffae00"/><stop offset="0.4310" stop-color="#ffab00"/><stop offset="0.4483" stop-color="#ffa700"/><stop offset="0.4655" stop-color="#ffa400"/><stop offset="0.4828" stop-color="#ffa200"/><stop offset="0.5000" stop-color="#ffa100"/><stop offset="0.5073" stop-color="#ffa100"/><stop offset="0.5172" stop-color="#ffa100"/><stop offset="0.5345" stop-color="#ffa200"/><stop offset="0.5517" stop-color="#ffa400"/><stop offset="0.5690" stop-color="#ffa700"/><stop offset="0.5862" stop-color="#ffaa00"/><stop offset="0.6019" stop-color="#ffae00"/><stop offset="0.6034" stop-color="#ffae00"/><stop offset="0.6207" stop-color="#ffb400"/><stop offset="0.6379" stop-color="#ffbc00"/><stop offset="0.6552" stop-color="#ffc500"/><stop offset="0.6724" stop-color="#ffd000"/><stop offset="0.6897" stop-color="#ffdc00"/><stop offset="0.7069" stop-color="#ffea00"/><stop offset="0.7241" stop-color="#fff800"/><stop offset="0.7326" stop-color="#ffff00"/><stop offset="0.7414" stop-color="#f6ff09"/><stop offset="0.7586" stop-color="#e4ff1b"/><stop offset="0.7759" stop-color="#ceff31"/><stop offset="0.7931" stop-color="#b7ff48"/><stop offset="0.8103" stop-color="#9dff62"/><stop offset="0.8276" stop-color="#80ff7f"/><stop offset="0.8448" stop-color="#61ff9e"/><stop offset="0.8621" stop-color="#3fffc0"/><stop offset="0.8793" stop-color="#1bffe4"/><stop offset="0.8917" stop-color="#00ffff"/><stop offset="0.8966" stop-color="#00f4ff"/><stop offset="0.9138" stop-color="#00c5ff"/><stop offset="0.9310" stop-color="#008fff"/><stop offset="0.9483" stop-color="#0053ff"/><stop offset="0.9655" stop-color="#0010ff"/><stop offset="0.9828" stop-color="#0000c9"/><stop offset="1.0000" stop-color="#000080"/></linearGradient><linearGradient id="g64"><stop offset="0.0000" stop-color="#000080"/><stop offset="0.0082" stop-color="#0000bf"/><stop offset="0.0164" stop-color="#0000fd"/><stop offset="0.0246" stop-color="#0038ff"/><stop offset="0.0328" stop-color="#006fff"/><stop offset="0.0410" stop-color="#00a2ff"/><stop offset="0.0492" stop-color="#00cfff"/><stop offset="0.0574" stop-color="#00f7ff"/><stop offset="0.0592" stop-color="#00ffff"/><stop offset="0.0656" stop-color="#1bffe4"/><stop offset="0.0738" stop-color="#3cffc3"/><stop offset="0.0820" stop-color="#5bffa4"/><stop offset="0.0902" stop-color="#78ff87"/><stop offset="0.0984" stop-color="#93ff6c"/><stop offset="0.1066" stop-color="#acff53"/><stop offset="0.1148" stop-color="#c4ff3b"/><stop offset="0.1230" stop-color="#d9ff26"/><stop offset="0.1311" stop-color="#ebff14"/><stop offset="0.1393" stop-color="#fcff03"/><stop offset="0.1409" stop-color="#ffff00"/><stop offset="0.1475" stop-color="#fff400"/><stop offset="0.1557" stop-color="#ffe700"/><stop offset="0.1639" stop-color="#ffd900"/><stop offset="0.1721" stop-color="#ffcc00"/><stop offset="0.1803" stop-color="#ffc000"/><stop offset="0.1885" stop-color="#ffb400"/><stop offset="0.1967" stop-color="#ffa800"/><stop offset="0.2049" stop-color="#ff9e00"/><stop offset="0.2131" stop-color="#ff9500"/><stop offset="0.2213" stop-color="#ff8f00"/><stop offset="0.2295" stop-color="#ff8a00"/><stop offset="0.2377" stop-color="#ff8700"/><stop offset="0.2414" stop-color="#ff8700"/><stop offset="0.2459" stop-color="#ff8700"/><stop offset="0.2541" stop-color="#ff8900"/><stop offset="0.2623" stop-color="#ff8d00"/><stop offset="0.2705" stop-color="#ff9200"/><stop offset="0.2787" stop-color="#ff9900"/><stop offset="0.2869" stop-color="#ffa100"/><stop offset="0.2951" stop-color="#ffab00"/><stop offset="0.3033" stop-color="#ffb500"/><stop offset="0.3115" stop-color="#ffc000"/><stop offset="0.3197" stop-color="#ffcb00"/><stop offset="0.3279" stop-color="#ffd700"/><stop offset="0.3361" stop-color="#ffe300"/><stop offset="0.3443" stop-color="#fff000"/><stop offset="0.3525" stop-color="#fffc00"/><stop offset="0.3542" stop-color="#ffff00"/><stop offset="0.3607" stop-color="#f2ff0d"/><stop offset="0.3689" stop-color="#dfff20"/><stop offset="0.3770" stop-color="#c8ff37"/><stop offset="0.3852" stop-color="#afff50"/><stop offset="0.3934" stop-color="#92ff6d"/><stop offset="0.4016" stop-color="#74ff8b"/><stop offset="0.4098" stop-color="#54ffab"/><stop offset="0.4180" stop-color="#32ffcd"/><stop offset="0.4262" stop-color="#0ffff0"/><stop offset="0.4297" stop-color="#00ffff"/><stop offset="0.4344" stop-color="#00e8ff"/><stop offset="0.4426" stop-color="#00b8ff"/><stop offset="0.4508" stop-color="#0082ff"/><stop offset="0.4590" stop-color="#004bff"/><stop offset="0.4672" stop-color="#001aff"/><stop offset="0.4754" stop-color="#0000f2"/><stop offset="0.4792" stop-color="#0000e5"/><stop offset="0.4836" stop-color="#0000d9"/><stop offset="0.4918" stop-color="#0000c4"/><stop offset="0.5000" stop-color="#0000b5"/><stop offset="0.5049" stop-color="#0000b2"/><stop offset="0.5082" stop-color="#0000b4"/><stop offset="0.5164" stop-color="#0000bf"/><stop offset="0.5246" stop-color="#0000d2"/><stop offset="0.5323" stop-color="#0000e5"/><stop offset="0.5328" stop-color="#0000e7"/><stop offset="0.5410" stop-color="#0000ff"/><stop offset="0.5492" stop-color="#001fff"/><stop offset="0.5574" stop-color="#0042ff"/><stop offset="0.5656" stop-color="#0068ff"/><stop offset="0.5738" stop-color="#0090ff"/><stop offset="0.5820" stop-color="#00b6ff"/><stop offset="0.5902" stop-color="#00dbff"/><stop offset="0.5984" stop-color="#00fcff"/><stop offset="0.5993" stop-color="#00ffff"/><stop offset="0.6066" stop-color="#1bffe4"/><stop offset="0.6148" stop-color="#39ffc6"/><stop offset="0.6230" stop-color="#58ffa7"/><stop offset="0.6311" stop-color="#76ff89"/><stop offset="0.6393" stop-color="#93ff6c"/><stop offset="0.6475" stop-color="#afff50"/><stop offset="0.6557" stop-color="#c8ff37"/><stop offset="0.6639" stop-color="#deff21"/><stop offset="0.6721" stop-color="#f0ff0f"/><stop offset="0.6803" stop-color="#feff01"/><stop offset="0.6810" stop-color="#ffff00"/><stop offset="0.6885" stop-color="#fff600"/><stop offset="0.6967" stop-color="#ffec00"/><stop offset="0.7049" stop-color="#ffe300"/><stop offset="0.7131" stop-color="#ffda00"/><stop offset="0.7213" stop-color="#ffd100"/><stop offset="0.7295" stop-color="#ffca00"/><stop offset="0.7377" stop-color="#ffc300"/><stop offset="0.7459" stop-color="#ffbd00"/><stop offset="0.7541" stop-color="#ffb800"/><stop offset="0.7623" stop-color="#ffb400"/><stop offset="0.7705" stop-color="#ffb100"/><stop offset="0.7787" stop-color="#ffb000"/><stop offset="0.7815" stop-color="#ffb000"/><stop offset="0.7869" stop-color="#ffb100"/><stop offset="0.7951" stop-color="#ffb400"/><stop offset="0.8033" stop-color="#ffba00"/><stop offset="0.8115" stop-color="#ffc100"/><stop offset="0.8197" stop-color="#ffca00"/><stop offset="0.8279" stop-color="#ffd500"/><stop offset="0.8361" stop-color="#ffe000"/><stop offset="0.8443" stop-color="#ffec00"/><stop offset="0.8525" stop-color="#fff900"/><stop offset="0.8566" stop-color="#ffff00"/><stop offset="0.8607" stop-color="#f8ff07"/><stop offset="0.8689" stop-color="#e5ff1a"/><stop offset="0.8770" stop-color="#d0ff2f"/><stop offset="0.8852" stop-color="#b7ff48"/><stop offset="0.8934" stop-color="#9bff64"/><stop offset="0.9016" stop-color="#7dff82"/><stop offset="0.9098" stop-color="#5dffa2"/><stop offset="0.9180" stop-color="#3bffc4"/><stop offset="0.9262" stop-color="#19ffe6"/><stop offset="0.9322" stop-color="#00ffff"/><stop offset="0.9344" stop-color="#00f5ff"/><stop offset="0.9426" stop-color="#00d0ff"/><stop offset="0.9508" stop-color="#00a8ff"/><stop offset="0.9590" stop-color="#007cff"/><stop offset="0.9672" stop-color="#004eff"/><stop offset="0.9754" stop-color="#001eff"/><stop offset="0.9836" stop-color="#0000ea"/><stop offset="0.9918" stop-color="#0000b6"/><stop offset="1.0000" stop-color="#000080"/></linearGradient></defs>
<rect width="976" height="792" fill="#fff"/>
<g shape-rendering="crispEdges"><rect x="389.20" y="63.80" width="78.70" height="9.50" fill="url(#g1)"/><rect x="403.30" y="73.00" width="64.60" height="14.57" fill="url(#g2)"/><rect x="417.80" y="87.27" width="49.70" height="14.57" fill="url(#g3)"/><rect x="419.20" y="101.54" width="38.50" height="14.57" fill="url(#g4)"/><rect x="418.00" y="115.81" width="42.00" height="14.57" fill="url(#g5)"/><rect x="414.20" y="130.08" width="49.40" height="14.57" fill="url(#g6)"/><rect x="408.80" y="144.35" width="63.30" height="14.57" fill="url(#g7)"/><rect x="396.00" y="158.62" width="92.00" height="14.57" fill="url(#g8)"/><rect x="398.50" y="172.89" width="86.00" height="14.57" fill="url(#g9)"/><rect x="403.40" y="187.16" width="72.40" height="14.57" fill="url(#g10)"/><rect x="410.00" y="201.43" width="78.00" height="14.57" fill="url(#g11)"/><rect x="407.00" y="215.70" width="92.40" height="14.57" fill="url(#g12)"/><rect x="401.70" y="229.97" width="118.30" height="14.57" fill="url(#g13)"/><rect x="404.60" y="244.24" width="135.40" height="14.57" fill="url(#g14)"/><rect x="413.50" y="258.51" width="110.50" height="14.57" fill="url(#g15)"/><rect x="395.60" y="272.78" width="143.90" height="14.57" fill="url(#g16)"/><rect x="380.20" y="287.05" width="154.00" height="14.57" fill="url(#g17)"/><rect x="388.00" y="301.32" width="167.60" height="14.57" fill="url(#g18)"/><rect x="375.40" y="315.59" width="159.10" height="14.57" fill="url(#g19)"/><rect x="372.20" y="329.86" width="188.80" height="14.57" fill="url(#g20)"/><rect x="369.10" y="344.13" width="218.90" height="8.67" fill="url(#g21)"/><rect x="361.30" y="352.50" width="106.70" height="15.80" fill="url(#g22)"/><rect x="486.80" y="352.50" width="67.20" height="15.80" fill="url(#g23)"/><rect x="346.90" y="368.00" width="112.60" height="14.60" fill="url(#g24)"/><rect x="486.50" y="368.00" width="61.40" height="14.60" fill="url(#g25)"/><rect x="331.20" y="382.30" width="119.80" height="14.60" fill="url(#g26)"/><rect x="485.30" y="382.30" width="57.40" height="14.60" fill="url(#g27)"/><rect x="302.60" y="396.60" width="130.00" height="14.60" fill="url(#g28)"/><rect x="477.50" y="396.60" width="76.90" height="14.60" fill="url(#g29)"/><rect x="305.80" y="410.90" width="123.70" height="14.60" fill="url(#g30)"/><rect x="470.50" y="410.90" width="95.50" height="14.60" fill="url(#g31)"/><rect x="310.00" y="425.20" width="116.40" height="14.60" fill="url(#g32)"/><rect x="473.00" y="425.20" width="93.00" height="14.60" fill="url(#g33)"/><rect x="318.60" y="439.50" width="99.90" height="14.60" fill="url(#g34)"/><rect x="475.30" y="439.50" width="90.40" height="14.60" fill="url(#g35)"/><rect x="319.00" y="453.80" width="99.50" height="14.60" fill="url(#g36)"/><rect x="477.80" y="453.80" width="86.30" height="14.60" fill="url(#g37)"/><rect x="316.80" y="468.10" width="97.00" height="14.60" fill="url(#g38)"/><rect x="476.50" y="468.10" width="88.40" height="14.60" fill="url(#g39)"/><rect x="315.70" y="482.40" width="93.30" height="14.60" fill="url(#g40)"/><rect x="475.50" y="482.40" width="90.50" height="14.60" fill="url(#g41)"/><rect x="315.50" y="496.70" width="92.10" height="14.60" fill="url(#g42)"/><rect x="463.20" y="496.70" width="111.00" height="14.60" fill="url(#g43)"/><rect x="314.80" y="511.00" width="92.80" height="14.60" fill="url(#g44)"/><rect x="449.20" y="511.00" width="133.20" height="14.60" fill="url(#g45)"/><rect x="323.70" y="525.30" width="84.30" height="14.60" fill="url(#g46)"/><rect x="455.40" y="525.30" width="117.20" height="14.60" fill="url(#g47)"/><rect x="316.70" y="539.60" width="91.90" height="14.60" fill="url(#g48)"/><rect x="463.00" y="539.60" width="100.70" height="14.60" fill="url(#g49)"/><rect x="309.60" y="553.90" width="99.20" height="14.60" fill="url(#g50)"/><rect x="455.00" y="553.90" width="106.30" height="14.60" fill="url(#g51)"/><rect x="322.80" y="568.20" width="70.60" height="14.60" fill="url(#g52)"/><rect x="461.20" y="568.20" width="99.40" height="14.60" fill="url(#g53)"/><rect x="313.90" y="582.50" width="82.50" height="14.60" fill="url(#g54)"/><rect x="466.80" y="582.50" width="93.40" height="14.60" fill="url(#g55)"/><rect x="305.00" y="596.80" width="94.40" height="14.60" fill="url(#g56)"/><rect x="446.50" y="596.80" width="113.50" height="14.60" fill="url(#g57)"/><rect x="312.10" y="611.10" width="80.70" height="14.60" fill="url(#g58)"/><rect x="462.20" y="611.10" width="108.50" height="14.60" fill="url(#g59)"/><rect x="321.00" y="625.40" width="86.40" height="14.60" fill="url(#g60)"/><rect x="455.80" y="625.40" width="119.30" height="14.60" fill="url(#g61)"/><rect x="311.80" y="639.70" width="81.70" height="14.60" fill="url(#g62)"/><rect x="449.00" y="639.70" width="116.30" height="14.60" fill="url(#g63)"/><rect x="310.70" y="654.00" width="244.80" height="17.30" fill="url(#g64)"/></g>
<line x1="77.7" y1="352.7" x2="361" y2="352.7" stroke="#ff0000" stroke-width="3.8" stroke-dasharray="9.1 7.03"/>
<line x1="596.8" y1="352.7" x2="781.3" y2="352.7" stroke="#ff0000" stroke-width="3.8" stroke-dasharray="9.1 7.01"/>
<rect x="587.6" y="350.9" width="1.6" height="3.6" fill="#ff0000"/>
<line x1="178.4" y1="315" x2="178.4" y2="390" stroke="#ff0000" stroke-width="2.1"/>
<polygon points="178.4,298 184.3,319.5 172.5,319.5" fill="#ff0000"/>
<polygon points="178.4,406.5 184.3,385 172.5,385" fill="#ff0000"/>
<text x="103.3" y="287.3" font-size="28" style="fill:#ff0000">Different Shot</text>
<rect x="70" y="670.3" width="711.3" height="47.8" fill="#000"/>
<line x1="69.2" y1="4.9" x2="781" y2="4.9" stroke="#8c8c8c" stroke-width="1.5"/>
<line x1="70.1" y1="4.2" x2="70.1" y2="718" stroke="#6a6a6a" stroke-width="1.7"/>
<line x1="780.7" y1="4.2" x2="780.7" y2="718" stroke="#484848" stroke-width="1.2"/>
<path d="M141.1 4.8v7M70.5 646.0h7M780.8 646.0h-7M235.9 4.8v7M70.5 551.0h7M780.8 551.0h-7M330.7 4.8v7M70.5 456.0h7M780.8 456.0h-7M425.5 4.8v7M70.5 361.0h7M780.8 361.0h-7M520.3 4.8v7M70.5 266.0h7M780.8 266.0h-7M615.1 4.8v7M70.5 171.0h7M780.8 171.0h-7M709.9 4.8v7M70.5 76.0h7M780.8 76.0h-7" stroke="#505050" stroke-width="1" fill="none"/>
<polygon points="422.7,4.3 428.9,4.3 425.95,57.5 425.55,57.5" fill="#000"/>
<text x="148.1" y="749.4" font-size="29.5" text-anchor="end">-6</text>
<text x="64.9" y="656.3" font-size="29.5" text-anchor="end">-6</text>
<text x="242.9" y="749.4" font-size="29.5" text-anchor="end">-4</text>
<text x="64.9" y="561.3" font-size="29.5" text-anchor="end">-4</text>
<text x="337.7" y="749.4" font-size="29.5" text-anchor="end">-2</text>
<text x="64.9" y="466.3" font-size="29.5" text-anchor="end">-2</text>
<text x="425.2" y="749.4" font-size="29.5" text-anchor="middle">0</text>
<text x="64.9" y="371.3" font-size="29.5" text-anchor="end">0</text>
<text x="520.0" y="749.4" font-size="29.5" text-anchor="middle">2</text>
<text x="64.9" y="276.3" font-size="29.5" text-anchor="end">2</text>
<text x="614.8" y="749.4" font-size="29.5" text-anchor="middle">4</text>
<text x="64.9" y="181.3" font-size="29.5" text-anchor="end">4</text>
<text x="709.6" y="749.4" font-size="29.5" text-anchor="middle">6</text>
<text x="64.9" y="86.3" font-size="29.5" text-anchor="end">6</text>
<text x="385" y="784.3" font-size="33.2"><tspan font-style="italic">x</tspan>[mm]</text>
<text transform="translate(26.2,399.9) rotate(-90)" font-size="32.7"><tspan font-style="italic">y</tspan>[mm]</text>
<g shape-rendering="crispEdges"><rect x="811.80" y="707.51" width="40.30" height="10.99" fill="#000087"/><rect x="811.80" y="702.02" width="40.30" height="5.89" fill="#00008f"/><rect x="811.80" y="696.52" width="40.30" height="5.89" fill="#000097"/><rect x="811.80" y="691.03" width="40.30" height="5.89" fill="#00009f"/><rect x="811.80" y="685.54" width="40.30" height="5.89" fill="#0000a7"/><rect x="811.80" y="680.05" width="40.30" height="5.89" fill="#0000af"/><rect x="811.80" y="674.55" width="40.30" height="5.89" fill="#0000b7"/><rect x="811.80" y="669.06" width="40.30" height="5.89" fill="#0000bf"/><rect x="811.80" y="663.57" width="40.30" height="5.89" fill="#0000c7"/><rect x="811.80" y="658.08" width="40.30" height="5.89" fill="#0000cf"/><rect x="811.80" y="652.59" width="40.30" height="5.89" fill="#0000d7"/><rect x="811.80" y="647.09" width="40.30" height="5.89" fill="#0000df"/><rect x="811.80" y="641.60" width="40.30" height="5.89" fill="#0000e7"/><rect x="811.80" y="636.11" width="40.30" height="5.89" fill="#0000ef"/><rect x="811.80" y="630.62" width="40.30" height="5.89" fill="#0000f7"/><rect x="811.80" y="625.12" width="40.30" height="5.89" fill="#0000ff"/><rect x="811.80" y="619.63" width="40.30" height="5.89" fill="#0008ff"/><rect x="811.80" y="614.14" width="40.30" height="5.89" fill="#0010ff"/><rect x="811.80" y="608.65" width="40.30" height="5.89" fill="#0018ff"/><rect x="811.80" y="603.16" width="40.30" height="5.89" fill="#0020ff"/><rect x="811.80" y="597.66" width="40.30" height="5.89" fill="#0028ff"/><rect x="811.80" y="592.17" width="40.30" height="5.89" fill="#0030ff"/><rect x="811.80" y="586.68" width="40.30" height="5.89" fill="#0038ff"/><rect x="811.80" y="581.19" width="40.30" height="5.89" fill="#0040ff"/><rect x="811.80" y="575.70" width="40.30" height="5.89" fill="#0048ff"/><rect x="811.80" y="570.20" width="40.30" height="5.89" fill="#0050ff"/><rect x="811.80" y="564.71" width="40.30" height="5.89" fill="#0058ff"/><rect x="811.80" y="559.22" width="40.30" height="5.89" fill="#0060ff"/><rect x="811.80" y="553.73" width="40.30" height="5.89" fill="#0068ff"/><rect x="811.80" y="548.23" width="40.30" height="5.89" fill="#0070ff"/><rect x="811.80" y="542.74" width="40.30" height="5.89" fill="#0078ff"/><rect x="811.80" y="537.25" width="40.30" height="5.89" fill="#0080ff"/><rect x="811.80" y="531.76" width="40.30" height="5.89" fill="#0087ff"/><rect x="811.80" y="526.27" width="40.30" height="5.89" fill="#008fff"/><rect x="811.80" y="520.77" width="40.30" height="5.89" fill="#0097ff"/><rect x="811.80" y="515.28" width="40.30" height="5.89" fill="#009fff"/><rect x="811.80" y="509.79" width="40.30" height="5.89" fill="#00a7ff"/><rect x="811.80" y="504.30" width="40.30" height="5.89" fill="#00afff"/><rect x="811.80" y="498.80" width="40.30" height="5.89" fill="#00b7ff"/><rect x="811.80" y="493.31" width="40.30" height="5.89" fill="#00bfff"/><rect x="811.80" y="487.82" width="40.30" height="5.89" fill="#00c7ff"/><rect x="811.80" y="482.33" width="40.30" height="5.89" fill="#00cfff"/><rect x="811.80" y="476.84" width="40.30" height="5.89" fill="#00d7ff"/><rect x="811.80" y="471.34" width="40.30" height="5.89" fill="#00dfff"/><rect x="811.80" y="465.85" width="40.30" height="5.89" fill="#00e7ff"/><rect x="811.80" y="460.36" width="40.30" height="5.89" fill="#00efff"/><rect x="811.80" y="454.87" width="40.30" height="5.89" fill="#00f7ff"/><rect x="811.80" y="449.38" width="40.30" height="5.89" fill="#00ffff"/><rect x="811.80" y="443.88" width="40.30" height="5.89" fill="#08fff7"/><rect x="811.80" y="438.39" width="40.30" height="5.89" fill="#10ffef"/><rect x="811.80" y="432.90" width="40.30" height="5.89" fill="#18ffe7"/><rect x="811.80" y="427.41" width="40.30" height="5.89" fill="#20ffdf"/><rect x="811.80" y="421.91" width="40.30" height="5.89" fill="#28ffd7"/><rect x="811.80" y="416.42" width="40.30" height="5.89" fill="#30ffcf"/><rect x="811.80" y="410.93" width="40.30" height="5.89" fill="#38ffc7"/><rect x="811.80" y="405.44" width="40.30" height="5.89" fill="#40ffbf"/><rect x="811.80" y="399.95" width="40.30" height="5.89" fill="#48ffb7"/><rect x="811.80" y="394.45" width="40.30" height="5.89" fill="#50ffaf"/><rect x="811.80" y="388.96" width="40.30" height="5.89" fill="#58ffa7"/><rect x="811.80" y="383.47" width="40.30" height="5.89" fill="#60ff9f"/><rect x="811.80" y="377.98" width="40.30" height="5.89" fill="#68ff97"/><rect x="811.80" y="372.48" width="40.30" height="5.89" fill="#70ff8f"/><rect x="811.80" y="366.99" width="40.30" height="5.89" fill="#78ff87"/><rect x="811.80" y="361.50" width="40.30" height="5.89" fill="#80ff80"/><rect x="811.80" y="356.01" width="40.30" height="5.89" fill="#87ff78"/><rect x="811.80" y="350.52" width="40.30" height="5.89" fill="#8fff70"/><rect x="811.80" y="345.02" width="40.30" height="5.89" fill="#97ff68"/><rect x="811.80" y="339.53" width="40.30" height="5.89" fill="#9fff60"/><rect x="811.80" y="334.04" width="40.30" height="5.89" fill="#a7ff58"/><rect x="811.80" y="328.55" width="40.30" height="5.89" fill="#afff50"/><rect x="811.80" y="323.05" width="40.30" height="5.89" fill="#b7ff48"/><rect x="811.80" y="317.56" width="40.30" height="5.89" fill="#bfff40"/><rect x="811.80" y="312.07" width="40.30" height="5.89" fill="#c7ff38"/><rect x="811.80" y="306.58" width="40.30" height="5.89" fill="#cfff30"/><rect x="811.80" y="301.09" width="40.30" height="5.89" fill="#d7ff28"/><rect x="811.80" y="295.59" width="40.30" height="5.89" fill="#dfff20"/><rect x="811.80" y="290.10" width="40.30" height="5.89" fill="#e7ff18"/><rect x="811.80" y="284.61" width="40.30" height="5.89" fill="#efff10"/><rect x="811.80" y="279.12" width="40.30" height="5.89" fill="#f7ff08"/><rect x="811.80" y="273.62" width="40.30" height="5.89" fill="#ffff00"/><rect x="811.80" y="268.13" width="40.30" height="5.89" fill="#fff700"/><rect x="811.80" y="262.64" width="40.30" height="5.89" fill="#ffef00"/><rect x="811.80" y="257.15" width="40.30" height="5.89" fill="#ffe700"/><rect x="811.80" y="251.66" width="40.30" height="5.89" fill="#ffdf00"/><rect x="811.80" y="246.16" width="40.30" height="5.89" fill="#ffd700"/><rect x="811.80" y="240.67" width="40.30" height="5.89" fill="#ffcf00"/><rect x="811.80" y="235.18" width="40.30" height="5.89" fill="#ffc700"/><rect x="811.80" y="229.69" width="40.30" height="5.89" fill="#ffbf00"/><rect x="811.80" y="224.20" width="40.30" height="5.89" fill="#ffb700"/><rect x="811.80" y="218.70" width="40.30" height="5.89" fill="#ffaf00"/><rect x="811.80" y="213.21" width="40.30" height="5.89" fill="#ffa700"/><rect x="811.80" y="207.72" width="40.30" height="5.89" fill="#ff9f00"/><rect x="811.80" y="202.23" width="40.30" height="5.89" fill="#ff9700"/><rect x="811.80" y="196.73" width="40.30" height="5.89" fill="#ff8f00"/><rect x="811.80" y="191.24" width="40.30" height="5.89" fill="#ff8700"/><rect x="811.80" y="185.75" width="40.30" height="5.89" fill="#ff8000"/><rect x="811.80" y="180.26" width="40.30" height="5.89" fill="#ff7800"/><rect x="811.80" y="174.77" width="40.30" height="5.89" fill="#ff7000"/><rect x="811.80" y="169.27" width="40.30" height="5.89" fill="#ff6800"/><rect x="811.80" y="163.78" width="40.30" height="5.89" fill="#ff6000"/><rect x="811.80" y="158.29" width="40.30" height="5.89" fill="#ff5800"/><rect x="811.80" y="152.80" width="40.30" height="5.89" fill="#ff5000"/><rect x="811.80" y="147.30" width="40.30" height="5.89" fill="#ff4800"/><rect x="811.80" y="141.81" width="40.30" height="5.89" fill="#ff4000"/><rect x="811.80" y="136.32" width="40.30" height="5.89" fill="#ff3800"/><rect x="811.80" y="130.83" width="40.30" height="5.89" fill="#ff3000"/><rect x="811.80" y="125.34" width="40.30" height="5.89" fill="#ff2800"/><rect x="811.80" y="119.84" width="40.30" height="5.89" fill="#ff2000"/><rect x="811.80" y="114.35" width="40.30" height="5.89" fill="#ff1800"/><rect x="811.80" y="108.86" width="40.30" height="5.89" fill="#ff1000"/><rect x="811.80" y="103.37" width="40.30" height="5.89" fill="#ff0800"/><rect x="811.80" y="97.88" width="40.30" height="5.89" fill="#ff0000"/><rect x="811.80" y="92.38" width="40.30" height="5.89" fill="#f70000"/><rect x="811.80" y="86.89" width="40.30" height="5.89" fill="#ef0000"/><rect x="811.80" y="81.40" width="40.30" height="5.89" fill="#e70000"/><rect x="811.80" y="75.91" width="40.30" height="5.89" fill="#df0000"/><rect x="811.80" y="70.41" width="40.30" height="5.89" fill="#d70000"/><rect x="811.80" y="64.92" width="40.30" height="5.89" fill="#cf0000"/><rect x="811.80" y="59.43" width="40.30" height="5.89" fill="#c70000"/><rect x="811.80" y="53.94" width="40.30" height="5.89" fill="#bf0000"/><rect x="811.80" y="48.45" width="40.30" height="5.89" fill="#b70000"/><rect x="811.80" y="42.95" width="40.30" height="5.89" fill="#af0000"/><rect x="811.80" y="37.46" width="40.30" height="5.89" fill="#a70000"/><rect x="811.80" y="31.97" width="40.30" height="5.89" fill="#9f0000"/><rect x="811.80" y="26.48" width="40.30" height="5.89" fill="#970000"/><rect x="811.80" y="20.98" width="40.30" height="5.89" fill="#8f0000"/><rect x="811.80" y="15.49" width="40.30" height="5.89" fill="#870000"/><rect x="811.80" y="4.40" width="40.30" height="11.49" fill="#800000"/></g>
<rect x="811.8" y="4.4" width="40.3" height="713.7" fill="none" stroke="#000" stroke-width="1"/>
<text x="859.1" y="17.9" font-size="23.2">16</text>
<text x="859.1" y="105.8" font-size="23.2">15.75</text>
<text x="859.1" y="193.7" font-size="23.2">15.5</text>
<text x="859.1" y="281.5" font-size="23.2">15.25</text>
<text x="859.1" y="369.4" font-size="23.2">15</text>
<text x="859.1" y="457.3" font-size="23.2">14.75</text>
<text x="859.1" y="545.1" font-size="23.2">14.5</text>
<text x="859.1" y="633.0" font-size="23.2">14.25</text>
<text x="859.1" y="720.9" font-size="23.2">14</text>
<path d="M811.8 10.0h6M852.1 10.0h-6M811.8 97.9h6M852.1 97.9h-6M811.8 185.8h6M852.1 185.8h-6M811.8 273.6h6M852.1 273.6h-6M811.8 361.5h6M852.1 361.5h-6M811.8 449.4h6M852.1 449.4h-6M811.8 537.2h6M852.1 537.2h-6M811.8 625.1h6M852.1 625.1h-6M811.8 713.0h6M852.1 713.0h-6" stroke="#000" stroke-width="1" fill="none"/>
<g transform="translate(957.8,572.6) rotate(-90)" font-size="32.5"><text x="0" y="0">Electron</text><text x="116.5" y="0">Density</text><text x="227.2" y="0">log</text><text x="271" y="15.6" font-size="22.5">10</text><text x="300.3" y="0" font-style="italic">N</text><text x="321.5" y="15.6" font-size="22.5">e</text><text x="341.6" y="0">[cm</text><text x="390.8" y="-18" font-size="22.5">-3</text><text x="412.3" y="0">]</text></g>
</svg></body></html>
